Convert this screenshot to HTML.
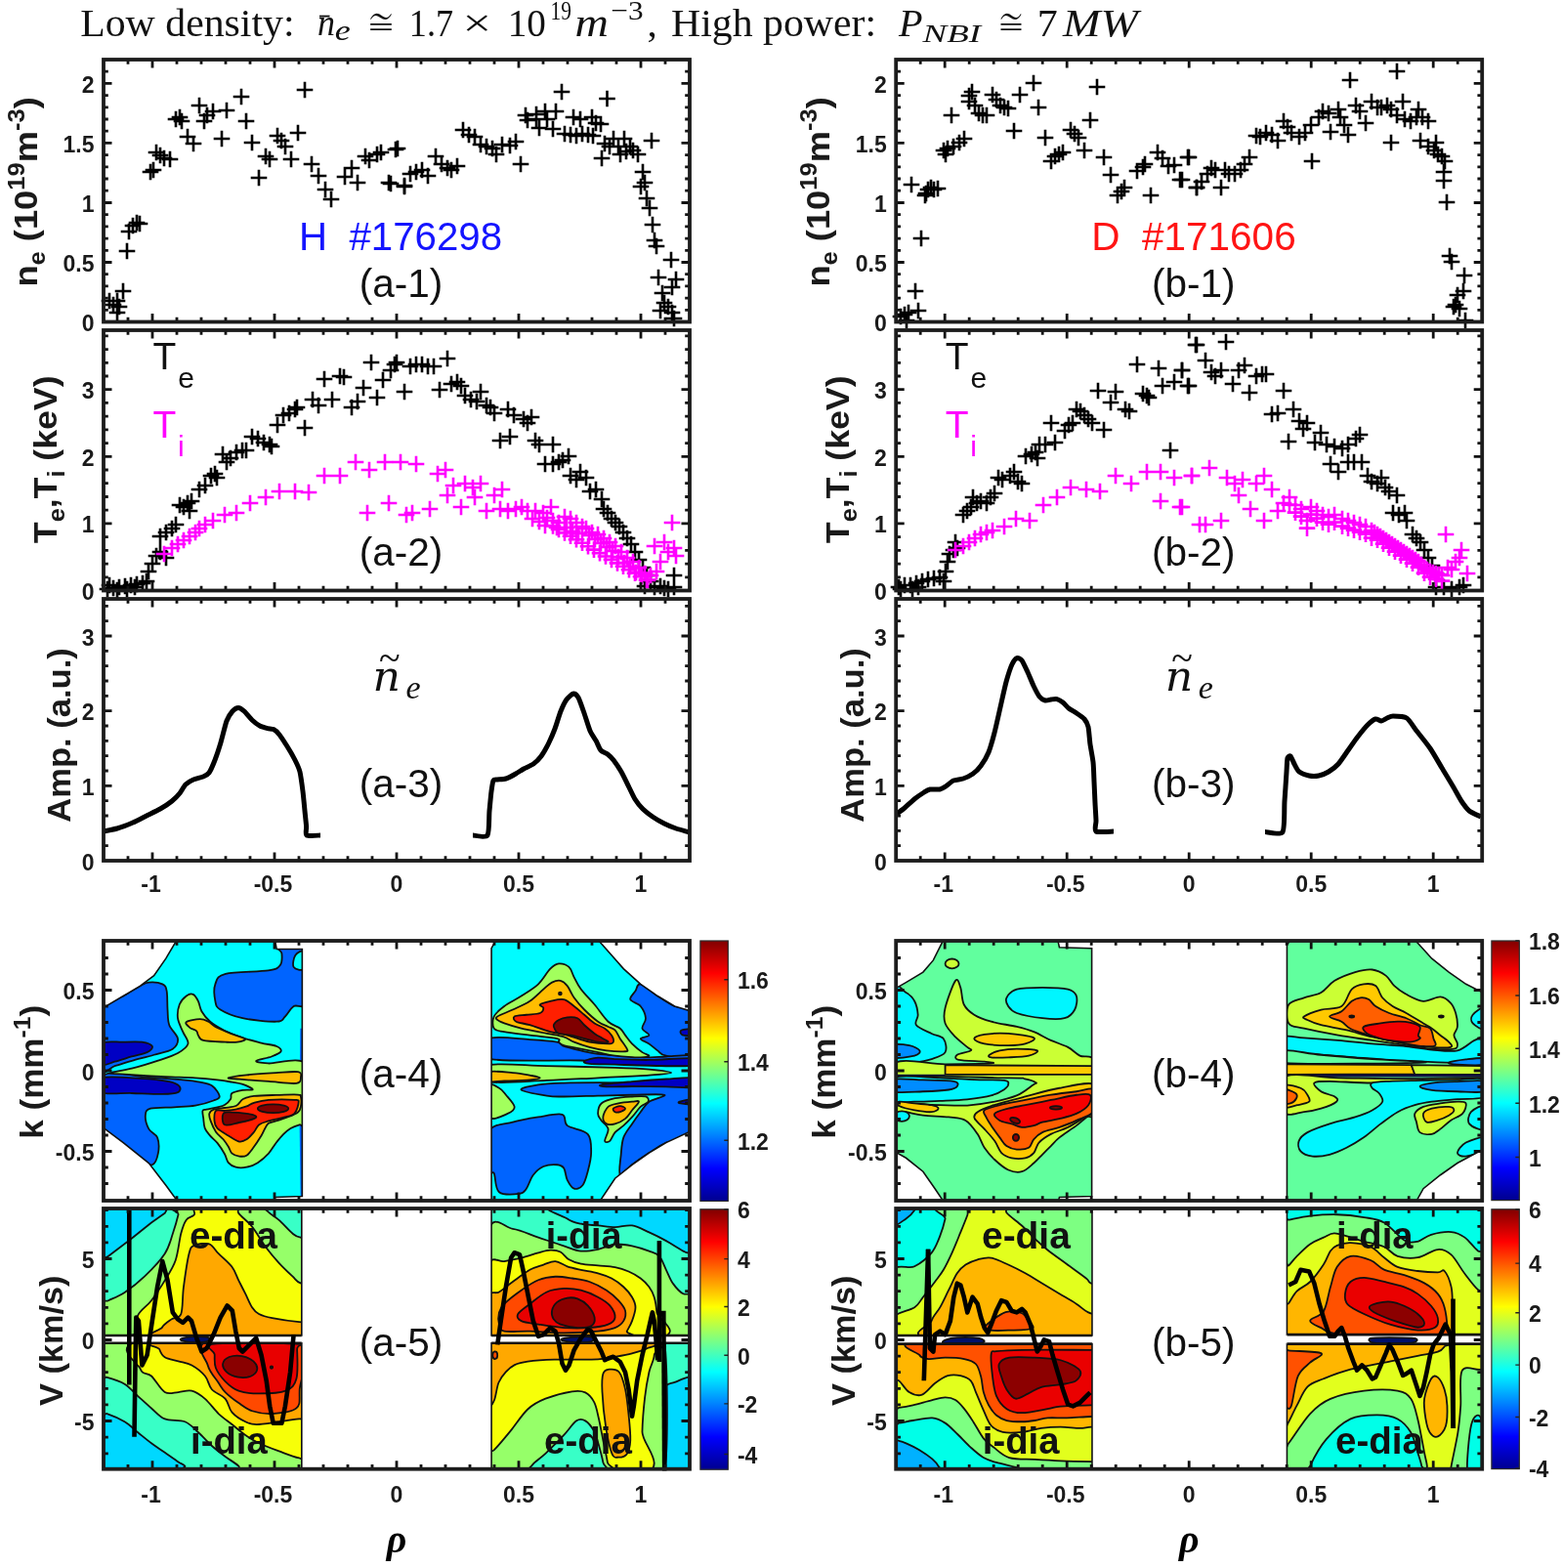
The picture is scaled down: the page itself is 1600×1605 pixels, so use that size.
<!DOCTYPE html>
<html><head><meta charset="utf-8"><title>Profiles and spectra</title>
<style>html,body{margin:0;padding:0;background:#fff;}svg{display:block;}</style></head><body>
<svg width="1600" height="1605" viewBox="0 0 1600 1605" font-family="'Liberation Sans', Arial, Helvetica, sans-serif">
<defs>
<linearGradient id="jet" x1="0" y1="1" x2="0" y2="0"><stop offset="0" stop-color="#00008f"/><stop offset="0.125" stop-color="#0000ff"/><stop offset="0.375" stop-color="#00ffff"/><stop offset="0.625" stop-color="#ffff00"/><stop offset="0.875" stop-color="#ff0000"/><stop offset="1" stop-color="#800000"/></linearGradient>
<clipPath id="clip03"><rect x="106" y="963" width="600" height="266"/></clipPath>
<clipPath id="clip04"><rect x="106" y="1237" width="600" height="266.7"/></clipPath>
<clipPath id="clip13"><rect x="917.2" y="963" width="600" height="266"/></clipPath>
<clipPath id="clip14"><rect x="917.2" y="1237" width="600" height="266.7"/></clipPath>
</defs>
<rect width="1600" height="1605" fill="#fff"/>
<g clip-path="url(#clip03)">
<g transform="translate(100 955) scale(0.17446)">
<clipPath id="cg1"><path d="M30 440 L150 370 L250 310 L330 250 L400 150 L465 40 L1040 40 L1050 95 L1200 95 L1200 1545 L1040 1550 L1040 1590 L480 1590 L400 1480 L300 1350 L150 1230 L30 1140Z"/></clipPath>
<g clip-path="url(#cg1)">
<path d="M-100 -100 L1400 -100 L1400 1700 L-100 1700Z" fill="#00fcff"/>
<path d="M20 440 C41.7 369.2 111.7 391.7 150 370 C188.3 348.3 225 323.3 250 310 C275 296.7 278.3 291.7 300 290 C321.7 288.3 362.5 291.7 380 300 C397.5 308.3 400 315 405 340 C410 365 407.5 416.7 410 450 C412.5 483.3 410 511.7 420 540 C430 568.3 466.7 596.7 470 620 C473.3 643.3 463.3 664.2 440 680 C416.7 695.8 370 703.3 330 715 C290 726.7 238.3 739.2 200 750 C161.7 760.8 130 772.5 100 780 C70 787.5 33.3 851.7 20 795 C6.7 738.3 -1.7 510.8 20 440 Z" fill="#0064ff" stroke="#111" stroke-width="1.8" vector-effect="non-scaling-stroke" stroke-linejoin="round"/>
<path d="M20 845 C66.7 793 220 845.2 300 848 C380 850.8 450 857.5 500 862 C550 866.5 571.3 869.2 600 875 C628.7 880.8 652.8 883.3 672 897 C691.2 910.7 713.7 942.7 715 957 C716.3 971.3 703.7 973.7 680 983 C656.3 992.3 611.3 1006.5 573 1013 C534.7 1019.5 493.8 1019.2 450 1022 C406.2 1024.8 338.3 1022 310 1030 C281.7 1038 281.7 1050 280 1070 C278.3 1090 288.3 1128.3 300 1150 C311.7 1171.7 340.8 1176.7 350 1200 C359.2 1223.3 360 1263.3 355 1290 C350 1316.7 337.5 1353.3 320 1360 C302.5 1366.7 278.3 1350 250 1330 C221.7 1310 188.3 1268.3 150 1240 C111.7 1211.7 41.7 1225.8 20 1160 C-1.7 1094.2 -26.7 897 20 845 Z" fill="#0064ff" stroke="#111" stroke-width="1.8" vector-effect="non-scaling-stroke" stroke-linejoin="round"/>
<path d="M1060 80 C1085 73.3 1201.7 26.7 1230 80 C1258.3 133.3 1243.3 341.7 1230 400 C1216.7 458.3 1171.7 415 1150 430 C1128.3 445 1116.7 475 1100 490 C1083.3 505 1091.7 518.3 1050 520 C1008.3 521.7 905 511.7 850 500 C795 488.3 746.7 466.7 720 450 C693.3 433.3 695 425 690 400 C685 375 680 326.7 690 300 C700 273.3 698.3 253.3 750 240 C801.7 226.7 946.7 228.3 1000 220 C1053.3 211.7 1056.7 206.7 1070 190 C1083.3 173.3 1081.7 138.3 1080 120 C1078.3 101.7 1035 86.7 1060 80 Z" fill="#0064ff" stroke="#111" stroke-width="1.8" vector-effect="non-scaling-stroke" stroke-linejoin="round"/>
<path d="M1150 200 C1141.7 186.7 1150 145 1160 130 C1170 115 1201.7 96.7 1210 110 C1218.3 123.3 1220 195 1210 210 C1200 225 1158.3 213.3 1150 200 Z" fill="#00fcff" stroke="#111" stroke-width="1.8" vector-effect="non-scaling-stroke" stroke-linejoin="round"/>
<path d="M1188 560 L1230 560 L1230 1560 L1190 1560 L1184 1100 L1186 800Z" fill="#0064ff"/>
<path d="M20 650 C41.7 628.3 110 641.7 150 640 C190 638.3 231.7 635.8 260 640 C288.3 644.2 315 655 320 665 C325 675 310 690 290 700 C270 710 231.7 715.8 200 725 C168.3 734.2 130 747.5 100 755 C70 762.5 33.3 787.5 20 770 C6.7 752.5 -1.7 671.7 20 650 Z" fill="#0000c4" stroke="#111" stroke-width="1.8" vector-effect="non-scaling-stroke" stroke-linejoin="round"/>
<path d="M20 850 C58.3 836.3 183.3 849.3 250 853 C316.7 856.7 381.7 864.2 420 872 C458.3 879.8 471.7 889.5 480 900 C488.3 910.5 486.7 927.5 470 935 C453.3 942.5 425 944.2 380 945 C335 945.8 260 941.7 200 940 C140 938.3 50 950 20 935 C-10 920 -18.3 863.7 20 850 Z" fill="#0000c4" stroke="#111" stroke-width="1.8" vector-effect="non-scaling-stroke" stroke-linejoin="round"/>
<path d="M85 818 C104.2 813 155.8 806.3 200 795 C244.2 783.7 305 765 350 750 C395 735 440 721.7 470 705 C500 688.3 525 670.8 530 650 C535 629.2 510 605 500 580 C490 555 473.3 526.7 470 500 C466.7 473.3 471.7 441.7 480 420 C488.3 398.3 506.7 380 520 370 C533.3 360 548.3 355 560 360 C571.7 365 581.7 383.3 590 400 C598.3 416.7 598.3 440 610 460 C621.7 480 638.3 501.7 660 520 C681.7 538.3 708.3 554.2 740 570 C771.7 585.8 813.3 602.5 850 615 C886.7 627.5 926.7 636.7 960 645 C993.3 653.3 1030.8 656.7 1050 665 C1069.2 673.3 1080 685 1075 695 C1070 705 1044.2 715.8 1020 725 C995.8 734.2 933.3 743.3 930 750 C926.7 756.7 950 760.8 1000 765 C1050 769.2 1191.7 716.2 1230 775 C1268.3 833.8 1237.7 1059.7 1230 1118 C1222.3 1176.3 1200.3 1120.3 1184 1125 C1167.7 1129.7 1147.8 1136.7 1132 1146 C1116.2 1155.3 1103.3 1166.7 1089 1181 C1074.7 1195.3 1060.3 1213.3 1046 1232 C1031.7 1250.7 1020.8 1273.7 1003 1293 C985.2 1312.3 960.5 1334.5 939 1348 C917.5 1361.5 895.5 1369.7 874 1374 C852.5 1378.3 827.8 1378.3 810 1374 C792.2 1369.7 777.8 1360.8 767 1348 C756.2 1335.2 755.8 1316.3 745 1297 C734.2 1277.7 716.3 1250 702 1232 C687.7 1214 671.2 1203.3 659 1189 C646.8 1174.7 635.5 1163.2 629 1146 C622.5 1128.8 622.2 1103.2 620 1086 C617.8 1068.8 613 1051.5 616 1043 C619 1034.5 623.7 1038.5 638 1035 C652.3 1031.5 684.2 1026.3 702 1022 C719.8 1017.7 732 1017 745 1009 C758 1001 772.8 985.5 780 974 C787.2 962.5 776 948.7 788 940 C800 931.3 831.7 925.7 852 922 C872.3 918.3 910 923.7 910 918 C910 912.3 872.3 895.2 852 888 C831.7 880.8 813 879.3 788 875 C763 870.7 737.8 866.2 702 862 C666.2 857.8 623.3 853.2 573 850 C522.7 846.8 462.2 846 400 843 C337.8 840 252.5 835 200 832 C147.5 829 104.2 827.3 85 825 C65.8 822.7 65.8 823 85 818 Z" fill="#a2ff5d" stroke="#111" stroke-width="1.8" vector-effect="non-scaling-stroke" stroke-linejoin="round"/>
<path d="M520 522 C530 513.7 578.3 505.3 600 505 C621.7 504.7 635 512.5 650 520 C665 527.5 668.3 538.3 690 550 C711.7 561.7 750.8 578 780 590 C809.2 602 858.3 613.7 865 622 C871.7 630.3 839.2 637 820 640 C800.8 643 783.3 641.7 750 640 C716.7 638.3 646.7 636.7 620 630 C593.3 623.3 596.7 609.2 590 600 C583.3 590.8 588.3 582.5 580 575 C571.7 567.5 550 563.8 540 555 C530 546.2 510 530.3 520 522 Z" fill="#ffbd00" stroke="#111" stroke-width="1.8" vector-effect="non-scaling-stroke" stroke-linejoin="round"/>
<path d="M767 850 C774.2 845.8 827.5 838 874 833 C920.5 828 995.8 823 1046 820 C1096.2 817 1150.7 810.8 1175 815 C1199.3 819.2 1193.5 833.8 1192 845 C1190.5 856.2 1197.5 877.7 1166 882 C1134.5 886.3 1058.8 875 1003 871 C947.2 867 870.3 861.5 831 858 C791.7 854.5 759.8 854.2 767 850 Z" fill="#ffbd00" stroke="#111" stroke-width="1.8" vector-effect="non-scaling-stroke" stroke-linejoin="round"/>
<path d="M655 1060 C652 1071.3 656.5 1085 663 1103 C669.5 1121 681.7 1150 694 1168 C706.3 1186 724.8 1196.7 737 1211 C749.2 1225.3 758.5 1240.3 767 1254 C775.5 1267.7 777.3 1283.7 788 1293 C798.7 1302.3 816.7 1308 831 1310 C845.3 1312 861.2 1312.2 874 1305 C886.8 1297.8 893.7 1286.3 908 1267 C922.3 1247.7 947.7 1209.2 960 1189 C972.3 1168.8 974.8 1158.2 982 1146 C989.2 1133.8 992.3 1123.2 1003 1116 C1013.7 1108.8 1028 1108.7 1046 1103 C1064 1097.3 1089.5 1090.5 1111 1082 C1132.5 1073.5 1161.5 1062.8 1175 1052 C1188.5 1041.2 1189.2 1032 1192 1017 C1194.8 1002 1194.8 973.3 1192 962 C1189.2 950.7 1199.3 950.8 1175 949 C1150.7 947.2 1089 949.7 1046 951 C1003 952.3 949.2 953.2 917 957 C884.8 960.8 870.2 964.7 853 974 C835.8 983.3 832 1004.3 814 1013 C796 1021.7 767.2 1022.3 745 1026 C722.8 1029.7 696 1029.3 681 1035 C666 1040.7 658 1048.7 655 1060 Z" fill="#ffbd00" stroke="#111" stroke-width="1.8" vector-effect="non-scaling-stroke" stroke-linejoin="round"/>
<path d="M694 1043 C684 1053 683.7 1085.8 685 1103 C686.3 1120.2 688.3 1131.7 702 1146 C715.7 1160.3 745.5 1176 767 1189 C788.5 1202 813.2 1220.3 831 1224 C848.8 1227.7 859.7 1220.3 874 1211 C888.3 1201.7 904.8 1182.3 917 1168 C929.2 1153.7 932.7 1135.8 947 1125 C961.3 1114.2 979.3 1110.2 1003 1103 C1026.7 1095.8 1063.8 1089.2 1089 1082 C1114.2 1074.8 1139 1075 1154 1060 C1169 1045 1179 1005.5 1179 992 C1179 978.5 1183.3 981.2 1154 979 C1124.7 976.8 1042.5 976.2 1003 979 C963.5 981.8 938.5 989.7 917 996 C895.5 1002.3 891.8 1010.5 874 1017 C856.2 1023.5 831.5 1030.7 810 1035 C788.5 1039.3 764.3 1041.7 745 1043 C725.7 1044.3 704 1033 694 1043 Z" fill="#ff1f00" stroke="#111" stroke-width="1.8" vector-effect="non-scaling-stroke" stroke-linejoin="round"/>
<path d="M737 1060 C729.8 1072.2 729.3 1116.3 745 1125 C760.7 1133.7 802.3 1117.8 831 1112 C859.7 1106.2 901.2 1096.5 917 1090 C932.8 1083.5 933.2 1078 926 1073 C918.8 1068 897 1063.5 874 1060 C851 1056.5 810.8 1052 788 1052 C765.2 1052 744.2 1047.8 737 1060 Z" fill="#800000" stroke="#111" stroke-width="1.8" vector-effect="non-scaling-stroke" stroke-linejoin="round"/>
<ellipse cx="1029" cy="1030" rx="90" ry="25" transform="rotate(0 1029 1030)" fill="#800000" stroke="#111" stroke-width="1.8" vector-effect="non-scaling-stroke"/>
</g>
<path d="M30 440 L150 370 L250 310 L330 250 L400 150 L465 40 L1040 40 L1050 95 L1200 95 L1200 1545 L1040 1550 L1040 1590 L480 1590 L400 1480 L300 1350 L150 1230 L30 1140Z" fill="none" stroke="#111" stroke-width="1.6" vector-effect="non-scaling-stroke"/>
</g>
<g transform="translate(490 955) scale(0.17446)">
<clipPath id="cg2"><path d="M75 90 L100 45 L700 40 L780 130 L850 210 L950 300 L1050 370 L1150 430 L1250 460 L1250 1160 L1100 1230 L1000 1290 L900 1360 L800 1440 L700 1590 L75 1590Z"/></clipPath>
<g clip-path="url(#cg2)">
<path d="M-100 -100 L1400 -100 L1400 1700 L-100 1700Z" fill="#00fcff"/>
<path d="M890 390 C885 375 910 355 920 340 C930 325 928.3 295 950 300 C971.7 305 1016.7 348.3 1050 370 C1083.3 391.7 1115 415 1150 430 C1185 445 1241.7 411.7 1260 460 C1278.3 508.3 1286.7 676.7 1260 720 C1233.3 763.3 1135 725 1100 720 C1065 715 1066.7 701.7 1050 690 C1033.3 678.3 1016.7 661.7 1000 650 C983.3 638.3 950 628.3 950 620 C950 611.7 998.3 610 1000 600 C1001.7 590 963.3 576.7 960 560 C956.7 543.3 981.7 521.7 980 500 C978.3 478.3 965 448.3 950 430 C935 411.7 895 405 890 390 Z" fill="#0064ff" stroke="#111" stroke-width="1.8" vector-effect="non-scaling-stroke" stroke-linejoin="round"/>
<path d="M60 620 C100 601.2 233.3 621.7 300 625 C366.7 628.3 426.7 633.3 460 640 C493.3 646.7 476.7 656.7 500 665 C523.3 673.3 566.7 682.5 600 690 C633.3 697.5 658.3 705 700 710 C741.7 715 800 716.7 850 720 C900 723.3 958.3 729.2 1000 730 C1041.7 730.8 1056.7 726.7 1100 725 C1143.3 723.3 1233.3 712.5 1260 720 C1286.7 727.5 1320 762.5 1260 770 C1200 777.5 1010 768.7 900 765 C790 761.3 740 752.5 600 748 C460 743.5 150 759.3 60 738 C-30 716.7 20 638.8 60 620 Z" fill="#0064ff" stroke="#111" stroke-width="1.8" vector-effect="non-scaling-stroke" stroke-linejoin="round"/>
<path d="M620 752 C628.3 746.2 670 734 700 732 C730 730 750 737.8 800 740 C850 742.2 923.3 745.8 1000 745 C1076.7 744.2 1216.7 729.5 1260 735 C1303.3 740.5 1303.3 770.8 1260 778 C1216.7 785.2 1076.7 779 1000 778 C923.3 777 858.3 773.8 800 772 C741.7 770.2 680 770.3 650 767 C620 763.7 611.7 757.8 620 752 Z" fill="#0000c4" stroke="#111" stroke-width="1.8" vector-effect="non-scaling-stroke" stroke-linejoin="round"/>
<path d="M60 775 C116.7 759.7 276.7 777.5 400 780 C523.3 782.5 700 786.7 800 790 C900 793.3 945 795 1000 800 C1055 805 1130 814.2 1130 820 C1130 825.8 1071.7 830 1000 835 C928.3 840 800 845 700 850 C600 855 506.7 861.3 400 865 C293.3 868.7 116.7 887 60 872 C3.3 857 3.3 790.3 60 775 Z" fill="#a2ff5d" stroke="#111" stroke-width="1.8" vector-effect="non-scaling-stroke" stroke-linejoin="round"/>
<path d="M60 815 C83.3 806.7 160 816.7 200 820 C240 823.3 273.3 830 300 835 C326.7 840 360 845.5 360 850 C360 854.5 335 859 300 862 C265 865 190 866.7 150 868 C110 869.3 75 878.8 60 870 C45 861.2 36.7 823.3 60 815 Z" fill="#ffbd00" stroke="#111" stroke-width="1.8" vector-effect="non-scaling-stroke" stroke-linejoin="round"/>
<path d="M250 920 C241.7 909.2 308.3 896.7 350 890 C391.7 883.3 441.7 882 500 880 C558.3 878 633.3 878 700 878 C766.7 878 835 878 900 880 C965 882 1030 890 1090 890 C1150 890 1231.7 833.3 1260 880 C1288.3 926.7 1286.7 1111.7 1260 1170 C1233.3 1228.3 1143.3 1210 1100 1230 C1056.7 1250 1033.3 1268.3 1000 1290 C966.7 1311.7 928.3 1338.3 900 1360 C871.7 1381.7 840.8 1430 830 1420 C819.2 1410 831.7 1336.7 835 1300 C838.3 1263.3 839.2 1230 850 1200 C860.8 1170 883.3 1145 900 1120 C916.7 1095 933.3 1071.7 950 1050 C966.7 1028.3 976.7 1006.7 1000 990 C1023.3 973.3 1106.7 956.7 1090 950 C1073.3 943.3 965 949.2 900 950 C835 950.8 766.7 953.3 700 955 C633.3 956.7 550 960 500 960 C450 960 441.7 961.7 400 955 C358.3 948.3 258.3 930.8 250 920 Z" fill="#0064ff" stroke="#111" stroke-width="1.8" vector-effect="non-scaling-stroke" stroke-linejoin="round"/>
<path d="M720 890 C745 885 836.7 877.5 900 872 C963.3 866.5 1040 860.3 1100 857 C1160 853.7 1233.3 844 1260 852 C1286.7 860 1286.7 896.7 1260 905 C1233.3 913.3 1160 902.8 1100 902 C1040 901.2 958.3 900 900 900 C841.7 900 780 903.7 750 902 C720 900.3 695 895 720 890 Z" fill="#0000c4" stroke="#111" stroke-width="1.8" vector-effect="non-scaling-stroke" stroke-linejoin="round"/>
<path d="M1190 570 C1200.8 564.5 1248.3 560 1260 565 C1271.7 570 1270.8 594.5 1260 600 C1249.2 605.5 1206.7 603 1195 598 C1183.3 593 1179.2 575.5 1190 570 Z" fill="#0000c4" stroke="#111" stroke-width="1.8" vector-effect="non-scaling-stroke" stroke-linejoin="round"/>
<path d="M1180 990 C1192.5 985.8 1246.7 972.5 1260 975 C1273.3 977.5 1272.5 1000.8 1260 1005 C1247.5 1009.2 1198.3 1002.5 1185 1000 C1171.7 997.5 1167.5 994.2 1180 990 Z" fill="#0000c4" stroke="#111" stroke-width="1.8" vector-effect="non-scaling-stroke" stroke-linejoin="round"/>
<path d="M60 900 C70 871.7 103.3 901.7 120 910 C136.7 918.3 145 931.7 160 950 C175 968.3 208.3 1001.7 210 1020 C211.7 1038.3 195 1050 170 1060 C145 1070 78.3 1106.7 60 1080 C41.7 1053.3 50 928.3 60 900 Z" fill="#a2ff5d" stroke="#111" stroke-width="1.8" vector-effect="non-scaling-stroke" stroke-linejoin="round"/>
<path d="M60 1165 C83.3 1116.7 151.7 1124.2 200 1110 C248.3 1095.8 301.7 1087.5 350 1080 C398.3 1072.5 461.7 1056.7 490 1065 C518.3 1073.3 495 1110.8 520 1130 C545 1149.2 616.7 1153.3 640 1180 C663.3 1206.7 660 1253.3 660 1290 C660 1326.7 648.3 1368.3 640 1400 C631.7 1431.7 623.3 1463.3 610 1480 C596.7 1496.7 575 1505 560 1500 C545 1495 530 1470 520 1450 C510 1430 510 1395 500 1380 C490 1365 480 1361.7 460 1360 C440 1358.3 403.3 1360 380 1370 C356.7 1380 336.7 1398.3 320 1420 C303.3 1441.7 293.3 1481.7 280 1500 C266.7 1518.3 266.7 1526.7 240 1530 C213.3 1533.3 145 1540 120 1520 C95 1500 100 1430 90 1410 C80 1390 65 1440.8 60 1400 C55 1359.2 36.7 1213.3 60 1165 Z" fill="#0064ff" stroke="#111" stroke-width="1.8" vector-effect="non-scaling-stroke" stroke-linejoin="round"/>
<path d="M90 490 C100 468.3 123.3 450 150 430 C176.7 410 216.7 391.7 250 370 C283.3 348.3 321.7 326.7 350 300 C378.3 273.3 400 230 420 210 C440 190 451.7 181.7 470 180 C488.3 178.3 515 186.7 530 200 C545 213.3 548.3 238.3 560 260 C571.7 281.7 580 303.3 600 330 C620 356.7 653.3 388.3 680 420 C706.7 451.7 735 496.7 760 520 C785 543.3 813.3 546.7 830 560 C846.7 573.3 848.3 585 860 600 C871.7 615 883.3 633.3 900 650 C916.7 666.7 943.3 688.3 960 700 C976.7 711.7 1001.7 715 1000 720 C998.3 725 983.3 730 950 730 C916.7 730 841.7 725 800 720 C758.3 715 733.3 706.7 700 700 C666.7 693.3 633.3 686.7 600 680 C566.7 673.3 521.7 666.7 500 660 C478.3 653.3 476.7 646.7 470 640 C463.3 633.3 488.3 626.7 460 620 C431.7 613.3 351.7 606.7 300 600 C248.3 593.3 185 586.7 150 580 C115 573.3 100 575 90 560 C80 545 80 511.7 90 490 Z" fill="#a2ff5d" stroke="#111" stroke-width="1.8" vector-effect="non-scaling-stroke" stroke-linejoin="round"/>
<path d="M110 490 C125 480 168.3 465 200 450 C231.7 435 270 420 300 400 C330 380 358.3 348.3 380 330 C401.7 311.7 413.3 298.3 430 290 C446.7 281.7 465 276.7 480 280 C495 283.3 506.7 293.3 520 310 C533.3 326.7 543.3 356.7 560 380 C576.7 403.3 596.7 426.7 620 450 C643.3 473.3 676.7 503.3 700 520 C723.3 536.7 743.3 541.7 760 550 C776.7 558.3 788.3 558.3 800 570 C811.7 581.7 818.3 601.7 830 620 C841.7 638.3 865 667.5 870 680 C875 692.5 880 693.3 860 695 C840 696.7 785 694.2 750 690 C715 685.8 681.7 678.3 650 670 C618.3 661.7 585 650 560 640 C535 630 526.7 618.3 500 610 C473.3 601.7 441.7 598.3 400 590 C358.3 581.7 291.7 570 250 560 C208.3 550 173.3 538.3 150 530 C126.7 521.7 116.7 516.7 110 510 C103.3 503.3 95 500 110 490 Z" fill="#ffbd00" stroke="#111" stroke-width="1.8" vector-effect="non-scaling-stroke" stroke-linejoin="round"/>
<path d="M210 490 C220 483.3 255 483.3 280 480 C305 476.7 343.3 476.7 360 470 C376.7 463.3 380 448.3 380 440 C380 431.7 353.3 426.7 360 420 C366.7 413.3 396.7 405 420 400 C443.3 395 476.7 385 500 390 C523.3 395 540 415 560 430 C580 445 600 463.3 620 480 C640 496.7 660 516.7 680 530 C700 543.3 723.3 548.3 740 560 C756.7 571.7 771.7 586.7 780 600 C788.3 613.3 793.3 631.7 790 640 C786.7 648.3 783.3 650 760 650 C736.7 650 690 648.3 650 640 C610 631.7 558.3 610 520 600 C481.7 590 456.7 590 420 580 C383.3 570 333.3 550 300 540 C266.7 530 235 528.3 220 520 C205 511.7 200 496.7 210 490 Z" fill="#ff1f00" stroke="#111" stroke-width="1.8" vector-effect="non-scaling-stroke" stroke-linejoin="round"/>
<path d="M440 540 C443.3 530 456.7 517.5 470 510 C483.3 502.5 501.7 496.7 520 495 C538.3 493.3 563.3 492.5 580 500 C596.7 507.5 603.3 525 620 540 C636.7 555 661.7 576.7 680 590 C698.3 603.3 716.7 611.7 730 620 C743.3 628.3 765 636.7 760 640 C755 643.3 723.3 643.3 700 640 C676.7 636.7 646.7 626.7 620 620 C593.3 613.3 565 605 540 600 C515 595 485 595 470 590 C455 585 455 578.3 450 570 C445 561.7 436.7 550 440 540 Z" fill="#800000" stroke="#111" stroke-width="1.8" vector-effect="non-scaling-stroke" stroke-linejoin="round"/>
<ellipse cx="478" cy="355" rx="8" ry="8" transform="rotate(0 478 355)" fill="#333" stroke="#111" stroke-width="1.8" vector-effect="non-scaling-stroke"/>
<path d="M700 1060 C700 1043.3 703.3 1015 720 1000 C736.7 985 770 976.7 800 970 C830 963.3 870 961.7 900 960 C930 958.3 964.2 955 980 960 C995.8 965 1000 980 995 990 C990 1000 965.8 1005 950 1020 C934.2 1035 916.7 1061.7 900 1080 C883.3 1098.3 866.7 1115 850 1130 C833.3 1145 813.3 1155 800 1170 C786.7 1185 780 1211.7 770 1220 C760 1228.3 741.7 1231.7 740 1220 C738.3 1208.3 763.3 1170 760 1150 C756.7 1130 730 1115 720 1100 C710 1085 700 1076.7 700 1060 Z" fill="#a2ff5d" stroke="#111" stroke-width="1.8" vector-effect="non-scaling-stroke" stroke-linejoin="round"/>
<path d="M730 1080 C731.7 1063.3 745 1033.3 760 1020 C775 1006.7 796.7 1005 820 1000 C843.3 995 880 991.7 900 990 C920 988.3 940 981.7 940 990 C940 998.3 913.3 1023.3 900 1040 C886.7 1056.7 876.7 1076.7 860 1090 C843.3 1103.3 818.3 1115 800 1120 C781.7 1125 761.7 1126.7 750 1120 C738.3 1113.3 728.3 1096.7 730 1080 Z" fill="#ffbd00" stroke="#111" stroke-width="1.8" vector-effect="non-scaling-stroke" stroke-linejoin="round"/>
<path d="M790 1030 C795 1024.2 818.3 1015 830 1015 C841.7 1015 860 1024.2 860 1030 C860 1035.8 840 1046.7 830 1050 C820 1053.3 806.7 1053.3 800 1050 C793.3 1046.7 785 1035.8 790 1030 Z" fill="#ff1f00" stroke="#111" stroke-width="1.8" vector-effect="non-scaling-stroke" stroke-linejoin="round"/>
</g>
<path d="M75 90 L100 45 L700 40 L780 130 L850 210 L950 300 L1050 370 L1150 430 L1250 460 L1250 1160 L1100 1230 L1000 1290 L900 1360 L800 1440 L700 1590 L75 1590Z" fill="none" stroke="#111" stroke-width="1.6" vector-effect="non-scaling-stroke"/>
</g>
</g>
<g clip-path="url(#clip13)">
<g transform="translate(910 955) scale(0.17446)">
<clipPath id="cg3"><path d="M30 330 L100 290 L200 230 L260 160 L320 40 L990 40 L1000 85 L1190 90 L1190 1545 L1000 1550 L990 1590 L330 1590 L270 1500 L200 1400 L100 1320 L30 1280Z"/></clipPath>
<g clip-path="url(#cg3)">
<path d="M-100 -100 L1400 -100 L1400 1700 L-100 1700Z" fill="#61ff9e"/>
<path d="M20 330 C33.3 260.8 78.3 338.3 100 350 C121.7 361.7 138.3 378.3 150 400 C161.7 421.7 168.3 456.7 170 480 C171.7 503.3 146.7 521.7 160 540 C173.3 558.3 223.3 576.7 250 590 C276.7 603.3 306.7 601.7 320 620 C333.3 638.3 341.7 680 330 700 C318.3 720 280 730 250 740 C220 750 188.3 755.8 150 760 C111.7 764.2 41.7 836.7 20 765 C-1.7 693.3 6.7 399.2 20 330 Z" fill="#00f6ff" stroke="#111" stroke-width="1.8" vector-effect="non-scaling-stroke" stroke-linejoin="round"/>
<path d="M20 660 C36.7 648.3 93.3 655 120 660 C146.7 665 175 680 180 690 C185 700 176.7 713.3 150 720 C123.3 726.7 41.7 740 20 730 C-1.7 720 3.3 671.7 20 660 Z" fill="#008cff" stroke="#111" stroke-width="1.8" vector-effect="non-scaling-stroke" stroke-linejoin="round"/>
<ellipse cx="370" cy="180" rx="40" ry="28" transform="rotate(0 370 180)" fill="#cbff34" stroke="#111" stroke-width="1.8" vector-effect="non-scaling-stroke"/>
<path d="M690 380 C698.3 363.3 715 340 750 330 C785 320 850 320 900 320 C950 320 1016.7 321.7 1050 330 C1083.3 338.3 1093.3 350 1100 370 C1106.7 390 1101.7 428.3 1090 450 C1078.3 471.7 1061.7 491.7 1030 500 C998.3 508.3 946.7 505 900 500 C853.3 495 783.3 481.7 750 470 C716.7 458.3 710 445 700 430 C690 415 681.7 396.7 690 380 Z" fill="#00f6ff" stroke="#111" stroke-width="1.8" vector-effect="non-scaling-stroke" stroke-linejoin="round"/>
<path d="M390 280 C405 260 411.7 296.7 420 320 C428.3 343.3 426.7 393.3 440 420 C453.3 446.7 473.3 463.3 500 480 C526.7 496.7 558.3 508.3 600 520 C641.7 531.7 708.3 540 750 550 C791.7 560 816.7 566.7 850 580 C883.3 593.3 916.7 615 950 630 C983.3 645 1021.7 655 1050 670 C1078.3 685 1093.3 705 1120 720 C1146.7 735 1195 705 1210 760 C1225 815 1218.3 996.7 1210 1050 C1201.7 1103.3 1178.3 1066.7 1160 1080 C1141.7 1093.3 1126.7 1110 1100 1130 C1073.3 1150 1025 1180 1000 1200 C975 1220 966.7 1233.3 950 1250 C933.3 1266.7 916.7 1283.3 900 1300 C883.3 1316.7 870 1333.3 850 1350 C830 1366.7 805 1393.3 780 1400 C755 1406.7 726.7 1401.7 700 1390 C673.3 1378.3 643.3 1351.7 620 1330 C596.7 1308.3 576.7 1285 560 1260 C543.3 1235 538.3 1206.7 520 1180 C501.7 1153.3 478.3 1116.7 450 1100 C421.7 1083.3 391.7 1085 350 1080 C308.3 1075 241.7 1075 200 1070 C158.3 1065 130 1055 100 1050 C70 1045 33.3 1086.7 20 1040 C6.7 993.3 -31.7 815 20 770 C71.7 725 233.3 770.8 330 770 C426.7 769.2 561.7 767.5 600 765 C638.3 762.5 591.7 758.3 560 755 C528.3 751.7 436.7 751.7 410 745 C383.3 738.3 388.3 724.2 400 715 C411.7 705.8 470 697.5 480 690 C490 682.5 475 683.3 460 670 C445 656.7 411.7 633.3 390 610 C368.3 586.7 340 558.3 330 530 C320 501.7 320 481.7 330 440 C340 398.3 375 300 390 280 Z" fill="#cbff34" stroke="#111" stroke-width="1.8" vector-effect="non-scaling-stroke" stroke-linejoin="round"/>
<path d="M500 620 C500 610.8 526.7 600 560 595 C593.3 590 651.7 586.7 700 590 C748.3 593.3 833.3 605 850 615 C866.7 625 825 642.5 800 650 C775 657.5 740 660 700 660 C660 660 593.3 656.7 560 650 C526.7 643.3 500 629.2 500 620 Z" fill="#ffc900" stroke="#111" stroke-width="1.8" vector-effect="non-scaling-stroke" stroke-linejoin="round"/>
<path d="M590 715 C598.3 708.3 623.3 695.8 650 690 C676.7 684.2 713.3 680 750 680 C786.7 680 858.3 683.3 870 690 C881.7 696.7 848.3 713.3 820 720 C791.7 726.7 736.7 728.3 700 730 C663.3 731.7 618.3 732.5 600 730 C581.7 727.5 581.7 721.7 590 715 Z" fill="#ffc900" stroke="#111" stroke-width="1.8" vector-effect="non-scaling-stroke" stroke-linejoin="round"/>
<path d="M330 775 L1210 780 L1210 830 L330 830Z" fill="#ffc900" stroke="#111" stroke-width="1.8" vector-effect="non-scaling-stroke" stroke-linejoin="round"/>
<path d="M20 830 L330 830 L330 846 L20 846Z" fill="#101040"/>
<path d="M20 850 C133.3 825.2 570.5 850 700 851 C829.5 852 770 851.5 797 856 C824 860.5 853.8 872.2 862 878 C870.2 883.8 864.8 878.3 846 891 C827.2 903.7 789.3 937 749 954 C708.7 971 652.3 983.3 604 993 C555.7 1002.7 509.7 1009.2 459 1012 C408.3 1014.8 351.5 1011.2 300 1010 C248.5 1008.8 196.7 1006.7 150 1005 C103.3 1003.3 41.7 1025.8 20 1000 C-1.7 974.2 -93.3 874.8 20 850 Z" fill="#61ff9e" stroke="#111" stroke-width="1.8" vector-effect="non-scaling-stroke" stroke-linejoin="round"/>
<path d="M20 850 C66.7 828 220 848.3 300 850 C380 851.7 437.3 857.5 500 860 C562.7 862.5 642.7 860.2 676 865 C709.3 869.8 700 880.2 700 889 C700 897.8 692 907.5 676 918 C660 928.5 640.2 942.3 604 952 C567.8 961.7 509.7 970.5 459 976 C408.3 981.5 351.5 982.7 300 985 C248.5 987.3 196.7 990.5 150 990 C103.3 989.5 41.7 1005.3 20 982 C-1.7 958.7 -26.7 872 20 850 Z" fill="#00f6ff" stroke="#111" stroke-width="1.8" vector-effect="non-scaling-stroke" stroke-linejoin="round"/>
<path d="M20 860 C50 848.7 140 860.3 200 862 C260 863.7 346.7 863.7 380 870 C413.3 876.3 405 891.7 400 900 C395 908.3 383.3 915 350 920 C316.7 925 255 928.3 200 930 C145 931.7 50 941.7 20 930 C-10 918.3 -10 871.3 20 860 Z" fill="#008cff" stroke="#111" stroke-width="1.8" vector-effect="non-scaling-stroke" stroke-linejoin="round"/>
<path d="M60 990 C75 987.5 118.3 996.7 150 1000 C181.7 1003.3 226.7 1005 250 1010 C273.3 1015 290 1023.3 290 1030 C290 1036.7 273.3 1048.3 250 1050 C226.7 1051.7 181.7 1045.8 150 1040 C118.3 1034.2 75 1023.3 60 1015 C45 1006.7 45 992.5 60 990 Z" fill="#ffc900" stroke="#111" stroke-width="1.8" vector-effect="non-scaling-stroke" stroke-linejoin="round"/>
<ellipse cx="75" cy="1075" rx="45" ry="30" transform="rotate(0 75 1075)" fill="#00f6ff" stroke="#111" stroke-width="1.8" vector-effect="non-scaling-stroke"/>
<path d="M500 1080 C500 1070 503.3 1060.8 520 1050 C536.7 1039.2 553.3 1030 600 1015 C646.7 1000 733.3 977.5 800 960 C866.7 942.5 931.7 921.7 1000 910 C1068.3 898.3 1175 868.3 1210 890 C1245 911.7 1220 1008.3 1210 1040 C1200 1071.7 1176.7 1063.3 1150 1080 C1123.3 1096.7 1083.3 1123.3 1050 1140 C1016.7 1156.7 978.3 1165 950 1180 C921.7 1195 896.7 1211.7 880 1230 C863.3 1248.3 863.3 1275 850 1290 C836.7 1305 821.7 1315 800 1320 C778.3 1325 743.3 1325 720 1320 C696.7 1315 676.7 1306.7 660 1290 C643.3 1273.3 636.7 1243.3 620 1220 C603.3 1196.7 576.7 1168.3 560 1150 C543.3 1131.7 530 1121.7 520 1110 C510 1098.3 500 1090 500 1080 Z" fill="#ffc900" stroke="#111" stroke-width="1.8" vector-effect="non-scaling-stroke" stroke-linejoin="round"/>
<path d="M560 1040 C573.3 1028.3 610 1020 650 1010 C690 1000 750 990 800 980 C850 970 900 958.3 950 950 C1000 941.7 1056.7 935 1100 930 C1143.3 925 1191.7 901.7 1210 920 C1228.3 938.3 1228.3 1010 1210 1040 C1191.7 1070 1135 1083.3 1100 1100 C1065 1116.7 1033.3 1128.3 1000 1140 C966.7 1151.7 925 1158.3 900 1170 C875 1181.7 863.3 1195 850 1210 C836.7 1225 836.7 1250 820 1260 C803.3 1270 771.7 1271.7 750 1270 C728.3 1268.3 706.7 1261.7 690 1250 C673.3 1238.3 665 1220 650 1200 C635 1180 613.3 1150 600 1130 C586.7 1110 576.7 1095 570 1080 C563.3 1065 546.7 1051.7 560 1040 Z" fill="#ff5f00" stroke="#111" stroke-width="1.8" vector-effect="non-scaling-stroke" stroke-linejoin="round"/>
<path d="M620 1060 C628.3 1048.3 670 1038.3 700 1030 C730 1021.7 758.3 1018.3 800 1010 C841.7 1001.7 900 990 950 980 C1000 970 1061.7 955 1100 950 C1138.3 945 1168.3 940 1180 950 C1191.7 960 1183.3 991.7 1170 1010 C1156.7 1028.3 1128.3 1046.7 1100 1060 C1071.7 1073.3 1033.3 1081.7 1000 1090 C966.7 1098.3 925 1103.3 900 1110 C875 1116.7 870 1125 850 1130 C830 1135 801.7 1141.7 780 1140 C758.3 1138.3 741.7 1126.7 720 1120 C698.3 1113.3 666.7 1110 650 1100 C633.3 1090 611.7 1071.7 620 1060 Z" fill="#f50000" stroke="#111" stroke-width="1.8" vector-effect="non-scaling-stroke" stroke-linejoin="round"/>
<ellipse cx="740" cy="1100" rx="30" ry="15" transform="rotate(20 740 1100)" fill="#8a0000" stroke="#111" stroke-width="1.8" vector-effect="non-scaling-stroke"/>
<ellipse cx="980" cy="1025" rx="35" ry="10" transform="rotate(0 980 1025)" fill="#8a0000" stroke="#111" stroke-width="1.8" vector-effect="non-scaling-stroke"/>
<ellipse cx="745" cy="1200" rx="18" ry="20" transform="rotate(0 745 1200)" fill="#8a0000" stroke="#111" stroke-width="1.8" vector-effect="non-scaling-stroke"/>
</g>
<path d="M30 330 L100 290 L200 230 L260 160 L320 40 L990 40 L1000 85 L1190 90 L1190 1545 L1000 1550 L990 1590 L330 1590 L270 1500 L200 1400 L100 1320 L30 1280Z" fill="none" stroke="#111" stroke-width="1.6" vector-effect="non-scaling-stroke"/>
</g>
<g transform="translate(1300 955) scale(0.17446)">
<clipPath id="cg4"><path d="M100 70 L120 40 L850 40 L950 150 L1050 230 L1150 300 L1250 350 L1250 1270 L1100 1350 L1000 1420 L900 1500 L850 1590 L120 1590 L100 1560Z"/></clipPath>
<g clip-path="url(#cg4)">
<path d="M-100 -100 L1400 -100 L1400 1700 L-100 1700Z" fill="#61ff9e"/>
<path d="M110 420 C125 395 168.3 391.7 200 380 C231.7 368.3 270 366.7 300 350 C330 333.3 346.7 300 380 280 C413.3 260 463.3 240.8 500 230 C536.7 219.2 570 211.7 600 215 C630 218.3 658.3 234.2 680 250 C701.7 265.8 710 291.7 730 310 C750 328.3 771.7 345 800 360 C828.3 375 866.7 397.5 900 400 C933.3 402.5 973.3 373.3 1000 375 C1026.7 376.7 1045 394.2 1060 410 C1075 425.8 1083.3 446.7 1090 470 C1096.7 493.3 1101.7 528.3 1100 550 C1098.3 571.7 1080 583.3 1080 600 C1080 616.7 1100 636.7 1100 650 C1100 663.3 1105 675 1080 680 C1055 685 996.7 683.3 950 680 C903.3 676.7 858.3 668.3 800 660 C741.7 651.7 666.7 640 600 630 C533.3 620 466.7 611.7 400 600 C333.3 588.3 248.3 571.7 200 560 C151.7 548.3 125 553.3 110 530 C95 506.7 95 445 110 420 Z" fill="#cbff34" stroke="#111" stroke-width="1.8" vector-effect="non-scaling-stroke" stroke-linejoin="round"/>
<path d="M200 490 C213.3 480 263.3 460 300 450 C336.7 440 390 450 420 430 C450 410 458.3 351.7 480 330 C501.7 308.3 526.7 303.3 550 300 C573.3 296.7 601.7 296.7 620 310 C638.3 323.3 643.3 360 660 380 C676.7 400 696.7 415 720 430 C743.3 445 770 453.3 800 470 C830 486.7 875 515 900 530 C925 545 933.3 548.3 950 560 C966.7 571.7 983.3 586.7 1000 600 C1016.7 613.3 1040 628.3 1050 640 C1060 651.7 1076.7 665 1060 670 C1043.3 675 993.3 673.3 950 670 C906.7 666.7 858.3 660 800 650 C741.7 640 658.3 623.3 600 610 C541.7 596.7 500 581.7 450 570 C400 558.3 338.3 550 300 540 C261.7 530 236.7 518.3 220 510 C203.3 501.7 186.7 500 200 490 Z" fill="#ffc900" stroke="#111" stroke-width="1.8" vector-effect="non-scaling-stroke" stroke-linejoin="round"/>
<path d="M350 490 C350 480 398.3 475 420 460 C441.7 445 461.7 413.3 480 400 C498.3 386.7 513.3 381.7 530 380 C546.7 378.3 565 381.7 580 390 C595 398.3 600 416.7 620 430 C640 443.3 670 458.3 700 470 C730 481.7 770 488.3 800 500 C830 511.7 856.7 530 880 540 C903.3 550 926.7 546.7 940 560 C953.3 573.3 955 603.3 960 620 C965 636.7 980 652.5 970 660 C960 667.5 928.3 666.7 900 665 C871.7 663.3 841.7 657.5 800 650 C758.3 642.5 691.7 630 650 620 C608.3 610 580 600 550 590 C520 580 491.7 571.7 470 560 C448.3 548.3 440 531.7 420 520 C400 508.3 350 500 350 490 Z" fill="#ff5f00" stroke="#111" stroke-width="1.8" vector-effect="non-scaling-stroke" stroke-linejoin="round"/>
<path d="M550 550 C563.3 540 616.7 535 650 530 C683.3 525 721.7 520.8 750 520 C778.3 519.2 798.3 520 820 525 C841.7 530 871.7 537.5 880 550 C888.3 562.5 870 588.3 870 600 C870 611.7 888.3 613.3 880 620 C871.7 626.7 850 638.3 820 640 C790 641.7 733.3 635 700 630 C666.7 625 641.7 616.7 620 610 C598.3 603.3 581.7 600 570 590 C558.3 580 536.7 560 550 550 Z" fill="#f50000" stroke="#111" stroke-width="1.8" vector-effect="non-scaling-stroke" stroke-linejoin="round"/>
<ellipse cx="480" cy="490" rx="14" ry="6" transform="rotate(0 480 490)" fill="#400000" stroke="#111" stroke-width="1.8" vector-effect="non-scaling-stroke"/>
<ellipse cx="1005" cy="490" rx="14" ry="6" transform="rotate(0 1005 490)" fill="#400000" stroke="#111" stroke-width="1.8" vector-effect="non-scaling-stroke"/>
<path d="M80 610 C100 597.5 146.7 611.7 200 615 C253.3 618.3 333.3 624.2 400 630 C466.7 635.8 533.3 644.2 600 650 C666.7 655.8 741.7 659.2 800 665 C858.3 670.8 900 680.8 950 685 C1000 689.2 1058.3 699.2 1100 690 C1141.7 680.8 1173.3 641.7 1200 630 C1226.7 618.3 1250 598.3 1260 620 C1270 641.7 1286.7 736.3 1260 760 C1233.3 783.7 1160 762.8 1100 762 C1040 761.2 966.7 757.8 900 755 C833.3 752.2 766.7 749.2 700 745 C633.3 740.8 566.7 735 500 730 C433.3 725 358.3 720 300 715 C241.7 710 186.7 704.2 150 700 C113.3 695.8 91.7 705 80 690 C68.3 675 60 622.5 80 610 Z" fill="#00f6ff" stroke="#111" stroke-width="1.8" vector-effect="non-scaling-stroke" stroke-linejoin="round"/>
<path d="M80 690 C116.7 682.2 213.3 706.7 300 715 C386.7 723.3 500 732.5 600 740 C700 747.5 986.7 756.3 900 760 C813.3 763.7 216.7 773.7 80 762 C-56.7 750.3 43.3 697.8 80 690 Z" fill="#61ff9e" stroke="#111" stroke-width="1.8" vector-effect="non-scaling-stroke" stroke-linejoin="round"/>
<path d="M1050 760 C1058.3 755 1115 746.2 1150 742 C1185 737.8 1241.7 730 1260 735 C1278.3 740 1286.7 765.8 1260 772 C1233.3 778.2 1135 774 1100 772 C1065 770 1041.7 765 1050 760 Z" fill="#008cff" stroke="#111" stroke-width="1.8" vector-effect="non-scaling-stroke" stroke-linejoin="round"/>
<path d="M80 770 L830 775 L850 828 L80 830Z" fill="#ffc900" stroke="#111" stroke-width="1.8" vector-effect="non-scaling-stroke" stroke-linejoin="round"/>
<path d="M830 775 L1260 780 L1260 830 L850 830Z" fill="#cbff34" stroke="#111" stroke-width="1.8" vector-effect="non-scaling-stroke" stroke-linejoin="round"/>
<path d="M80 830 L1260 830 L1260 846 L80 846Z" fill="#101040"/>
<path d="M80 846 C133.3 812.7 280 848.5 400 850 C520 851.5 656.7 855 800 855 C943.3 855 1183.3 847.5 1260 850 C1336.7 852.5 1320 866.7 1260 870 C1200 873.3 1010 868.3 900 870 C790 871.7 691.7 880 600 880 C508.3 880 406.7 870 350 870 C293.3 870 268.3 870 260 880 C251.7 890 280 916.7 300 930 C320 943.3 365 950 380 960 C395 970 403.3 978.3 390 990 C376.7 1001.7 331.7 1020 300 1030 C268.3 1040 236.7 1046.7 200 1050 C163.3 1053.3 100 1084 80 1050 C60 1016 26.7 879.3 80 846 Z" fill="#cbff34" stroke="#111" stroke-width="1.8" vector-effect="non-scaling-stroke" stroke-linejoin="round"/>
<path d="M80 900 C96.7 881.7 156.7 901.7 180 910 C203.3 918.3 211.7 936.7 220 950 C228.3 963.3 240 980 230 990 C220 1000 185 1005 160 1010 C135 1015 93.3 1038.3 80 1020 C66.7 1001.7 63.3 918.3 80 900 Z" fill="#ffc900" stroke="#111" stroke-width="1.8" vector-effect="non-scaling-stroke" stroke-linejoin="round"/>
<path d="M80 920 C91.7 910.8 137.5 931.7 150 940 C162.5 948.3 160 960 155 970 C150 980 132.5 995.8 120 1000 C107.5 1004.2 86.7 1008.3 80 995 C73.3 981.7 68.3 929.2 80 920 Z" fill="#ff5f00" stroke="#111" stroke-width="1.8" vector-effect="non-scaling-stroke" stroke-linejoin="round"/>
<path d="M600 880 C616.7 873.3 650 872.5 700 870 C750 867.5 833.3 866.7 900 865 C966.7 863.3 1040 860.8 1100 860 C1160 859.2 1233.3 843.3 1260 860 C1286.7 876.7 1286.7 940.8 1260 960 C1233.3 979.2 1151.7 970 1100 975 C1048.3 980 991.7 984.2 950 990 C908.3 995.8 883.3 1000 850 1010 C816.7 1020 783.3 1031.7 750 1050 C716.7 1068.3 683.3 1095 650 1120 C616.7 1145 583.3 1176.7 550 1200 C516.7 1223.3 483.3 1243.3 450 1260 C416.7 1276.7 383.3 1291.7 350 1300 C316.7 1308.3 278.3 1313.3 250 1310 C221.7 1306.7 193.3 1295 180 1280 C166.7 1265 163.3 1238.3 170 1220 C176.7 1201.7 190 1186.7 220 1170 C250 1153.3 303.3 1135 350 1120 C396.7 1105 458.3 1093.3 500 1080 C541.7 1066.7 573.3 1055 600 1040 C626.7 1025 653.3 1006.7 660 990 C666.7 973.3 650 953.3 640 940 C630 926.7 606.7 920 600 910 C593.3 900 583.3 886.7 600 880 Z" fill="#00f6ff" stroke="#111" stroke-width="1.8" vector-effect="non-scaling-stroke" stroke-linejoin="round"/>
<path d="M880 900 C880 893 913.3 884.7 950 880 C986.7 875.3 1048.3 873.7 1100 872 C1151.7 870.3 1233.3 860.3 1260 870 C1286.7 879.7 1286.7 920 1260 930 C1233.3 940 1151.7 931.3 1100 930 C1048.3 928.7 986.7 927 950 922 C913.3 917 880 907 880 900 Z" fill="#008cff" stroke="#111" stroke-width="1.8" vector-effect="non-scaling-stroke" stroke-linejoin="round"/>
<path d="M850 1060 C856.7 1045 875 1030 900 1020 C925 1010 966.7 1005 1000 1000 C1033.3 995 1075 990 1100 990 C1125 990 1145 988.3 1150 1000 C1155 1011.7 1145 1043.3 1130 1060 C1115 1076.7 1081.7 1085 1060 1100 C1038.3 1115 1018.3 1136.7 1000 1150 C981.7 1163.3 970 1176.7 950 1180 C930 1183.3 895 1181.7 880 1170 C865 1158.3 865 1128.3 860 1110 C855 1091.7 843.3 1075 850 1060 Z" fill="#cbff34" stroke="#111" stroke-width="1.8" vector-effect="non-scaling-stroke" stroke-linejoin="round"/>
<path d="M900 1060 C905 1046.7 925 1036.7 950 1030 C975 1023.3 1028.3 1018.3 1050 1020 C1071.7 1021.7 1080 1031.7 1080 1040 C1080 1048.3 1066.7 1060 1050 1070 C1033.3 1080 1001.7 1093.3 980 1100 C958.3 1106.7 933.3 1116.7 920 1110 C906.7 1103.3 895 1073.3 900 1060 Z" fill="#ffc900" stroke="#111" stroke-width="1.8" vector-effect="non-scaling-stroke" stroke-linejoin="round"/>
<path d="M1180 1050 C1195 1033.3 1246.7 1003.3 1260 1020 C1273.3 1036.7 1275 1133.3 1260 1150 C1245 1166.7 1183.3 1136.7 1170 1120 C1156.7 1103.3 1165 1066.7 1180 1050 Z" fill="#00f6ff" stroke="#111" stroke-width="1.8" vector-effect="non-scaling-stroke" stroke-linejoin="round"/>
<path d="M1100 1290 C1100 1276.7 1123.3 1245 1150 1230 C1176.7 1215 1241.7 1193.3 1260 1200 C1278.3 1206.7 1278.3 1251.7 1260 1270 C1241.7 1288.3 1176.7 1306.7 1150 1310 C1123.3 1313.3 1100 1303.3 1100 1290 Z" fill="#00f6ff" stroke="#111" stroke-width="1.8" vector-effect="non-scaling-stroke" stroke-linejoin="round"/>
<path d="M1190 480 C1201.7 465 1248.3 426.7 1260 440 C1271.7 453.3 1271.7 545 1260 560 C1248.3 575 1201.7 543.3 1190 530 C1178.3 516.7 1178.3 495 1190 480 Z" fill="#00f6ff" stroke="#111" stroke-width="1.8" vector-effect="non-scaling-stroke" stroke-linejoin="round"/>
</g>
<path d="M100 70 L120 40 L850 40 L950 150 L1050 230 L1150 300 L1250 350 L1250 1270 L1100 1350 L1000 1420 L900 1500 L850 1590 L120 1590 L100 1560Z" fill="none" stroke="#111" stroke-width="1.6" vector-effect="non-scaling-stroke"/>
</g>
</g>
<g clip-path="url(#clip04)">
<g transform="translate(100 1230) scale(0.17446)">
<clipPath id="cg5"><path d="M30 40 L1197 40 L1197 785 L30 785Z"/></clipPath>
<g clip-path="url(#cg5)">
<path d="M-100 -100 L1400 -100 L1400 1700 L-100 1700Z" fill="#00d8ff"/>
<path d="M20 340 L63 320 L197 218 L315 123 L394 68 L420 20 L1300 20 L1300 800 L20 800Z" fill="#38ffc7" stroke="#111" stroke-width="1.8" vector-effect="non-scaling-stroke" stroke-linejoin="round"/>
<path d="M20 600 C27.2 563.3 40 591.2 63 580 C86 568.8 122.5 556.7 158 533 C193.5 509.3 236.7 476 276 438 C315.3 400 366.5 347 394 305 C421.5 263 427.8 224.2 441 186 C454.2 147.8 466.5 103.7 473 76 C479.5 48.3 342.2 29.3 480 20 C617.8 10.7 1163.3 -110 1300 20 C1436.7 150 1513.3 670 1300 800 C1086.7 930 233.3 833.3 20 800 C-193.3 766.7 12.8 636.7 20 600 Z" fill="#96ff69" stroke="#111" stroke-width="1.8" vector-effect="non-scaling-stroke" stroke-linejoin="round"/>
<path d="M990 20 C940.2 26.7 988.7 45.3 1001 60 C1013.3 74.7 1040.3 87 1064 108 C1087.7 129 1122 169 1143 186 C1164 203 1163.8 205.2 1190 210 C1216.2 214.8 1281.7 246.7 1300 215 C1318.3 183.3 1351.7 52.5 1300 20 C1248.3 -12.5 1039.8 13.3 990 20 Z" fill="#38ffc7" stroke="#111" stroke-width="1.8" vector-effect="non-scaling-stroke" stroke-linejoin="round"/>
<path d="M226 800 C47.3 794.8 226.3 791.2 228 769 C229.7 746.8 221.5 698.5 236 667 C250.5 635.5 288.7 614.2 315 580 C341.3 545.8 370.3 501.3 394 462 C417.7 422.7 441.2 390 457 344 C472.8 298 478.5 225.5 489 186 C499.5 146.5 507 125.3 520 107 C533 88.7 557 90.5 567 76 C577 61.5 539.5 29.3 580 20 C620.5 10.7 768.8 12 810 20 C851.2 28 811 46.8 827 68 C843 89.2 879.7 114.2 906 147 C932.3 179.8 958.7 229.5 985 265 C1011.3 300.5 1037.7 331.2 1064 360 C1090.3 388.8 1122 418.3 1143 438 C1164 457.7 1163.8 467.7 1190 478 C1216.2 488.3 1281.7 446.3 1300 500 C1318.3 553.7 1479 750 1300 800 C1121 850 404.7 805.2 226 800 Z" fill="#f7ff08" stroke="#111" stroke-width="1.8" vector-effect="non-scaling-stroke" stroke-linejoin="round"/>
<path d="M378 800 C224.3 789.7 368.8 756.3 378 738 C387.2 719.7 414.5 703.2 433 690 C451.5 676.8 477.2 690.3 489 659 C500.8 627.7 496.2 561 504 502 C511.8 443 525.5 345.8 536 305 C546.5 264.2 547.3 266.3 567 257 C586.7 247.7 630.3 241 654 249 C677.7 257 686.7 282.7 709 305 C731.3 327.3 768.3 356.8 788 383 C807.7 409.2 813.8 435.7 827 462 C840.2 488.3 853.8 514.7 867 541 C880.2 567.3 892.8 600.3 906 620 C919.2 639.7 926.3 648.5 946 659 C965.7 669.5 984.7 675.2 1024 683 C1063.3 690.8 1136 701.5 1182 706 C1228 710.5 1280.3 694.3 1300 710 C1319.7 725.7 1453.7 785 1300 800 C1146.3 815 531.7 810.3 378 800 Z" fill="#ffa800" stroke="#111" stroke-width="1.8" vector-effect="non-scaling-stroke" stroke-linejoin="round"/>
</g>
<path d="M30 40 L1197 40 L1197 785 L30 785Z" fill="none" stroke="#111" stroke-width="1.6" vector-effect="non-scaling-stroke"/>
</g>
<g transform="translate(100 1230) scale(0.17446)">
<clipPath id="cg6"><path d="M30 830 L1197 830 L1197 1590 L30 1590Z"/></clipPath>
<g clip-path="url(#cg6)">
<path d="M-100 -100 L1400 -100 L1400 1700 L-100 1700Z" fill="#00d8ff"/>
<path d="M20 1244 C25.8 1314.7 32 1236.2 55 1244 C78 1251.8 127.8 1272.7 158 1291 C188.2 1309.3 209.8 1333 236 1354 C262.2 1375 288.7 1397.3 315 1417 C341.3 1436.7 367.7 1453.7 394 1472 C420.3 1490.3 453.3 1513.8 473 1527 C492.7 1540.2 500.8 1538.8 512 1551 C523.2 1563.2 408.7 1591.8 540 1600 C671.3 1608.2 1173.3 1730 1300 1600 C1426.7 1470 1513.3 950 1300 820 C1086.7 690 233.3 749.3 20 820 C-193.3 890.7 14.2 1173.3 20 1244 Z" fill="#38ffc7" stroke="#111" stroke-width="1.8" vector-effect="non-scaling-stroke" stroke-linejoin="round"/>
<path d="M20 1031 C25.8 1066.2 32 1024.5 55 1031 C78 1037.5 127.8 1051.7 158 1070 C188.2 1088.3 209.8 1117.3 236 1141 C262.2 1164.7 288.7 1189.7 315 1212 C341.3 1234.3 361.2 1261.8 394 1275 C426.8 1288.2 479.2 1277.8 512 1291 C544.8 1304.2 564.7 1330.3 591 1354 C617.3 1377.7 643.7 1409.3 670 1433 C696.3 1456.7 722.8 1476.3 749 1496 C775.2 1515.7 808.5 1533.7 827 1551 C845.5 1568.3 781.2 1591.8 860 1600 C938.8 1608.2 1226.7 1730 1300 1600 C1373.3 1470 1513.3 950 1300 820 C1086.7 690 233.3 784.8 20 820 C-193.3 855.2 14.2 995.8 20 1031 Z" fill="#96ff69" stroke="#111" stroke-width="1.8" vector-effect="non-scaling-stroke" stroke-linejoin="round"/>
<path d="M250 820 C75.3 847.3 241.2 950.2 252 984 C262.8 1017.8 291.3 1000.7 315 1023 C338.7 1045.3 367.7 1102.2 394 1118 C420.3 1133.8 446.7 1119.3 473 1118 C499.3 1116.7 525.8 1103.5 552 1110 C578.2 1116.5 603.8 1134.7 630 1157 C656.2 1179.3 682.7 1219 709 1244 C735.3 1269 761.7 1286 788 1307 C814.3 1328 840.7 1351.7 867 1370 C893.3 1388.3 913.2 1401.3 946 1417 C978.8 1432.7 1024.7 1449.5 1064 1464 C1103.3 1478.5 1142.7 1496.3 1182 1504 C1221.3 1511.7 1280.3 1624 1300 1510 C1319.7 1396 1475 935 1300 820 C1125 705 424.7 792.7 250 820 Z" fill="#f7ff08" stroke="#111" stroke-width="1.8" vector-effect="non-scaling-stroke" stroke-linejoin="round"/>
<path d="M362 820 C205.7 827.7 356.7 850.5 362 866 C367.3 881.5 375.5 901.3 394 913 C412.5 924.7 446.7 928.2 473 936 C499.3 943.8 525.8 945.5 552 960 C578.2 974.5 610.3 999.3 630 1023 C649.7 1046.7 650.2 1079.7 670 1102 C689.8 1124.3 729.3 1134.7 749 1157 C768.7 1179.3 768.3 1213.7 788 1236 C807.7 1258.3 840.7 1279.2 867 1291 C893.3 1302.8 893.5 1309.7 946 1307 C998.5 1304.3 1123 1281.2 1182 1275 C1241 1268.8 1280.3 1345.8 1300 1270 C1319.7 1194.2 1456.3 895 1300 820 C1143.7 745 518.3 812.3 362 820 Z" fill="#ffa800" stroke="#111" stroke-width="1.8" vector-effect="non-scaling-stroke" stroke-linejoin="round"/>
<path d="M646 820 C556.2 843.3 635.5 919.5 646 960 C656.5 1000.5 691.8 1036.7 709 1063 C726.2 1089.3 729.3 1098.3 749 1118 C768.7 1137.7 800.8 1162.7 827 1181 C853.2 1199.3 873.2 1217.5 906 1228 C938.8 1238.5 980.7 1246.7 1024 1244 C1067.3 1241.3 1139.2 1236 1166 1212 C1192.8 1188 1181.8 1165.3 1185 1100 C1188.2 1034.7 1274.8 866.7 1185 820 C1095.2 773.3 735.8 796.7 646 820 Z" fill="#ff4900" stroke="#111" stroke-width="1.8" vector-effect="non-scaling-stroke" stroke-linejoin="round"/>
<path d="M686 835 C607 845.3 684.8 873.5 686 897 C687.2 920.5 682.5 949.7 693 976 C703.5 1002.3 726.7 1032.7 749 1055 C771.3 1077.3 794.2 1098.2 827 1110 C859.8 1121.8 900 1126 946 1126 C992 1126 1066.3 1124.5 1103 1110 C1139.7 1095.5 1154.8 1079.7 1166 1039 C1177.2 998.3 1171 900 1170 866 C1169 832 1240.7 840.2 1160 835 C1079.3 829.8 765 824.7 686 835 Z" fill="#e80000" stroke="#111" stroke-width="1.8" vector-effect="non-scaling-stroke" stroke-linejoin="round"/>
<ellipse cx="835" cy="968" rx="102" ry="63" transform="rotate(10 835 968)" fill="#8a0000" stroke="#111" stroke-width="1.8" vector-effect="non-scaling-stroke"/>
<ellipse cx="1020" cy="972" rx="7" ry="7" transform="rotate(0 1020 972)" fill="#8a0000" stroke="#111" stroke-width="1.8" vector-effect="non-scaling-stroke"/>
</g>
<path d="M30 830 L1197 830 L1197 1590 L30 1590Z" fill="none" stroke="#111" stroke-width="1.6" vector-effect="non-scaling-stroke"/>
</g>
<g transform="translate(100 1230) scale(0.17446)">
<clipPath id="cg7"><path d="M30 785 L1197 785 L1197 830 L30 830Z"/></clipPath>
<g clip-path="url(#cg7)">
<path d="M-100 -100 L1400 -100 L1400 1700 L-100 1700Z" fill="#ffffff"/>
<path d="M490 805 C500 800.7 533.3 793.3 560 792 C586.7 790.7 636.7 792.3 650 797 C663.3 801.7 655 815.2 640 820 C625 824.8 583.3 826.3 560 826 C536.7 825.7 511.7 821.5 500 818 C488.3 814.5 480 809.3 490 805 Z" fill="#00106a" stroke="#111" stroke-width="1.8" vector-effect="non-scaling-stroke" stroke-linejoin="round"/>
</g>
<path d="M30 785H1197M30 830H1197" stroke="#111" stroke-width="2.6" vector-effect="non-scaling-stroke"/>
</g>
<g transform="translate(490 1230) scale(0.17446)">
<clipPath id="cg8"><path d="M75 40 L1250 40 L1250 785 L75 785Z"/></clipPath>
<g clip-path="url(#cg8)">
<path d="M-100 -100 L1400 -100 L1400 1700 L-100 1700Z" fill="#38ffc7"/>
<path d="M450 20 C580 6.7 1158.3 -26.7 1300 20 C1441.7 66.7 1311.7 253.3 1300 300 C1288.3 346.7 1246.7 301.7 1230 300 C1213.3 298.3 1221.7 301.7 1200 290 C1178.3 278.3 1133.3 248.3 1100 230 C1066.7 211.7 1033.3 195 1000 180 C966.7 165 933.3 145 900 140 C866.7 135 833.3 150 800 150 C766.7 150 733.3 143.3 700 140 C666.7 136.7 630 136.7 600 130 C570 123.3 545 118.3 520 100 C495 81.7 320 33.3 450 20 Z" fill="#00d8ff" stroke="#111" stroke-width="1.8" vector-effect="non-scaling-stroke" stroke-linejoin="round"/>
<path d="M60 170 C83.3 63.3 151.7 153.3 200 160 C248.3 166.7 300 193.3 350 210 C400 226.7 458.3 246.7 500 260 C541.7 273.3 566.7 286.7 600 290 C633.3 293.3 666.7 286.7 700 280 C733.3 273.3 766.7 253.3 800 250 C833.3 246.7 866.7 253.3 900 260 C933.3 266.7 973.3 280 1000 290 C1026.7 300 1043.3 301.7 1060 320 C1076.7 338.3 1086.7 373.3 1100 400 C1113.3 426.7 1123.3 456.7 1140 480 C1156.7 503.3 1173.3 526.7 1200 540 C1226.7 553.3 1283.3 516.7 1300 560 C1316.7 603.3 1506.7 760 1300 800 C1093.3 840 266.7 905 60 800 C-146.7 695 36.7 276.7 60 170 Z" fill="#96ff69" stroke="#111" stroke-width="1.8" vector-effect="non-scaling-stroke" stroke-linejoin="round"/>
<path d="M60 380 C75 305 118.3 358.3 150 350 C181.7 341.7 216.7 338.3 250 330 C283.3 321.7 321.7 307.5 350 300 C378.3 292.5 398.3 285.8 420 285 C441.7 284.2 461.7 285.8 480 295 C498.3 304.2 510 328.3 530 340 C550 351.7 571.7 359.2 600 365 C628.3 370.8 666.7 371.7 700 375 C733.3 378.3 770 379.2 800 385 C830 390.8 855 399.2 880 410 C905 420.8 930 435 950 450 C970 465 986.7 481.7 1000 500 C1013.3 518.3 1022.5 535 1030 560 C1037.5 585 1041.7 610 1045 650 C1048.3 690 1214.2 775 1050 800 C885.8 825 225 870 60 800 C-105 730 45 455 60 380 Z" fill="#f7ff08" stroke="#111" stroke-width="1.8" vector-effect="non-scaling-stroke" stroke-linejoin="round"/>
<path d="M60 560 C70 515 96.7 545 120 530 C143.3 515 170 491.7 200 470 C230 448.3 270 416.7 300 400 C330 383.3 355 378.3 380 370 C405 361.7 426.7 348.3 450 350 C473.3 351.7 495 371.7 520 380 C545 388.3 570 393.3 600 400 C630 406.7 670 411.7 700 420 C730 428.3 755 436.7 780 450 C805 463.3 830 481.7 850 500 C870 518.3 888.3 540 900 560 C911.7 580 920 596.7 920 620 C920 643.3 908.3 676.7 900 700 C891.7 723.3 878.3 743.3 870 760 C861.7 776.7 985 793.3 850 800 C715 806.7 191.7 840 60 800 C-71.7 760 50 605 60 560 Z" fill="#ffa800" stroke="#111" stroke-width="1.8" vector-effect="non-scaling-stroke" stroke-linejoin="round"/>
<path d="M120 650 C125 630 128.3 621.7 150 600 C171.7 578.3 216.7 543.3 250 520 C283.3 496.7 316.7 473.3 350 460 C383.3 446.7 416.7 441.7 450 440 C483.3 438.3 516.7 445 550 450 C583.3 455 616.7 458.3 650 470 C683.3 481.7 721.7 501.7 750 520 C778.3 538.3 801.7 560 820 580 C838.3 600 855 620 860 640 C865 660 860 683.3 850 700 C840 716.7 825 730 800 740 C775 750 750 755 700 760 C650 765 566.7 770 500 770 C433.3 770 358.3 761.7 300 760 C241.7 758.3 180 766.7 150 760 C120 753.3 125 738.3 120 720 C115 701.7 115 670 120 650 Z" fill="#ff4900" stroke="#111" stroke-width="1.8" vector-effect="non-scaling-stroke" stroke-linejoin="round"/>
<path d="M230 660 C238.3 643.3 271.7 621.7 300 600 C328.3 578.3 366.7 545 400 530 C433.3 515 466.7 511.7 500 510 C533.3 508.3 566.7 511.7 600 520 C633.3 528.3 671.7 545 700 560 C728.3 575 753.3 590 770 610 C786.7 630 801.7 661.7 800 680 C798.3 698.3 785 710 760 720 C735 730 693.3 736.7 650 740 C606.7 743.3 550 743.3 500 740 C450 736.7 391.7 726.7 350 720 C308.3 713.3 270 710 250 700 C230 690 221.7 676.7 230 660 Z" fill="#e80000" stroke="#111" stroke-width="1.8" vector-effect="non-scaling-stroke" stroke-linejoin="round"/>
<path d="M430 640 C433.3 623.3 445 602.5 460 590 C475 577.5 500 568.3 520 565 C540 561.7 560 562.5 580 570 C600 577.5 623.3 591.7 640 610 C656.7 628.3 676.7 660 680 680 C683.3 700 676.7 720 660 730 C643.3 740 610 741.7 580 740 C550 738.3 503.3 728.3 480 720 C456.7 711.7 448.3 703.3 440 690 C431.7 676.7 426.7 656.7 430 640 Z" fill="#8a0000" stroke="#111" stroke-width="1.8" vector-effect="non-scaling-stroke" stroke-linejoin="round"/>
</g>
<path d="M75 40 L1250 40 L1250 785 L75 785Z" fill="none" stroke="#111" stroke-width="1.6" vector-effect="non-scaling-stroke"/>
</g>
<g transform="translate(490 1230) scale(0.17446)">
<clipPath id="cg9"><path d="M75 830 L1250 830 L1250 1590 L75 1590Z"/></clipPath>
<g clip-path="url(#cg9)">
<path d="M-100 -100 L1400 -100 L1400 1700 L-100 1700Z" fill="#38ffc7"/>
<path d="M1100 1080 C1109.2 1065 1128.3 1068.3 1150 1060 C1171.7 1051.7 1205 1035 1230 1030 C1255 1025 1288.3 935 1300 1030 C1311.7 1125 1333.3 1505 1300 1600 C1266.7 1695 1134.2 1650 1100 1600 C1065.8 1550 1095.8 1375 1095 1300 C1094.2 1225 1094.2 1186.7 1095 1150 C1095.8 1113.3 1090.8 1095 1100 1080 Z" fill="#00d8ff" stroke="#111" stroke-width="1.8" vector-effect="non-scaling-stroke" stroke-linejoin="round"/>
<path d="M980 820 C995 806.7 1071.7 690 1090 820 C1108.3 950 1113.3 1470 1090 1600 C1066.7 1730 974.2 1633.3 950 1600 C925.8 1566.7 944.2 1466.7 945 1400 C945.8 1333.3 950 1266.7 955 1200 C960 1133.3 967.5 1050 975 1000 C982.5 950 999.2 930 1000 900 C1000.8 870 965 833.3 980 820 Z" fill="#96ff69" stroke="#111" stroke-width="1.8" vector-effect="non-scaling-stroke" stroke-linejoin="round"/>
<path d="M60 820 C216.7 690 838.3 806.7 1000 820 C1161.7 833.3 1030 870 1030 900 C1030 930 1009.2 958.3 1000 1000 C990.8 1041.7 981.7 1091.7 975 1150 C968.3 1208.3 961.7 1275 960 1350 C958.3 1425 1115 1558.3 965 1600 C815 1641.7 210.8 1730 60 1600 C-90.8 1470 -96.7 950 60 820 Z" fill="#f7ff08" stroke="#111" stroke-width="1.8" vector-effect="non-scaling-stroke" stroke-linejoin="round"/>
<path d="M60 1470 C65.2 1446.2 70.2 1477.3 91 1457 C111.8 1436.7 152.2 1387.8 185 1348 C217.8 1308.2 253.5 1250 288 1218 C322.5 1186 348.7 1173.3 392 1156 C435.3 1138.7 509 1120 548 1114 C587 1108 604.3 1109.5 626 1120 C647.7 1130.5 665 1152 678 1177 C691 1202 695.3 1232.8 704 1270 C712.7 1307.2 721.3 1356.7 730 1400 C738.7 1443.3 751 1496.7 756 1530 C761 1563.3 876 1588.3 760 1600 C644 1611.7 176.7 1621.7 60 1600 C-56.7 1578.3 54.8 1493.8 60 1470 Z" fill="#96ff69" stroke="#111" stroke-width="1.8" vector-effect="non-scaling-stroke" stroke-linejoin="round"/>
<path d="M314 1600 C243.8 1591 301 1566.3 314 1546 C327 1525.7 361.7 1506.7 392 1478 C422.3 1449.3 465.7 1406 496 1374 C526.3 1342 552.3 1300.7 574 1286 C595.7 1271.3 608.7 1275.7 626 1286 C643.3 1296.3 665 1324.7 678 1348 C691 1371.3 695.3 1395.7 704 1426 C712.7 1456.3 724.8 1501 730 1530 C735.2 1559 804.3 1588.3 735 1600 C665.7 1611.7 384.2 1609 314 1600 Z" fill="#38ffc7" stroke="#111" stroke-width="1.8" vector-effect="non-scaling-stroke" stroke-linejoin="round"/>
<path d="M60 820 C216.7 761.7 845 813.3 1000 820 C1155 826.7 1006.7 848.3 990 860 C973.3 871.7 931.7 881.7 900 890 C868.3 898.3 833.3 904.2 800 910 C766.7 915.8 759.3 922.2 700 925 C640.7 927.8 512.7 924.8 444 927 C375.3 929.2 326.8 932.8 288 938 C249.2 943.2 232.5 947.7 211 958 C189.5 968.3 174.7 982.7 159 1000 C143.3 1017.3 128.3 1034.3 117 1062 C105.7 1089.7 100.5 1148 91 1166 C81.5 1184 65.2 1227.7 60 1170 C54.8 1112.3 -96.7 878.3 60 820 Z" fill="#ffa800" stroke="#111" stroke-width="1.8" vector-effect="non-scaling-stroke" stroke-linejoin="round"/>
<path d="M730 1010 C736.8 988.3 750.3 985.7 766 984 C781.7 982.3 808.3 980.7 824 1000 C839.7 1019.3 850.7 1058.3 860 1100 C869.3 1141.7 875 1200 880 1250 C885 1300 891.7 1361.7 890 1400 C888.3 1438.3 881.7 1463.3 870 1480 C858.3 1496.7 834.7 1500.3 820 1500 C805.3 1499.7 794.3 1507.7 782 1478 C769.7 1448.3 755.5 1382.7 746 1322 C736.5 1261.3 727.7 1166 725 1114 C722.3 1062 723.2 1031.7 730 1010 Z" fill="#ffa800" stroke="#111" stroke-width="1.8" vector-effect="non-scaling-stroke" stroke-linejoin="round"/>
<ellipse cx="96" cy="901" rx="14" ry="22" transform="rotate(0 96 901)" fill="#ff4900" stroke="#111" stroke-width="1.8" vector-effect="non-scaling-stroke"/>
</g>
<path d="M75 830 L1250 830 L1250 1590 L75 1590Z" fill="none" stroke="#111" stroke-width="1.6" vector-effect="non-scaling-stroke"/>
</g>
<g transform="translate(490 1230) scale(0.17446)">
<clipPath id="cg10"><path d="M75 785 L1250 785 L1250 830 L75 830Z"/></clipPath>
<g clip-path="url(#cg10)">
<path d="M-100 -100 L1400 -100 L1400 1700 L-100 1700Z" fill="#ffffff"/>
<path d="M490 805 C503.3 800.8 550 794.3 580 793 C610 791.7 656.7 792.2 670 797 C683.3 801.8 675 817.2 660 822 C645 826.8 606.7 826.7 580 826 C553.3 825.3 515 821.5 500 818 C485 814.5 476.7 809.2 490 805 Z" fill="#00106a" stroke="#111" stroke-width="1.8" vector-effect="non-scaling-stroke" stroke-linejoin="round"/>
</g>
<path d="M75 785H1250M75 830H1250" stroke="#111" stroke-width="2.6" vector-effect="non-scaling-stroke"/>
</g>
</g>
<g clip-path="url(#clip14)">
<g transform="translate(910 1230) scale(0.17446)">
<clipPath id="cg11"><path d="M30 40 L1192 40 L1192 785 L30 785Z"/></clipPath>
<g clip-path="url(#cg11)">
<path d="M-100 -100 L1400 -100 L1400 1700 L-100 1700Z" fill="#00ffe8"/>
<path d="M20 20 C41.7 0 128.3 15 150 20 C171.7 25 158.3 36.7 150 50 C141.7 63.3 121.7 85 100 100 C78.3 115 33.3 153.3 20 140 C6.7 126.7 -1.7 40 20 20 Z" fill="#00b1ff" stroke="#111" stroke-width="1.8" vector-effect="non-scaling-stroke" stroke-linejoin="round"/>
<path d="M340 20 C501.7 6.7 1140 -110 1300 20 C1460 150 1513.3 670 1300 800 C1086.7 930 233.3 863.3 20 800 C-193.3 736.7 -1.7 490 20 420 C41.7 350 111.7 400 150 380 C188.3 360 225 330 250 300 C275 270 286.7 233.3 300 200 C313.3 166.7 323.3 130 330 100 C336.7 70 178.3 33.3 340 20 Z" fill="#7dff82" stroke="#111" stroke-width="1.8" vector-effect="non-scaling-stroke" stroke-linejoin="round"/>
<path d="M480 20 C516.7 10 644.8 12.3 680 20 C715.2 27.7 674.2 45.7 691 66 C707.8 86.3 753.5 116.8 781 142 C808.5 167.2 831 193.3 856 217 C881 240.7 899.7 259 931 284 C962.3 309 1006.3 339.3 1044 367 C1081.7 394.7 1133.2 431.2 1157 450 C1180.8 468.8 1163.2 468.3 1187 480 C1210.8 491.7 1281.2 466.7 1300 520 C1318.8 573.3 1513.3 753.3 1300 800 C1086.7 846.7 233.3 820 20 800 C-193.3 780 -1.7 710 20 680 C41.7 650 120 640 150 620 C180 600 180 585 200 560 C220 535 250 496.7 270 470 C290 443.3 303.3 428.3 320 400 C336.7 371.7 353.3 336.7 370 300 C386.7 263.3 405 216.7 420 180 C435 143.3 450 106.7 460 80 C470 53.3 443.3 30 480 20 Z" fill="#e2ff1d" stroke="#111" stroke-width="1.8" vector-effect="non-scaling-stroke" stroke-linejoin="round"/>
<path d="M250 800 C75 783.3 241.7 730 250 700 C258.3 670 283.3 650 300 620 C316.7 590 333.3 553.3 350 520 C366.7 486.7 383.3 445 400 420 C416.7 395 430 383.3 450 370 C470 356.7 495 346.7 520 340 C545 333.3 570 325 600 330 C630 335 666.7 355 700 370 C733.3 385 766.7 401.7 800 420 C833.3 438.3 866.7 460 900 480 C933.3 500 966.7 520 1000 540 C1033.3 560 1071.7 581.7 1100 600 C1128.3 618.3 1136.7 633.3 1170 650 C1203.3 666.7 1278.3 675 1300 700 C1321.7 725 1475 783.3 1300 800 C1125 816.7 425 816.7 250 800 Z" fill="#ffb600" stroke="#111" stroke-width="1.8" vector-effect="non-scaling-stroke" stroke-linejoin="round"/>
<path d="M560 740 C560 730.8 583.3 713.3 600 700 C616.7 686.7 643.3 669.2 660 660 C676.7 650.8 680 645.8 700 645 C720 644.2 760 645.8 780 655 C800 664.2 810 685 820 700 C830 715 860 735.8 840 745 C820 754.2 740 753.3 700 755 C660 756.7 623.3 757.5 600 755 C576.7 752.5 560 749.2 560 740 Z" fill="#ff5100" stroke="#111" stroke-width="1.8" vector-effect="non-scaling-stroke" stroke-linejoin="round"/>
</g>
<path d="M30 40 L1192 40 L1192 785 L30 785Z" fill="none" stroke="#111" stroke-width="1.6" vector-effect="non-scaling-stroke"/>
</g>
<g transform="translate(910 1230) scale(0.17446)">
<clipPath id="cg12"><path d="M30 835 L1192 835 L1192 1590 L30 1590Z"/></clipPath>
<g clip-path="url(#cg12)">
<path d="M-100 -100 L1400 -100 L1400 1700 L-100 1700Z" fill="#00ffe8"/>
<path d="M20 1404 C26.5 1371.3 45 1401.5 59 1404 C73 1406.5 84 1410.2 104 1419 C124 1427.8 154 1441.8 179 1457 C204 1472.2 235.2 1493.7 254 1510 C272.8 1526.3 284.3 1540 292 1555 C299.7 1570 345.3 1592.5 300 1600 C254.7 1607.5 66.7 1632.7 20 1600 C-26.7 1567.3 13.5 1436.7 20 1404 Z" fill="#00b1ff" stroke="#111" stroke-width="1.8" vector-effect="non-scaling-stroke" stroke-linejoin="round"/>
<path d="M20 820 C233.3 740 1086.7 690 1300 820 C1513.3 950 1383.3 1470 1300 1600 C1216.7 1730 886.5 1605 800 1600 C713.5 1595 809.3 1581.7 781 1570 C752.7 1558.3 667.7 1541.3 630 1530 C592.3 1518.7 580 1516.7 555 1502 C530 1487.3 505 1464.5 480 1442 C455 1419.5 430 1390.8 405 1367 C380 1343.2 355.2 1315.3 330 1299 C304.8 1282.7 285.5 1271.5 254 1269 C222.5 1266.5 173.5 1279 141 1284 C108.5 1289 79.2 1296.3 59 1299 C38.8 1301.7 26.5 1379.8 20 1300 C13.5 1220.2 -193.3 900 20 820 Z" fill="#7dff82" stroke="#111" stroke-width="1.8" vector-effect="non-scaling-stroke" stroke-linejoin="round"/>
<path d="M20 820 C233.3 755 1086.7 702.5 1300 820 C1513.3 937.5 1318.8 1407.5 1300 1525 C1281.2 1642.5 1235.8 1525.7 1187 1525 C1138.2 1524.3 1062.2 1523 1007 1521 C951.8 1519 906.2 1516.2 856 1513 C805.8 1509.8 746.2 1513.8 706 1502 C665.8 1490.2 640.2 1460.8 615 1442 C589.8 1423.2 575 1414 555 1389 C535 1364 513.8 1320.8 495 1292 C476.2 1263.2 459.5 1237.3 442 1216 C424.5 1194.7 408.7 1175.2 390 1164 C371.3 1152.8 352.7 1149 330 1149 C307.3 1149 285.5 1156.5 254 1164 C222.5 1171.5 173.5 1186.5 141 1194 C108.5 1201.5 79.2 1206.3 59 1209 C38.8 1211.7 26.5 1274.8 20 1210 C13.5 1145.2 -193.3 885 20 820 Z" fill="#e2ff1d" stroke="#111" stroke-width="1.8" vector-effect="non-scaling-stroke" stroke-linejoin="round"/>
<path d="M20 820 C233.3 783.3 1086.7 736.3 1300 820 C1513.3 903.7 1318.8 1238.3 1300 1322 C1281.2 1405.7 1217 1320.8 1187 1322 C1157 1323.2 1150 1329 1120 1329 C1090 1329 1044.7 1322 1007 1322 C969.3 1322 931.7 1324 894 1329 C856.3 1334 818.7 1348.2 781 1352 C743.3 1355.8 698.2 1358.3 668 1352 C637.8 1345.7 618.8 1335.3 600 1314 C581.2 1292.7 570 1256.7 555 1224 C540 1191.3 522.5 1146.8 510 1118 C497.5 1089.2 495 1067.2 480 1051 C465 1034.8 442.5 1026 420 1021 C397.5 1016 370.2 1013.5 345 1021 C319.8 1028.5 294.2 1047.3 269 1066 C243.8 1084.7 219 1124.3 194 1133 C169 1141.7 141.5 1131.7 119 1118 C96.5 1104.3 75.5 1064 59 1051 C42.5 1038 26.5 1078.5 20 1040 C13.5 1001.5 -193.3 856.7 20 820 Z" fill="#ffb600" stroke="#111" stroke-width="1.8" vector-effect="non-scaling-stroke" stroke-linejoin="round"/>
<path d="M179 820 C365.8 806.7 1113.2 746.5 1300 820 C1486.8 893.5 1318.8 1187.5 1300 1261 C1281.2 1334.5 1229.7 1259.7 1187 1261 C1144.3 1262.3 1086.7 1267.7 1044 1269 C1001.3 1270.3 962.3 1266.5 931 1269 C899.7 1271.5 881 1280.3 856 1284 C831 1287.7 808.5 1291 781 1291 C753.5 1291 716 1290.2 691 1284 C666 1277.8 648.7 1269 631 1254 C613.3 1239 597.7 1216.7 585 1194 C572.3 1171.3 562.5 1145.7 555 1118 C547.5 1090.3 547.5 1055.5 540 1028 C532.5 1000.5 526.3 970.5 510 953 C493.7 935.5 472 929.3 442 923 C412 916.7 365 915 330 915 C295 915 257.2 925.5 232 923 C206.8 920.5 187.8 917.2 179 900 C170.2 882.8 -7.8 833.3 179 820 Z" fill="#ff5100" stroke="#111" stroke-width="1.8" vector-effect="non-scaling-stroke" stroke-linejoin="round"/>
<path d="M600 893 C603.7 868 599.8 881.8 630 878 C660.2 874.2 688.2 871.3 781 870 C873.8 868.7 1100.5 870 1187 870 C1273.5 870 1281.2 816 1300 870 C1318.8 924 1318.8 1140 1300 1194 C1281.2 1248 1235.8 1192.8 1187 1194 C1138.2 1195.2 1049.7 1197.3 1007 1201 C964.3 1204.7 968.7 1209.7 931 1216 C893.3 1222.3 821 1239 781 1239 C741 1239 716 1232.3 691 1216 C666 1199.7 644.8 1172.3 631 1141 C617.2 1109.7 613.2 1069.3 608 1028 C602.8 986.7 596.3 918 600 893 Z" fill="#ea0000" stroke="#111" stroke-width="1.8" vector-effect="non-scaling-stroke" stroke-linejoin="round"/>
<path d="M646 953 C653.7 934.2 671 921.3 706 915 C741 908.7 805.8 912.5 856 915 C906.2 917.5 963 917.5 1007 930 C1051 942.5 1105 969.8 1120 990 C1135 1010.2 1115.8 1037.2 1097 1051 C1078.2 1064.8 1040.8 1066.8 1007 1073 C973.2 1079.2 925.5 1079.2 894 1088 C862.5 1096.8 843.2 1114.7 818 1126 C792.8 1137.3 764.2 1159.8 743 1156 C721.8 1152.2 704.8 1124.3 691 1103 C677.2 1081.7 667.5 1053 660 1028 C652.5 1003 638.3 971.8 646 953 Z" fill="#8c0000" stroke="#111" stroke-width="1.8" vector-effect="non-scaling-stroke" stroke-linejoin="round"/>
</g>
<path d="M30 835 L1192 835 L1192 1590 L30 1590Z" fill="none" stroke="#111" stroke-width="1.6" vector-effect="non-scaling-stroke"/>
</g>
<g transform="translate(910 1230) scale(0.17446)">
<clipPath id="cg13"><path d="M30 785 L1192 785 L1192 835 L30 835Z"/></clipPath>
<g clip-path="url(#cg13)">
<path d="M-100 -100 L1400 -100 L1400 1700 L-100 1700Z" fill="#ffffff"/>
<path d="M330 812 C343.3 806.5 366.7 798.7 400 797 C433.3 795.3 505 797 530 802 C555 807 571.7 822 550 827 C528.3 832 438.3 831.5 400 832 C361.7 832.5 331.7 833.3 320 830 C308.3 826.7 316.7 817.5 330 812 Z" fill="#00106a" stroke="#111" stroke-width="1.8" vector-effect="non-scaling-stroke" stroke-linejoin="round"/>
</g>
<path d="M30 785H1192M30 835H1192" stroke="#111" stroke-width="2.6" vector-effect="non-scaling-stroke"/>
</g>
<g transform="translate(1300 1230) scale(0.17446)">
<clipPath id="cg14"><path d="M100 40 L1250 40 L1250 780 L100 780Z"/></clipPath>
<g clip-path="url(#cg14)">
<path d="M-100 -100 L1400 -100 L1400 1700 L-100 1700Z" fill="#00ffe8"/>
<path d="M90 110 C93.3 -5.5 85.7 111.3 110 107 C134.3 102.7 188.7 89.2 236 84 C283.3 78.8 341.3 74.7 394 76 C446.7 77.3 506 84.2 552 92 C598 99.8 630.7 100.7 670 123 C709.3 145.3 755.2 207.5 788 226 C820.8 244.5 840.7 239.3 867 234 C893.3 228.7 913.2 203.3 946 194 C978.8 184.7 1031.2 175.3 1064 178 C1096.8 180.7 1116.8 191.5 1143 210 C1169.2 228.5 1194.8 269 1221 289 C1247.2 309 1286.8 244.8 1300 330 C1313.2 415.2 1501.7 721.7 1300 800 C1098.3 878.3 291.7 915 90 800 C-111.7 685 86.7 225.5 90 110 Z" fill="#7dff82" stroke="#111" stroke-width="1.8" vector-effect="non-scaling-stroke" stroke-linejoin="round"/>
<path d="M90 385 C93.3 314.2 98.7 385.8 110 375 C121.3 364.2 137 341 158 320 C179 299 209.8 267.3 236 249 C262.2 230.7 291.3 220.5 315 210 C338.7 199.5 351.7 186 378 186 C404.3 186 444 202 473 210 C502 218 519.2 224.8 552 234 C584.8 243.2 637.2 250.7 670 265 C702.8 279.3 716.2 309.5 749 320 C781.8 330.5 827.7 334.5 867 328 C906.3 321.5 952.2 283.7 985 281 C1017.8 278.3 1037.7 288.3 1064 312 C1090.3 335.7 1116.8 388.8 1143 423 C1169.2 457.2 1194.8 494.2 1221 517 C1247.2 539.8 1286.8 512.8 1300 560 C1313.2 607.2 1501.7 760 1300 800 C1098.3 840 291.7 869.2 90 800 C-111.7 730.8 86.7 455.8 90 385 Z" fill="#e2ff1d" stroke="#111" stroke-width="1.8" vector-effect="non-scaling-stroke" stroke-linejoin="round"/>
<path d="M90 610 C93.3 576 98.7 610.2 110 596 C121.3 581.8 137 546 158 525 C179 504 209.8 496.2 236 470 C262.2 443.8 295.2 398.2 315 368 C334.8 337.8 341.8 307.5 355 289 C368.2 270.5 374.3 265 394 257 C413.7 249 440.2 239.7 473 241 C505.8 242.3 558.2 250.5 591 265 C623.8 279.5 643.7 308.3 670 328 C696.3 347.7 716.2 369.8 749 383 C781.8 396.2 827.7 401.7 867 407 C906.3 412.3 958.8 415 985 415 C1011.2 415 1010.8 392.7 1024 407 C1037.2 421.3 1056 465.5 1064 501 C1072 536.5 1069.3 575.3 1072 620 C1074.7 664.7 1077.8 739 1080 769 C1082.2 799 1250 794.8 1085 800 C920 805.2 255.8 831.7 90 800 C-75.8 768.3 86.7 644 90 610 Z" fill="#ffb600" stroke="#111" stroke-width="1.8" vector-effect="non-scaling-stroke" stroke-linejoin="round"/>
<path d="M236 698 C238.5 681.8 295.2 675.8 315 643 C334.8 610.2 341.8 544.3 355 501 C368.2 457.7 374.3 413.2 394 383 C413.7 352.8 440.2 326.5 473 320 C505.8 313.5 558.2 330.8 591 344 C623.8 357.2 637.2 384.5 670 399 C702.8 413.5 748.7 417.8 788 431 C827.3 444.2 873.2 459.7 906 478 C938.8 496.3 965.3 517.3 985 541 C1004.7 564.7 1014.8 587.2 1024 620 C1033.2 652.8 1039 709.7 1040 738 C1041 766.3 1070 781.3 1030 790 C990 798.7 905 792.5 800 790 C695 787.5 483.3 783.3 400 775 C316.7 766.7 327.3 752.8 300 740 C272.7 727.2 233.5 714.2 236 698 Z" fill="#ff5100" stroke="#111" stroke-width="1.8" vector-effect="non-scaling-stroke" stroke-linejoin="round"/>
<path d="M441 541 C443.7 518.7 454.5 485.8 473 470 C491.5 454.2 519.2 446 552 446 C584.8 446 630.7 460.8 670 470 C709.3 479.2 755.2 489.2 788 501 C820.8 512.8 840.7 522.5 867 541 C893.3 559.5 926.3 588.3 946 612 C965.7 635.7 981.2 662 985 683 C988.8 704 988.7 726.2 969 738 C949.3 749.8 910.3 756.7 867 754 C823.7 751.3 761.5 737.8 709 722 C656.5 706.2 594 678.7 552 659 C510 639.3 475.5 623.7 457 604 C438.5 584.3 438.3 563.3 441 541 Z" fill="#ea0000" stroke="#111" stroke-width="1.8" vector-effect="non-scaling-stroke" stroke-linejoin="round"/>
<path d="M583 620 C583 609.5 609 601.3 630 596 C651 590.7 682.7 585.3 709 588 C735.3 590.7 761.7 600.2 788 612 C814.3 623.8 847.3 642 867 659 C886.7 676 906 700.8 906 714 C906 727.2 893.2 739.3 867 738 C840.8 736.7 788.5 719.2 749 706 C709.5 692.8 657.7 673.3 630 659 C602.3 644.7 583 630.5 583 620 Z" fill="#8c0000" stroke="#111" stroke-width="1.8" vector-effect="non-scaling-stroke" stroke-linejoin="round"/>
</g>
<path d="M100 40 L1250 40 L1250 780 L100 780Z" fill="none" stroke="#111" stroke-width="1.6" vector-effect="non-scaling-stroke"/>
</g>
<g transform="translate(1300 1230) scale(0.17446)">
<clipPath id="cg15"><path d="M100 835 L1250 835 L1250 1590 L100 1590Z"/></clipPath>
<g clip-path="url(#cg15)">
<path d="M-100 -100 L1400 -100 L1400 1700 L-100 1700Z" fill="#00ffe8"/>
<path d="M90 820 L1300 820 L1300 1600 L90 1600Z" fill="#7dff82" stroke="#111" stroke-width="1.8" vector-effect="non-scaling-stroke" stroke-linejoin="round"/>
<path d="M1182 1307 C1195.3 1253.7 1230.3 1231.2 1240 1280 C1249.7 1328.8 1253.3 1546.7 1240 1600 C1226.7 1653.3 1169.7 1648.8 1160 1600 C1150.3 1551.2 1168.7 1360.3 1182 1307 Z" fill="#00ffe8" stroke="#111" stroke-width="1.8" vector-effect="non-scaling-stroke" stroke-linejoin="round"/>
<path d="M90 820 C291.7 718.3 1098.3 793.3 1300 820 C1501.7 846.7 1311.8 952.5 1300 980 C1288.2 1007.5 1257.8 983 1229 985 C1200.2 987 1145.3 956.7 1127 992 C1108.7 1027.3 1123 1136.7 1119 1197 C1115 1257.3 1112.2 1295 1103 1354 C1093.8 1413 1071.2 1510 1064 1551 C1056.8 1592 1083.7 1591.8 1060 1600 C1036.3 1608.2 945 1608.2 922 1600 C899 1591.8 924.7 1572.3 922 1551 C919.3 1529.7 915.2 1518 906 1472 C896.8 1426 880.2 1327.5 867 1275 C853.8 1222.5 846.7 1184.5 827 1157 C807.3 1129.5 794.8 1117.8 749 1110 C703.2 1102.2 617.7 1102.2 552 1110 C486.3 1117.8 407.7 1134.7 355 1157 C302.3 1179.3 276.8 1200.7 236 1244 C195.2 1287.3 134.3 1386 110 1417 C85.7 1448 93.3 1529.5 90 1430 C86.7 1330.5 -111.7 921.7 90 820 Z" fill="#e2ff1d" stroke="#111" stroke-width="1.8" vector-effect="non-scaling-stroke" stroke-linejoin="round"/>
<path d="M236 1600 C127 1591.8 220.2 1585.3 236 1551 C251.8 1516.7 291.5 1440 331 1394 C370.5 1348 423.2 1298.7 473 1275 C522.8 1251.3 584 1252 630 1252 C676 1252 716.2 1258 749 1275 C781.8 1292 807.3 1321.2 827 1354 C846.7 1386.8 856.5 1439.2 867 1472 C877.5 1504.8 886.2 1529.7 890 1551 C893.8 1572.3 999 1591.8 890 1600 C781 1608.2 345 1608.2 236 1600 Z" fill="#00ffe8" stroke="#111" stroke-width="1.8" vector-effect="non-scaling-stroke" stroke-linejoin="round"/>
<path d="M90 820 C246.7 738.3 874.3 815 1030 820 C1185.7 825 1031.5 839.8 1024 850 C1016.5 860.2 1011.2 871.8 985 881 C958.8 890.2 913 895.8 867 905 C821 914.2 774.7 922.8 709 936 C643.3 949.2 538.7 966.8 473 984 C407.3 1001.2 357 1022 315 1039 C273 1056 247.2 1059.8 221 1086 C194.8 1112.2 177.8 1159.2 158 1196 C138.2 1232.8 113.3 1288 102 1307 C90.7 1326 92 1391.2 90 1310 C88 1228.8 -66.7 901.7 90 820 Z" fill="#ffb600" stroke="#111" stroke-width="1.8" vector-effect="non-scaling-stroke" stroke-linejoin="round"/>
<path d="M906 1157 C911.3 1117.7 932.8 1060 946 1039 C959.2 1018 972 1020.5 985 1031 C998 1041.5 1014.8 1074.3 1024 1102 C1033.2 1129.7 1038.7 1161.5 1040 1197 C1041.3 1232.5 1041.2 1284.8 1032 1315 C1022.8 1345.2 1000.7 1371.5 985 1378 C969.3 1384.5 949.8 1371.2 938 1354 C926.2 1336.8 919.3 1307.8 914 1275 C908.7 1242.2 900.7 1196.3 906 1157 Z" fill="#ffb600" stroke="#111" stroke-width="1.8" vector-effect="non-scaling-stroke" stroke-linejoin="round"/>
<path d="M90 860 C93.3 803 75 868.2 110 873 C145 877.8 279 877.2 300 889 C321 900.8 258.5 921.7 236 944 C213.5 966.3 183.3 981 165 1023 C146.7 1065 136.5 1164.5 126 1196 C115.5 1227.5 108 1208.8 102 1212 C96 1215.2 92 1273.7 90 1215 C88 1156.3 86.7 917 90 860 Z" fill="#ff5100" stroke="#111" stroke-width="1.8" vector-effect="non-scaling-stroke" stroke-linejoin="round"/>
</g>
<path d="M100 835 L1250 835 L1250 1590 L100 1590Z" fill="none" stroke="#111" stroke-width="1.6" vector-effect="non-scaling-stroke"/>
</g>
<g transform="translate(1300 1230) scale(0.17446)">
<clipPath id="cg16"><path d="M100 780 L1250 780 L1250 835 L100 835Z"/></clipPath>
<g clip-path="url(#cg16)">
<path d="M-100 -100 L1400 -100 L1400 1700 L-100 1700Z" fill="#ffffff"/>
<path d="M590 802 C606.7 797 656.7 797 700 797 C743.3 797 826.7 797 850 802 C873.3 807 865 822 840 827 C815 832 740 832 700 832 C660 832 618.3 832 600 827 C581.7 822 573.3 807 590 802 Z" fill="#00106a" stroke="#111" stroke-width="1.8" vector-effect="non-scaling-stroke" stroke-linejoin="round"/>
</g>
<path d="M100 780H1250M100 835H1250" stroke="#111" stroke-width="2.6" vector-effect="non-scaling-stroke"/>
</g>
</g>
<path d="M303.7 92h16.6M312 83.7v16.6M238.7 99h16.6M247 90.7v16.6M195.7 108h16.6M204 99.7v16.6M203.7 118h16.6M212 109.7v16.6M209.7 114h16.6M218 105.7v16.6M200.7 124h16.6M209 115.7v16.6M223.7 113h16.6M232 104.7v16.6M243.7 124h16.6M252 115.7v16.6M171.7 122h16.6M180 113.7v16.6M175.7 120h16.6M184 111.7v16.6M177.7 124h16.6M186 115.7v16.6M183.7 140h16.6M192 131.7v16.6M189.7 147h16.6M198 138.7v16.6M218.7 142h16.6M227 133.7v16.6M249.7 146h16.6M258 137.7v16.6M275.7 139h16.6M284 130.7v16.6M279.7 144h16.6M288 135.7v16.6M283.7 150h16.6M292 141.7v16.6M296.7 136h16.6M305 127.7v16.6M289.7 163h16.6M298 154.7v16.6M263.7 160h16.6M272 151.7v16.6M267.7 163h16.6M276 154.7v16.6M256.7 182h16.6M265 173.7v16.6M310.7 168h16.6M319 159.7v16.6M317.7 180h16.6M326 171.7v16.6M324.7 194h16.6M333 185.7v16.6M330.7 204h16.6M339 195.7v16.6M344.7 181h16.6M353 172.7v16.6M351.7 172h16.6M360 163.7v16.6M357.7 187h16.6M366 178.7v16.6M365.7 160h16.6M374 151.7v16.6M369.7 164h16.6M378 155.7v16.6M377.7 158h16.6M386 149.7v16.6M381.7 156h16.6M390 147.7v16.6M396.7 153h16.6M405 144.7v16.6M389.7 187h16.6M398 178.7v16.6M405.7 190h16.6M414 181.7v16.6M151.7 156h16.6M160 147.7v16.6M155.7 159h16.6M164 150.7v16.6M159.7 162h16.6M168 153.7v16.6M165.7 163h16.6M174 154.7v16.6M145.7 176h16.6M154 167.7v16.6M148.7 174h16.6M157 165.7v16.6M131.7 228h16.6M140 219.7v16.6M127.7 231h16.6M136 222.7v16.6M123.7 237h16.6M132 228.7v16.6M134.7 229h16.6M143 220.7v16.6M121.7 257h16.6M130 248.7v16.6M117.7 298h16.6M126 289.7v16.6M111.7 308h16.6M120 299.7v16.6M103.7 308h16.6M112 299.7v16.6M111.7 320h16.6M120 311.7v16.6M113.7 314h16.6M122 305.7v16.6M107.7 312h16.6M116 303.7v16.6" stroke="#000" stroke-width="2.6" fill="none"/>
<path d="M398.7 152h16.6M407 143.7v16.6M391.7 188h16.6M400 179.7v16.6M405.7 191h16.6M414 182.7v16.6M411.7 178h16.6M420 169.7v16.6M417.7 176h16.6M426 167.7v16.6M423.7 174h16.6M432 165.7v16.6M429.7 180h16.6M438 171.7v16.6M437.7 160h16.6M446 151.7v16.6M443.7 168h16.6M452 159.7v16.6M449.7 172h16.6M458 163.7v16.6M453.7 174h16.6M462 165.7v16.6M459.7 170h16.6M468 161.7v16.6M465.7 133h16.6M474 124.7v16.6M471.7 138h16.6M480 129.7v16.6M477.7 140h16.6M486 131.7v16.6M483.7 148h16.6M492 139.7v16.6M489.7 150h16.6M498 141.7v16.6M495.7 152h16.6M504 143.7v16.6M499.7 158h16.6M508 149.7v16.6M505.7 148h16.6M514 139.7v16.6M659.7 230h16.6M668 221.7v16.6M661.7 246h16.6M670 237.7v16.6M663.7 252h16.6M672 243.7v16.6M678.7 266h16.6M687 257.7v16.6M665.7 284h16.6M674 275.7v16.6M683.7 286h16.6M692 277.7v16.6M679.7 294h16.6M688 285.7v16.6M669.7 300h16.6M678 291.7v16.6M671.7 310h16.6M680 301.7v16.6M675.7 314h16.6M684 305.7v16.6M679.7 320h16.6M688 311.7v16.6M681.7 326h16.6M690 317.7v16.6M667.7 318h16.6M676 309.7v16.6M566.7 94h16.6M575 85.7v16.6M613.2 101h16.6M621.5 92.7v16.6M529.7 118h16.6M538 109.7v16.6M540.7 117h16.6M549 108.7v16.6M549.7 114h16.6M558 105.7v16.6M560.7 114h16.6M569 105.7v16.6M531.7 123h16.6M540 114.7v16.6M540.7 122h16.6M549 113.7v16.6M551.7 122h16.6M560 113.7v16.6M543.7 131h16.6M552 122.7v16.6M557.7 132h16.6M566 123.7v16.6M578.7 120h16.6M587 111.7v16.6M585.7 122h16.6M594 113.7v16.6M597.7 120h16.6M606 111.7v16.6M601.7 126h16.6M610 117.7v16.6M606.7 127h16.6M615 118.7v16.6M569.7 137h16.6M578 128.7v16.6M575.7 138h16.6M584 129.7v16.6M581.7 139h16.6M590 130.7v16.6M587.7 137h16.6M596 128.7v16.6M593.7 138h16.6M602 129.7v16.6M598.7 139h16.6M607 130.7v16.6M519.7 145h16.6M528 136.7v16.6M513.7 149h16.6M522 140.7v16.6M524.7 168h16.6M533 159.7v16.6M610.7 147h16.6M619 138.7v16.6M619.7 142h16.6M628 133.7v16.6M630.7 142h16.6M639 133.7v16.6M624.7 150h16.6M633 141.7v16.6M636.7 150h16.6M645 141.7v16.6M644.7 158h16.6M653 149.7v16.6M626.7 158h16.6M635 149.7v16.6M607.7 162h16.6M616 153.7v16.6M615.7 150h16.6M624 141.7v16.6M632.7 155h16.6M641 146.7v16.6M639.7 154h16.6M648 145.7v16.6M658.7 144h16.6M667 135.7v16.6M649.7 176h16.6M658 167.7v16.6M651.7 187h16.6M660 178.7v16.6M647.7 191h16.6M656 182.7v16.6M653.7 203h16.6M662 194.7v16.6M656.7 213h16.6M665 204.7v16.6" stroke="#000" stroke-width="2.6" fill="none"/>
<path d="M101.7 603h16.6M110 594.7v16.6M107.7 602h16.6M116 593.7v16.6M113.7 601h16.6M122 592.7v16.6M119.7 600h16.6M128 591.7v16.6M125.7 599h16.6M134 590.7v16.6M131.7 598h16.6M140 589.7v16.6M137.7 597h16.6M146 588.7v16.6M141.7 595h16.6M150 586.7v16.6M103.7 599h16.6M112 590.7v16.6M111.7 604h16.6M120 595.7v16.6M121.7 603h16.6M130 594.7v16.6M129.7 601h16.6M138 592.7v16.6M143.7 585h16.6M152 576.7v16.6M147.7 577h16.6M156 568.7v16.6M151.7 569h16.6M160 560.7v16.6M155.7 565h16.6M164 556.7v16.6M161.7 571h16.6M170 562.7v16.6M155.7 549h16.6M164 540.7v16.6M161.7 545h16.6M170 536.7v16.6M167.7 541h16.6M176 532.7v16.6M171.7 537h16.6M180 528.7v16.6M175.7 517h16.6M184 508.7v16.6M179.7 519h16.6M188 510.7v16.6M183.7 515h16.6M192 506.7v16.6M187.7 513h16.6M196 504.7v16.6M185.7 523h16.6M194 514.7v16.6M195.7 501h16.6M204 492.7v16.6M201.7 497h16.6M210 488.7v16.6M207.7 487h16.6M216 478.7v16.6M211.7 485h16.6M220 476.7v16.6M213.7 489h16.6M222 480.7v16.6M219.7 465h16.6M228 456.7v16.6M223.7 473h16.6M232 464.7v16.6M227.7 469h16.6M236 460.7v16.6M233.7 463h16.6M242 454.7v16.6M239.7 461h16.6M248 452.7v16.6M243.7 461h16.6M252 452.7v16.6M249.7 447h16.6M258 438.7v16.6M255.7 449h16.6M264 440.7v16.6M261.7 453h16.6M270 444.7v16.6M267.7 455h16.6M276 446.7v16.6M269.7 457h16.6M278 448.7v16.6M275.7 435h16.6M284 426.7v16.6M281.7 425h16.6M290 416.7v16.6M287.7 423h16.6M296 414.7v16.6M293.7 419h16.6M302 410.7v16.6M295.7 417h16.6M304 408.7v16.6M303.7 438h16.6M312 429.7v16.6M311.7 409h16.6M320 400.7v16.6M317.7 415h16.6M326 406.7v16.6M331.7 409h16.6M340 400.7v16.6M323.7 388h16.6M332 379.7v16.6M339.7 385h16.6M348 376.7v16.6M343.7 386h16.6M352 377.7v16.6M351.7 417h16.6M360 408.7v16.6M357.7 411h16.6M366 402.7v16.6M363.7 397h16.6M372 388.7v16.6M371.7 371h16.6M380 362.7v16.6M377.7 407h16.6M386 398.7v16.6M383.7 389h16.6M392 380.7v16.6M391.7 379h16.6M400 370.7v16.6M397.7 371h16.6M406 362.7v16.6M405.7 401h16.6M414 392.7v16.6" stroke="#000" stroke-width="2.6" fill="none"/>
<path d="M395.7 373h16.6M404 364.7v16.6M411.7 375h16.6M420 366.7v16.6M417.7 373h16.6M426 364.7v16.6M423.7 373h16.6M432 364.7v16.6M429.7 375h16.6M438 366.7v16.6M435.7 375h16.6M444 366.7v16.6M449.7 367h16.6M458 358.7v16.6M441.7 399h16.6M450 390.7v16.6M453.7 393h16.6M462 384.7v16.6M459.7 391h16.6M468 382.7v16.6M463.7 395h16.6M472 386.7v16.6M467.7 405h16.6M476 396.7v16.6M473.7 409h16.6M482 400.7v16.6M479.7 411h16.6M488 402.7v16.6M483.7 401h16.6M492 392.7v16.6M489.7 415h16.6M498 406.7v16.6M493.7 417h16.6M502 408.7v16.6M497.7 423h16.6M506 414.7v16.6M503.7 451h16.6M512 442.7v16.6M513.7 447h16.6M522 438.7v16.6M511.7 419h16.6M520 410.7v16.6M517.7 425h16.6M526 416.7v16.6M527.7 429h16.6M536 420.7v16.6M531.7 433h16.6M540 424.7v16.6M535.7 427h16.6M544 418.7v16.6M539.7 451h16.6M548 442.7v16.6M543.7 455h16.6M552 446.7v16.6M557.7 455h16.6M566 446.7v16.6M549.7 475h16.6M558 466.7v16.6M557.7 475h16.6M566 466.7v16.6M563.7 473h16.6M572 464.7v16.6M567.7 471h16.6M576 462.7v16.6M573.7 467h16.6M582 458.7v16.6M575.7 487h16.6M584 478.7v16.6M581.7 491h16.6M590 482.7v16.6M585.7 483h16.6M594 474.7v16.6M591.7 489h16.6M600 480.7v16.6M595.7 503h16.6M604 494.7v16.6M601.7 501h16.6M610 492.7v16.6M607.7 511h16.6M616 502.7v16.6M609.7 521h16.6M618 512.7v16.6M613.7 525h16.6M622 516.7v16.6M617.7 531h16.6M626 522.7v16.6M621.7 535h16.6M630 526.7v16.6M625.7 539h16.6M634 530.7v16.6M629.7 545h16.6M638 536.7v16.6M633.7 551h16.6M642 542.7v16.6M637.7 557h16.6M646 548.7v16.6M641.7 565h16.6M650 556.7v16.6M645.7 573h16.6M654 564.7v16.6M649.7 581h16.6M658 572.7v16.6M653.7 589h16.6M662 580.7v16.6M657.7 595h16.6M666 586.7v16.6M651.7 600h16.6M660 591.7v16.6M661.7 601h16.6M670 592.7v16.6M671.7 602h16.6M680 593.7v16.6M681.7 601h16.6M690 592.7v16.6M681.7 589h16.6M690 580.7v16.6M667.7 600h16.6M676 591.7v16.6M675.7 603h16.6M684 594.7v16.6" stroke="#000" stroke-width="2.6" fill="none"/>
<path d="M159.7 567h16.6M168 558.7v16.6M167.7 561h16.6M176 552.7v16.6M173.7 557h16.6M182 548.7v16.6M179.7 553h16.6M188 544.7v16.6M185.7 549h16.6M194 540.7v16.6M191.7 545h16.6M200 536.7v16.6M195.7 541h16.6M204 532.7v16.6M201.7 537h16.6M210 528.7v16.6M209.7 533h16.6M218 524.7v16.6M221.7 527h16.6M230 518.7v16.6M233.7 525h16.6M242 516.7v16.6M247.7 515h16.6M256 506.7v16.6M263.7 509h16.6M272 500.7v16.6M277.7 503h16.6M286 494.7v16.6M293.7 503h16.6M302 494.7v16.6M307.7 504h16.6M316 495.7v16.6M323.7 487h16.6M332 478.7v16.6M339.7 487h16.6M348 478.7v16.6M355.7 473h16.6M364 464.7v16.6M369.7 481h16.6M378 472.7v16.6M385.7 473h16.6M394 464.7v16.6M367.7 525h16.6M376 516.7v16.6M389.7 515h16.6M398 506.7v16.6" stroke="#ff00ff" stroke-width="2.6" fill="none"/>
<path d="M557.7 538.5h16.6M566 530.2v16.6M563.7 541.9h16.6M572 533.6v16.6M569.7 545.4h16.6M578 537.1v16.6M575.7 548.8h16.6M584 540.5v16.6M581.7 552.3h16.6M590 544v16.6M587.7 555.7h16.6M596 547.4v16.6M593.7 559.2h16.6M602 550.9v16.6M599.7 562.6h16.6M608 554.3v16.6M605.7 566.1h16.6M614 557.8v16.6M611.7 569.5h16.6M620 561.2v16.6M617.7 572.9h16.6M626 564.6v16.6M623.7 576.4h16.6M632 568.1v16.6M629.7 579.8h16.6M638 571.5v16.6M635.7 583.3h16.6M644 575v16.6M641.7 586.7h16.6M650 578.4v16.6M647.7 590.2h16.6M656 581.9v16.6M653.7 593.6h16.6M662 585.3v16.6M536.7 531h16.6M545 522.7v16.6M543.7 534h16.6M552 525.7v16.6M549.7 538h16.6M558 529.7v16.6M401.7 473h16.6M410 464.7v16.6M417.7 475h16.6M426 466.7v16.6M407.7 527h16.6M416 518.7v16.6M413.7 525h16.6M422 516.7v16.6M431.7 521h16.6M440 512.7v16.6M439.7 485h16.6M448 476.7v16.6M447.7 481h16.6M456 472.7v16.6M449.7 507h16.6M458 498.7v16.6M455.7 497h16.6M464 488.7v16.6M467.7 495h16.6M476 486.7v16.6M475.7 499h16.6M484 490.7v16.6M483.7 495h16.6M492 486.7v16.6M463.7 519h16.6M472 510.7v16.6M477.7 509h16.6M486 500.7v16.6M489.7 523h16.6M498 514.7v16.6M497.7 507h16.6M506 498.7v16.6M505.7 501h16.6M514 492.7v16.6M503.7 521h16.6M512 512.7v16.6M511.7 523h16.6M520 514.7v16.6M519.7 521h16.6M528 512.7v16.6M525.7 519h16.6M534 510.7v16.6M531.7 523h16.6M540 514.7v16.6M539.7 523h16.6M548 514.7v16.6M547.7 525h16.6M556 516.7v16.6M555.7 519h16.6M564 510.7v16.6M557.7 533h16.6M566 524.7v16.6M563.7 535h16.6M572 526.7v16.6M569.7 529h16.6M578 520.7v16.6M575.7 531h16.6M584 522.7v16.6M581.7 535h16.6M590 526.7v16.6M587.7 539h16.6M596 530.7v16.6M591.7 541h16.6M600 532.7v16.6M597.7 545h16.6M606 536.7v16.6M603.7 547h16.6M612 538.7v16.6M609.7 551h16.6M618 542.7v16.6M615.7 555h16.6M624 546.7v16.6M621.7 559h16.6M630 550.7v16.6M627.7 565h16.6M636 556.7v16.6M633.7 571h16.6M642 562.7v16.6M639.7 575h16.6M648 566.7v16.6M645.7 581h16.6M654 572.7v16.6M651.7 587h16.6M660 578.7v16.6M657.7 589h16.6M666 580.7v16.6M663.7 585h16.6M672 576.7v16.6M667.7 575h16.6M676 566.7v16.6M661.7 559h16.6M670 550.7v16.6M671.7 555h16.6M680 546.7v16.6M675.7 565h16.6M684 556.7v16.6M681.7 561h16.6M690 552.7v16.6M683.7 569h16.6M692 560.7v16.6M679.7 535h16.6M688 526.7v16.6M594.7 548h16.6M603 539.7v16.6M600.7 552h16.6M609 543.7v16.6M606.7 556h16.6M615 547.7v16.6M612.7 560h16.6M621 551.7v16.6M618.7 564h16.6M627 555.7v16.6M624.7 570h16.6M633 561.7v16.6M630.7 576h16.6M639 567.7v16.6M636.7 580h16.6M645 571.7v16.6M642.7 586h16.6M651 577.7v16.6M648.7 590h16.6M657 581.7v16.6M654.7 594h16.6M663 585.7v16.6M571.7 540h16.6M580 531.7v16.6M577.7 544h16.6M586 535.7v16.6M583.7 546h16.6M592 537.7v16.6M551.7 530h16.6M560 521.7v16.6M561.7 540h16.6M570 531.7v16.6" stroke="#ff00ff" stroke-width="2.6" fill="none"/>
<path d="M924.7 189h16.6M933 180.7v16.6M939.7 198h16.6M948 189.7v16.6M941.7 194h16.6M950 185.7v16.6M944.7 192h16.6M953 183.7v16.6M947.7 194h16.6M956 185.7v16.6M951.7 193h16.6M960 184.7v16.6M938.7 200h16.6M947 191.7v16.6M934.7 244h16.6M943 235.7v16.6M928.7 298h16.6M937 289.7v16.6M917.7 322h16.6M926 313.7v16.6M921.7 320h16.6M930 311.7v16.6M931.7 318h16.6M940 309.7v16.6M913.7 324h16.6M922 315.7v16.6M919.7 328h16.6M928 319.7v16.6M957.7 154h16.6M966 145.7v16.6M961.7 152h16.6M970 143.7v16.6M967.7 150h16.6M976 141.7v16.6M973.7 146h16.6M982 137.7v16.6M978.7 142h16.6M987 133.7v16.6M959.7 158h16.6M968 149.7v16.6M965.7 118h16.6M974 109.7v16.6M983.7 104h16.6M992 95.7v16.6M986.7 94h16.6M995 85.7v16.6M989.7 108h16.6M998 99.7v16.6M993.7 116h16.6M1002 107.7v16.6M997.7 118h16.6M1006 109.7v16.6M1001.7 118h16.6M1010 109.7v16.6M983.7 98h16.6M992 89.7v16.6M1007.7 97h16.6M1016 88.7v16.6M1011.7 102h16.6M1020 93.7v16.6M1015.7 108h16.6M1024 99.7v16.6M1019.7 110h16.6M1028 101.7v16.6M1023.7 111h16.6M1032 102.7v16.6M1029.7 134h16.6M1038 125.7v16.6M1035.7 97h16.6M1044 88.7v16.6M1049.7 85h16.6M1058 76.7v16.6M1054.7 110h16.6M1063 101.7v16.6M1061.7 141h16.6M1070 132.7v16.6M1067.7 165h16.6M1076 156.7v16.6M1071.7 160h16.6M1080 151.7v16.6M1075.7 158h16.6M1084 149.7v16.6M1079.7 156h16.6M1088 147.7v16.6M1087.7 133h16.6M1096 124.7v16.6M1091.7 137h16.6M1100 128.7v16.6M1095.7 141h16.6M1104 132.7v16.6M1101.7 154h16.6M1110 145.7v16.6M1107.7 123h16.6M1116 114.7v16.6M1114.7 89h16.6M1123 80.7v16.6M1121.7 161h16.6M1130 152.7v16.6M1128.7 179h16.6M1137 170.7v16.6M1135.7 200h16.6M1144 191.7v16.6M1139.7 196h16.6M1148 187.7v16.6M1142.7 192h16.6M1151 183.7v16.6M1155.7 175h16.6M1164 166.7v16.6M1161.7 171h16.6M1170 162.7v16.6M1163.7 168h16.6M1172 159.7v16.6M1169.7 200h16.6M1178 191.7v16.6M1176.7 156h16.6M1185 147.7v16.6M1181.7 162h16.6M1190 153.7v16.6M1187.7 170h16.6M1196 161.7v16.6M1193.7 169h16.6M1202 160.7v16.6M1199.7 184h16.6M1208 175.7v16.6M1207.7 161h16.6M1216 152.7v16.6M1216.7 192h16.6M1225 183.7v16.6" stroke="#000" stroke-width="2.6" fill="none"/>
<path d="M1208.7 161h16.6M1217 152.7v16.6M1201.7 184h16.6M1210 175.7v16.6M1216.7 192h16.6M1225 183.7v16.6M1221.7 186h16.6M1230 177.7v16.6M1227.7 178h16.6M1236 169.7v16.6M1231.7 172h16.6M1240 163.7v16.6M1235.7 174h16.6M1244 165.7v16.6M1241.7 192h16.6M1250 183.7v16.6M1245.7 174h16.6M1254 165.7v16.6M1249.7 178h16.6M1258 169.7v16.6M1255.7 178h16.6M1264 169.7v16.6M1261.7 174h16.6M1270 165.7v16.6M1265.7 168h16.6M1274 159.7v16.6M1270.7 161h16.6M1279 152.7v16.6M1277.7 139h16.6M1286 130.7v16.6M1281.7 140h16.6M1290 131.7v16.6M1287.7 136h16.6M1296 127.7v16.6M1293.7 138h16.6M1302 129.7v16.6M1299.7 144h16.6M1308 135.7v16.6M1305.7 124h16.6M1314 115.7v16.6M1309.7 130h16.6M1318 121.7v16.6M1313.7 136h16.6M1322 127.7v16.6M1321.7 140h16.6M1330 131.7v16.6M1327.7 136h16.6M1336 127.7v16.6M1333.7 128h16.6M1342 119.7v16.6M1334.7 165h16.6M1343 156.7v16.6M1341.7 120h16.6M1350 111.7v16.6M1345.7 114h16.6M1354 105.7v16.6M1351.7 116h16.6M1360 107.7v16.6M1353.7 135h16.6M1362 126.7v16.6M1361.7 112h16.6M1370 103.7v16.6M1363.7 120h16.6M1372 111.7v16.6M1367.7 128h16.6M1376 119.7v16.6M1371.7 138h16.6M1380 129.7v16.6M1373.7 82h16.6M1382 73.7v16.6M1379.7 108h16.6M1388 99.7v16.6M1383.7 114h16.6M1392 105.7v16.6M1389.7 126h16.6M1398 117.7v16.6M1395.7 104h16.6M1404 95.7v16.6M1401.7 110h16.6M1410 101.7v16.6M1405.7 110h16.6M1414 101.7v16.6M1411.7 108h16.6M1420 99.7v16.6M1415.7 112h16.6M1424 103.7v16.6M1421.7 118h16.6M1430 109.7v16.6M1427.7 104h16.6M1436 95.7v16.6M1421.7 73h16.6M1430 64.7v16.6M1415.7 146h16.6M1424 137.7v16.6M1429.7 122h16.6M1438 113.7v16.6M1435.7 124h16.6M1444 115.7v16.6M1441.7 120h16.6M1450 111.7v16.6M1443.7 112h16.6M1452 103.7v16.6M1447.7 120h16.6M1456 111.7v16.6M1453.7 124h16.6M1462 115.7v16.6M1445.7 144h16.6M1454 135.7v16.6M1453.7 150h16.6M1462 141.7v16.6M1459.7 154h16.6M1468 145.7v16.6M1461.7 146h16.6M1470 137.7v16.6M1463.7 158h16.6M1472 149.7v16.6M1467.7 160h16.6M1476 151.7v16.6M1470.7 165h16.6M1479 156.7v16.6M1469.7 176h16.6M1478 167.7v16.6M1469.7 185h16.6M1478 176.7v16.6M1472.7 207h16.6M1481 198.7v16.6M1475.7 262h16.6M1484 253.7v16.6M1477.7 268h16.6M1486 259.7v16.6M1490.7 282h16.6M1499 273.7v16.6M1489.7 298h16.6M1498 289.7v16.6M1483.7 302h16.6M1492 293.7v16.6M1481.7 312h16.6M1490 303.7v16.6M1485.7 316h16.6M1494 307.7v16.6M1491.7 328h16.6M1500 319.7v16.6M1479.7 314h16.6M1488 305.7v16.6" stroke="#000" stroke-width="2.6" fill="none"/>
<path d="M911.7 601h16.6M920 592.7v16.6M917.7 599h16.6M926 590.7v16.6M923.7 599h16.6M932 590.7v16.6M929.7 597h16.6M938 588.7v16.6M935.7 595h16.6M944 586.7v16.6M941.7 593h16.6M950 584.7v16.6M947.7 592h16.6M956 583.7v16.6M953.7 591h16.6M962 582.7v16.6M957.7 595h16.6M966 586.7v16.6M913.7 603h16.6M922 594.7v16.6M925.7 603h16.6M934 594.7v16.6M931.7 601h16.6M940 592.7v16.6M959.7 585h16.6M968 576.7v16.6M961.7 575h16.6M970 566.7v16.6M963.7 567h16.6M972 558.7v16.6M967.7 563h16.6M976 554.7v16.6M969.7 555h16.6M978 546.7v16.6M971.7 561h16.6M980 552.7v16.6M977.7 527h16.6M986 518.7v16.6M981.7 523h16.6M990 514.7v16.6M985.7 519h16.6M994 510.7v16.6M987.7 509h16.6M996 500.7v16.6M991.7 515h16.6M1000 506.7v16.6M995.7 513h16.6M1004 504.7v16.6M1001.7 515h16.6M1010 506.7v16.6M1005.7 509h16.6M1014 500.7v16.6M1009.7 505h16.6M1018 496.7v16.6M1013.7 489h16.6M1022 480.7v16.6M1017.7 491h16.6M1026 482.7v16.6M1025.7 487h16.6M1034 478.7v16.6M1029.7 483h16.6M1038 474.7v16.6M1033.7 493h16.6M1042 484.7v16.6M1037.7 495h16.6M1046 486.7v16.6M1041.7 467h16.6M1050 458.7v16.6M1047.7 465h16.6M1056 456.7v16.6M1051.7 463h16.6M1060 454.7v16.6M1053.7 469h16.6M1062 460.7v16.6M1055.7 455h16.6M1064 446.7v16.6M1061.7 455h16.6M1070 446.7v16.6M1071.7 453h16.6M1080 444.7v16.6M1067.7 433h16.6M1076 424.7v16.6M1081.7 441h16.6M1090 432.7v16.6M1085.7 435h16.6M1094 426.7v16.6M1089.7 433h16.6M1098 424.7v16.6M1093.7 419h16.6M1102 410.7v16.6M1097.7 421h16.6M1106 412.7v16.6M1101.7 425h16.6M1110 416.7v16.6M1105.7 429h16.6M1114 420.7v16.6M1109.7 433h16.6M1118 424.7v16.6M1121.7 440h16.6M1130 431.7v16.6M1115.7 400h16.6M1124 391.7v16.6M1128.7 412h16.6M1137 403.7v16.6M1133.7 401h16.6M1142 392.7v16.6M1143.7 419h16.6M1152 410.7v16.6M1147.7 421h16.6M1156 412.7v16.6M1155.7 373h16.6M1164 364.7v16.6M1161.7 403h16.6M1170 394.7v16.6M1165.7 405h16.6M1174 396.7v16.6M1167.7 407h16.6M1176 398.7v16.6M1177.7 377h16.6M1186 368.7v16.6M1181.7 395h16.6M1190 386.7v16.6M1189.7 461h16.6M1198 452.7v16.6M1193.7 391h16.6M1202 382.7v16.6M1201.7 379h16.6M1210 370.7v16.6M1207.7 395h16.6M1216 386.7v16.6M1215.7 353h16.6M1224 344.7v16.6" stroke="#000" stroke-width="2.6" fill="none"/>
<path d="M969.7 563h16.6M978 554.7v16.6M977.7 559h16.6M986 550.7v16.6M983.7 555h16.6M992 546.7v16.6M989.7 551h16.6M998 542.7v16.6M995.7 547h16.6M1004 538.7v16.6M1001.7 545h16.6M1010 536.7v16.6M1007.7 543h16.6M1016 534.7v16.6M1019.7 539h16.6M1028 530.7v16.6M1031.7 531h16.6M1040 522.7v16.6M1045.7 533h16.6M1054 524.7v16.6M1059.7 517h16.6M1068 508.7v16.6M1073.7 509h16.6M1082 500.7v16.6M1087.7 499h16.6M1096 490.7v16.6M1103.7 501h16.6M1112 492.7v16.6M1117.7 503h16.6M1126 494.7v16.6M1133.7 487h16.6M1142 478.7v16.6M1149.7 495h16.6M1158 486.7v16.6M1165.7 483h16.6M1174 474.7v16.6M1179.7 483h16.6M1188 474.7v16.6M1193.7 489h16.6M1202 480.7v16.6M1211.7 487h16.6M1220 478.7v16.6M1179.7 513h16.6M1188 504.7v16.6M1199.7 519h16.6M1208 510.7v16.6M1219.7 537h16.6M1228 528.7v16.6" stroke="#ff00ff" stroke-width="2.6" fill="none"/>
<path d="M1201.7 379h16.6M1210 370.7v16.6M1208.7 395h16.6M1217 386.7v16.6M1216.7 353h16.6M1225 344.7v16.6M1246.7 350h16.6M1255 341.7v16.6M1225.7 369h16.6M1234 360.7v16.6M1231.7 381h16.6M1240 372.7v16.6M1235.7 385h16.6M1244 376.7v16.6M1241.7 379h16.6M1250 370.7v16.6M1253.7 393h16.6M1262 384.7v16.6M1259.7 379h16.6M1268 370.7v16.6M1265.7 374h16.6M1274 365.7v16.6M1270.7 402h16.6M1279 393.7v16.6M1277.7 385h16.6M1286 376.7v16.6M1283.7 383h16.6M1292 374.7v16.6M1287.7 383h16.6M1296 374.7v16.6M1305.7 400h16.6M1314 391.7v16.6M1293.7 424h16.6M1302 415.7v16.6M1299.7 423h16.6M1308 414.7v16.6M1315.7 419h16.6M1324 410.7v16.6M1321.7 431h16.6M1330 422.7v16.6M1325.7 439h16.6M1334 430.7v16.6M1329.7 433h16.6M1338 424.7v16.6M1310.7 452h16.6M1319 443.7v16.6M1337.7 453h16.6M1346 444.7v16.6M1343.7 443h16.6M1352 434.7v16.6M1349.7 455h16.6M1358 446.7v16.6M1357.7 457h16.6M1366 448.7v16.6M1365.7 459h16.6M1374 450.7v16.6M1371.7 455h16.6M1380 446.7v16.6M1379.7 449h16.6M1388 440.7v16.6M1383.7 445h16.6M1392 436.7v16.6M1353.7 475h16.6M1362 466.7v16.6M1361.7 483h16.6M1370 474.7v16.6M1371.7 473h16.6M1380 464.7v16.6M1377.7 473h16.6M1386 464.7v16.6M1385.7 473h16.6M1394 464.7v16.6M1391.7 487h16.6M1400 478.7v16.6M1395.7 493h16.6M1404 484.7v16.6M1401.7 495h16.6M1410 486.7v16.6M1405.7 489h16.6M1414 480.7v16.6M1409.7 499h16.6M1418 490.7v16.6M1413.7 503h16.6M1422 494.7v16.6M1421.7 507h16.6M1430 498.7v16.6M1417.7 525h16.6M1426 516.7v16.6M1423.7 527h16.6M1432 518.7v16.6M1429.7 525h16.6M1438 516.7v16.6M1431.7 533h16.6M1440 524.7v16.6M1437.7 547h16.6M1446 538.7v16.6M1441.7 551h16.6M1450 542.7v16.6M1445.7 555h16.6M1454 546.7v16.6M1449.7 563h16.6M1458 554.7v16.6M1453.7 571h16.6M1462 562.7v16.6M1457.7 579h16.6M1466 570.7v16.6M1461.7 587h16.6M1470 578.7v16.6M1461.7 601h16.6M1470 592.7v16.6M1469.7 601h16.6M1478 592.7v16.6M1477.7 603h16.6M1486 594.7v16.6M1485.7 601h16.6M1494 592.7v16.6M1489.7 599h16.6M1498 590.7v16.6" stroke="#000" stroke-width="2.6" fill="none"/>
<path d="M1201.7 519h16.6M1210 510.7v16.6M1211.7 487h16.6M1220 478.7v16.6M1229.7 479h16.6M1238 470.7v16.6M1225.7 537h16.6M1234 528.7v16.6M1241.7 533h16.6M1250 524.7v16.6M1247.7 489h16.6M1256 480.7v16.6M1255.7 495h16.6M1264 486.7v16.6M1259.7 507h16.6M1268 498.7v16.6M1263.7 491h16.6M1272 482.7v16.6M1277.7 495h16.6M1286 486.7v16.6M1285.7 487h16.6M1294 478.7v16.6M1293.7 501h16.6M1302 492.7v16.6M1271.7 521h16.6M1280 512.7v16.6M1285.7 533h16.6M1294 524.7v16.6M1299.7 523h16.6M1308 514.7v16.6M1305.7 515h16.6M1314 506.7v16.6M1311.7 509h16.6M1320 500.7v16.6M1317.7 517h16.6M1326 508.7v16.6M1323.7 521h16.6M1332 512.7v16.6M1329.7 533h16.6M1338 524.7v16.6M1333.7 519h16.6M1342 510.7v16.6M1339.7 523h16.6M1348 514.7v16.6M1345.7 527h16.6M1354 518.7v16.6M1351.7 529h16.6M1360 520.7v16.6M1357.7 527h16.6M1366 518.7v16.6M1365.7 531h16.6M1374 522.7v16.6M1371.7 533h16.6M1380 524.7v16.6M1377.7 535h16.6M1386 526.7v16.6M1383.7 537h16.6M1392 528.7v16.6M1389.7 539h16.6M1398 530.7v16.6M1395.7 543h16.6M1404 534.7v16.6M1401.7 547h16.6M1410 538.7v16.6M1407.7 551h16.6M1416 542.7v16.6M1413.7 555h16.6M1422 546.7v16.6M1419.7 559h16.6M1428 550.7v16.6M1425.7 563h16.6M1434 554.7v16.6M1431.7 567h16.6M1440 558.7v16.6M1437.7 571h16.6M1446 562.7v16.6M1443.7 575h16.6M1452 566.7v16.6M1449.7 581h16.6M1458 572.7v16.6M1455.7 585h16.6M1464 576.7v16.6M1461.7 587h16.6M1470 578.7v16.6M1467.7 589h16.6M1476 580.7v16.6M1473.7 581h16.6M1482 572.7v16.6M1481.7 575h16.6M1490 566.7v16.6M1487.7 563h16.6M1496 554.7v16.6M1493.7 587h16.6M1502 578.7v16.6M1471.7 547h16.6M1480 538.7v16.6M1398.7 545h16.6M1407 536.7v16.6M1404.7 549h16.6M1413 540.7v16.6M1410.7 553h16.6M1419 544.7v16.6M1416.7 557h16.6M1425 548.7v16.6M1422.7 561h16.6M1431 552.7v16.6M1428.7 565h16.6M1437 556.7v16.6M1434.7 569h16.6M1443 560.7v16.6M1440.7 573h16.6M1449 564.7v16.6M1446.7 578h16.6M1455 569.7v16.6M1452.7 583h16.6M1461 574.7v16.6M1458.7 586h16.6M1467 577.7v16.6M1464.7 588h16.6M1473 579.7v16.6M1477.7 583h16.6M1486 574.7v16.6M1485.7 571h16.6M1494 562.7v16.6M1311.7 516.6h16.6M1320 508.3v16.6M1317.7 524.6h16.6M1326 516.3v16.6M1323.7 528.6h16.6M1332 520.3v16.6M1329.7 540.6h16.6M1338 532.3v16.6M1333.7 526.6h16.6M1342 518.3v16.6M1339.7 530.6h16.6M1348 522.3v16.6M1345.7 534.6h16.6M1354 526.3v16.6M1351.7 536.6h16.6M1360 528.3v16.6M1357.7 534.6h16.6M1366 526.3v16.6M1365.7 538.6h16.6M1374 530.3v16.6M1371.7 540.6h16.6M1380 532.3v16.6M1377.7 542.6h16.6M1386 534.3v16.6M1383.7 544.6h16.6M1392 536.3v16.6M1389.7 546.6h16.6M1398 538.3v16.6M1395.7 550.6h16.6M1404 542.3v16.6M1401.7 552.6h16.6M1410 544.3v16.6M1407.7 556.6h16.6M1416 548.3v16.6M1413.7 560.6h16.6M1422 552.3v16.6M1419.7 564.6h16.6M1428 556.3v16.6M1425.7 568.6h16.6M1434 560.3v16.6M1431.7 572.6h16.6M1440 564.3v16.6M1437.7 576.6h16.6M1446 568.3v16.6M1443.7 580.6h16.6M1452 572.3v16.6M1449.7 586.6h16.6M1458 578.3v16.6M1455.7 590.6h16.6M1464 582.3v16.6M1461.7 592.6h16.6M1470 584.3v16.6M1467.7 594.6h16.6M1476 586.3v16.6" stroke="#ff00ff" stroke-width="2.6" fill="none"/>
<path d="M106 851 C107.6 850.6 116.5 849 120 848 C123.5 847 132.3 843.6 136 842 C139.7 840.4 148.7 835.6 152 834 C155.3 832.4 161.2 829.6 164 828 C166.8 826.4 173.7 821.9 176 820 C178.3 818.1 182.4 814 184 812 C185.6 810 188.4 804.6 190 803 C191.6 801.4 195.9 798.9 198 798 C200.1 797.1 206.1 795.8 208 795 C209.9 794.2 212.6 793 214 791 C215.4 789 218.6 781.6 220 778 C221.4 774.4 224.6 764.7 226 760 C227.4 755.3 230.6 741.7 232 738 C233.4 734.3 236.6 729.6 238 728 C239.4 726.4 242.6 724.4 244 724.4 C245.4 724.4 248.4 726.5 250 728 C251.6 729.5 256.1 735.2 258 737 C259.9 738.8 264.1 742 266 743 C267.9 744 272.4 745.2 274 745.6 C275.6 746 278.6 745.9 280 746.6 C281.4 747.3 284.4 750 286 752 C287.6 754 292.1 761 294 764 C295.9 767 300.5 775 302 778 C303.5 781 306.1 786.3 307 790 C307.9 793.7 309.4 805.3 310 810 C310.6 814.7 311.6 825.8 312 830 C312.4 834.2 313.4 843.1 313.6 846 C313.8 848.9 312.3 854 314 855 C315.7 856 326.4 855 328 855" stroke="#000" stroke-width="5" fill="none" stroke-linejoin="round"/>
<path d="M484 855 C485.8 855 497 857.9 499 855 C501 852.1 500.5 835.2 501 830 C501.5 824.8 502.5 813.6 503 810 C503.5 806.4 504.3 800.4 505 799 C505.7 797.6 507.5 798.2 509 798 C510.5 797.8 515.8 797.7 518 797 C520.2 796.3 525.9 793.2 528 792 C530.1 790.8 533.9 788.2 536 787 C538.1 785.8 543.9 783.5 546 782 C548.1 780.5 552.1 776.6 554 774 C555.9 771.4 560.4 763.3 562 760 C563.6 756.7 566.6 749.7 568 746 C569.4 742.3 572.6 731.5 574 728 C575.4 724.5 578.5 718.1 580 716 C581.5 713.9 585.6 710.2 587 710 C588.4 709.8 590.7 711.7 592 714 C593.3 716.3 596.6 726 598 730 C599.4 734 602.6 744.7 604 748 C605.4 751.3 608.7 755.7 610 758 C611.3 760.3 613.6 766.4 615 768 C616.4 769.6 620.5 770.8 622 772 C623.5 773.2 626.4 775.9 628 778 C629.6 780.1 634.1 786.7 636 790 C637.9 793.3 642.4 802.7 644 806 C645.6 809.3 648.4 815.4 650 818 C651.6 820.6 655.9 825.9 658 828 C660.1 830.1 665.4 834.2 668 836 C670.6 837.8 677.2 841.6 680 843 C682.8 844.4 689 847 692 848 C695 849 704.4 851.5 706 852" stroke="#000" stroke-width="5" fill="none" stroke-linejoin="round"/>
<path d="M918 833 C918.9 832.3 923.9 828.8 926 827 C928.1 825.2 933.7 819.9 936 818 C938.3 816.1 944.1 812.2 946 811 C947.9 809.8 950.1 808.4 952 808 C953.9 807.6 960.1 808.4 962 808 C963.9 807.6 966.4 806 968 805 C969.6 804 973.9 799.9 976 799 C978.1 798.1 983.7 797.8 986 797 C988.3 796.2 993.9 793.5 996 792 C998.1 790.5 1002.1 786.6 1004 784 C1005.9 781.4 1010.4 774 1012 770 C1013.6 766 1016.6 755.4 1018 750 C1019.4 744.6 1022.6 730.1 1024 724 C1025.4 717.9 1028.6 703.1 1030 698 C1031.4 692.9 1034.7 682.8 1036 680 C1037.3 677.2 1039.8 674.1 1041 673.6 C1042.2 673.1 1044.7 674.3 1046 676 C1047.3 677.7 1050.6 685 1052 688 C1053.4 691 1056.6 699.1 1058 702 C1059.4 704.9 1062.6 711.2 1064 713 C1065.4 714.8 1068.6 716.6 1070 717 C1071.4 717.4 1074.6 716.2 1076 716 C1077.4 715.8 1080.6 715.2 1082 715.6 C1083.4 716 1086.6 717.9 1088 719 C1089.4 720.1 1092.4 723.7 1094 725 C1095.6 726.3 1100.1 728.7 1102 730 C1103.9 731.3 1108.6 734.4 1110 736 C1111.4 737.6 1113.3 741 1114 744 C1114.7 747 1115.4 757.8 1116 762 C1116.6 766.2 1118.5 775.6 1119 780 C1119.5 784.4 1119.8 795.1 1120 800 C1120.2 804.9 1120.8 817.3 1121 822 C1121.2 826.7 1121.9 836.6 1122 840 C1122.1 843.4 1119.9 849.7 1122 851 C1124.1 852.3 1137.9 851 1140 851" stroke="#000" stroke-width="5" fill="none" stroke-linejoin="round"/>
<path d="M1295 851.6 C1297.1 851.6 1310.7 855.3 1313 851.6 C1315.3 847.9 1314.5 827.2 1315 820 C1315.5 812.8 1316.7 795.1 1317 790 C1317.3 784.9 1317.5 777.9 1318 776 C1318.5 774.1 1320.2 773.3 1321 774 C1321.8 774.7 1324 780.1 1325 782 C1326 783.9 1328.2 788.6 1330 790 C1331.8 791.4 1337.7 793.5 1340 794 C1342.3 794.5 1347.7 794.5 1350 794 C1352.3 793.5 1357.7 791.4 1360 790 C1362.3 788.6 1367.7 784.6 1370 782 C1372.3 779.4 1377.7 771.3 1380 768 C1382.3 764.7 1387.7 757 1390 754 C1392.3 751 1397.9 744.1 1400 742 C1402.1 739.9 1406.4 736.5 1408 736 C1409.6 735.5 1412.6 738.1 1414 738 C1415.4 737.9 1418.6 735.6 1420 735 C1421.4 734.4 1423.7 733 1426 733 C1428.3 733 1437.2 733.2 1440 735 C1442.8 736.8 1447.2 744.4 1450 748 C1452.8 751.6 1461 761.6 1464 766 C1467 770.4 1473.2 781.3 1476 786 C1478.8 790.7 1485.7 802 1488 806 C1490.3 810 1494.1 817.2 1496 820 C1497.9 822.8 1501.7 828.1 1504 830 C1506.3 831.9 1514.6 835.3 1516 836" stroke="#000" stroke-width="5" fill="none" stroke-linejoin="round"/>
<path d="M132.3 1238.7 L132.3 1417.5" stroke="#000" stroke-width="4.6" fill="none" stroke-linejoin="round"/>
<path d="M137.5 1470.8 L138.4 1404.5 L139.3 1348.6 L141.9 1352.1 L145.4 1397.5 L150.6 1387 L155.8 1352.1 L161.1 1317.2 L166.3 1291.1 L171.5 1310.3 L176.8 1343.4 L182 1350.4 L187.2 1353.9 L192.5 1348.6 L196 1352.1 L201.2 1369.6 L206.4 1383.5 L211.7 1380 L218.6 1366.1 L225.6 1348.6 L232.6 1336.4 L237.8 1341.7 L241.3 1362.6 L244.8 1380 L248.3 1383.5 L253.5 1378.3 L262.2 1369.6 L267.5 1387 L272.7 1413.2 L276.2 1439.4 L279.7 1456.8 L288.4 1456.8 L291.9 1439.4 L297.1 1404.5 L300.6 1366.1" stroke="#000" stroke-width="4.6" fill="none" stroke-linejoin="round"/>
<path d="M509.2 1376.5 L512.7 1352.1 L517.9 1317.2 L523.1 1287.6 L526.6 1282.3 L531.9 1284.1 L535.4 1299.8 L540.6 1326 L545.8 1352.1 L551.1 1367.8 L556.3 1366.1 L563.3 1359.1 L568.5 1362.6 L572 1374.8 L575.5 1395.7 L579 1402.7 L582.5 1397.5 L587.7 1381.8 L594.7 1369.6 L601.7 1360.8 L605.1 1362.6 L610.4 1373.1 L615.6 1383.5 L619.1 1392.2 L622.6 1390.5 L627.8 1388.8 L634.8 1394 L640 1404.5 L643.5 1421.9 L647 1449.8 L648.8 1439.4 L652.2 1413.2 L657.5 1387 L662.7 1366.1 L666.2 1350.4 L667.9 1343.4 L669.7 1352.1 L671.4 1369.6 L673.2 1392.2" stroke="#000" stroke-width="4.6" fill="none" stroke-linejoin="round"/>
<path d="M674.9 1270.1 L674.9 1394" stroke="#000" stroke-width="4.6" fill="none" stroke-linejoin="round"/>
<path d="M679.3 1341.7 L680.2 1505.6" stroke="#000" stroke-width="4.6" fill="none" stroke-linejoin="round"/>
<path d="M945.8 1413.2 L950.1 1278.8" stroke="#000" stroke-width="4.6" fill="none" stroke-linejoin="round"/>
<path d="M950.1 1278.8 L951.9 1380 L955.4 1383.5 L957.1 1366.1 L962.3 1362.6 L967.6 1366.1 L972.8 1352.1 L976.3 1327.7 L979.8 1313.7 L983.3 1315.5 L986.8 1327.7 L990.3 1343.4 L995.5 1327.7 L1000.7 1334.7 L1004.2 1348.6 L1007.7 1359.1 L1011.2 1364.3 L1014.7 1355.6 L1019.9 1341.7 L1025.1 1331.2 L1030.4 1332.9 L1035.6 1341.7 L1040.8 1343.4 L1046.1 1339.9 L1049.6 1343.4 L1054.8 1355.6 L1058.3 1369.6 L1061.8 1383.5 L1065.3 1378.3 L1068.8 1371.3 L1074 1373.1 L1077.5 1387 L1082.7 1404.5 L1087.9 1421.9 L1093.2 1437.6 L1098.4 1439.4 L1105.4 1435.9 L1110.6 1430.6 L1115.9 1425.4" stroke="#000" stroke-width="4.6" fill="none" stroke-linejoin="round"/>
<path d="M1319.2 1315.5 L1326.2 1312 L1331.4 1299.8 L1340.1 1301.5 L1345.4 1313.7 L1350.6 1334.7 L1355.8 1352.1 L1361.1 1367.8 L1366.3 1367.8 L1369.8 1362.6 L1373.3 1359.1 L1376.8 1367.8 L1380.3 1380 L1385.5 1394 L1389 1402.7 L1394.2 1397.5 L1399.4 1402.7 L1404.7 1411.4 L1408.2 1409.7 L1413.4 1397.5 L1418.6 1385.3 L1422.1 1376.5 L1425.6 1381.8 L1430.8 1394 L1436.1 1407.9 L1439.6 1406.2 L1444.8 1402.7 L1450 1418.4 L1453.5 1428.9 L1457 1420.2 L1460.5 1404.5 L1464 1387 L1467.5 1376.5 L1472.7 1369.6 L1476.2 1362.6 L1479.7 1355.6 L1484.9 1366.1 L1486.7 1404.5 L1487.5 1462" stroke="#000" stroke-width="4.6" fill="none" stroke-linejoin="round"/>
<path d="M1487.5 1329.4 L1487.5 1462" stroke="#000" stroke-width="4.6" fill="none" stroke-linejoin="round"/>
<path d="M131 329.5v-4.8M131 61v4.8M156 329.5v-8.5M156 61v8.5M181 329.5v-4.8M181 61v4.8M206 329.5v-4.8M206 61v4.8M231 329.5v-4.8M231 61v4.8M256 329.5v-4.8M256 61v4.8M281 329.5v-8.5M281 61v8.5M306 329.5v-4.8M306 61v4.8M331 329.5v-4.8M331 61v4.8M356 329.5v-4.8M356 61v4.8M381 329.5v-4.8M381 61v4.8M406 329.5v-8.5M406 61v8.5M431 329.5v-4.8M431 61v4.8M456 329.5v-4.8M456 61v4.8M481 329.5v-4.8M481 61v4.8M506 329.5v-4.8M506 61v4.8M531 329.5v-8.5M531 61v8.5M556 329.5v-4.8M556 61v4.8M581 329.5v-4.8M581 61v4.8M606 329.5v-4.8M606 61v4.8M631 329.5v-4.8M631 61v4.8M656 329.5v-8.5M656 61v8.5M681 329.5v-4.8M681 61v4.8M106 317.3h4.8M706 317.3h-4.8M106 305.1h4.8M706 305.1h-4.8M106 292.9h4.8M706 292.9h-4.8M106 280.7h4.8M706 280.7h-4.8M106 268.5h8.5M706 268.5h-8.5M106 256.3h4.8M706 256.3h-4.8M106 244.1h4.8M706 244.1h-4.8M106 231.9h4.8M706 231.9h-4.8M106 219.7h4.8M706 219.7h-4.8M106 207.5h8.5M706 207.5h-8.5M106 195.2h4.8M706 195.2h-4.8M106 183h4.8M706 183h-4.8M106 170.8h4.8M706 170.8h-4.8M106 158.6h4.8M706 158.6h-4.8M106 146.4h8.5M706 146.4h-8.5M106 134.2h4.8M706 134.2h-4.8M106 122h4.8M706 122h-4.8M106 109.8h4.8M706 109.8h-4.8M106 97.6h4.8M706 97.6h-4.8M106 85.4h8.5M706 85.4h-8.5M106 73.2h4.8M706 73.2h-4.8" stroke="#111" stroke-width="2.8" fill="none"/>
<rect x="106" y="61" width="600" height="268.5" fill="none" stroke="#1c1c1c" stroke-width="3.8"/>
<text x="96.5" y="339" font-size="23" font-weight="bold" text-anchor="end" fill="#1a1a1a">0</text>
<text x="96.5" y="278" font-size="23" font-weight="bold" text-anchor="end" fill="#1a1a1a">0.5</text>
<text x="96.5" y="217" font-size="23" font-weight="bold" text-anchor="end" fill="#1a1a1a">1</text>
<text x="96.5" y="155.9" font-size="23" font-weight="bold" text-anchor="end" fill="#1a1a1a">1.5</text>
<text x="96.5" y="94.9" font-size="23" font-weight="bold" text-anchor="end" fill="#1a1a1a">2</text>
<path d="M131 604.5v-4.8M131 338v4.8M156 604.5v-8.5M156 338v8.5M181 604.5v-4.8M181 338v4.8M206 604.5v-4.8M206 338v4.8M231 604.5v-4.8M231 338v4.8M256 604.5v-4.8M256 338v4.8M281 604.5v-8.5M281 338v8.5M306 604.5v-4.8M306 338v4.8M331 604.5v-4.8M331 338v4.8M356 604.5v-4.8M356 338v4.8M381 604.5v-4.8M381 338v4.8M406 604.5v-8.5M406 338v8.5M431 604.5v-4.8M431 338v4.8M456 604.5v-4.8M456 338v4.8M481 604.5v-4.8M481 338v4.8M506 604.5v-4.8M506 338v4.8M531 604.5v-8.5M531 338v8.5M556 604.5v-4.8M556 338v4.8M581 604.5v-4.8M581 338v4.8M606 604.5v-4.8M606 338v4.8M631 604.5v-4.8M631 338v4.8M656 604.5v-8.5M656 338v8.5M681 604.5v-4.8M681 338v4.8M106 590.8h4.8M706 590.8h-4.8M106 577.1h4.8M706 577.1h-4.8M106 563.3h4.8M706 563.3h-4.8M106 549.6h4.8M706 549.6h-4.8M106 535.9h8.5M706 535.9h-8.5M106 522.2h4.8M706 522.2h-4.8M106 508.5h4.8M706 508.5h-4.8M106 494.7h4.8M706 494.7h-4.8M106 481h4.8M706 481h-4.8M106 467.3h8.5M706 467.3h-8.5M106 453.6h4.8M706 453.6h-4.8M106 439.9h4.8M706 439.9h-4.8M106 426.1h4.8M706 426.1h-4.8M106 412.4h4.8M706 412.4h-4.8M106 398.7h8.5M706 398.7h-8.5M106 385h4.8M706 385h-4.8M106 371.3h4.8M706 371.3h-4.8M106 357.6h4.8M706 357.6h-4.8M106 343.8h4.8M706 343.8h-4.8" stroke="#111" stroke-width="2.8" fill="none"/>
<rect x="106" y="338" width="600" height="266.5" fill="none" stroke="#1c1c1c" stroke-width="3.8"/>
<text x="96.5" y="614" font-size="23" font-weight="bold" text-anchor="end" fill="#1a1a1a">0</text>
<text x="96.5" y="545.4" font-size="23" font-weight="bold" text-anchor="end" fill="#1a1a1a">1</text>
<text x="96.5" y="476.8" font-size="23" font-weight="bold" text-anchor="end" fill="#1a1a1a">2</text>
<text x="96.5" y="408.2" font-size="23" font-weight="bold" text-anchor="end" fill="#1a1a1a">3</text>
<path d="M131 881v-4.8M131 613v4.8M156 881v-8.5M156 613v8.5M181 881v-4.8M181 613v4.8M206 881v-4.8M206 613v4.8M231 881v-4.8M231 613v4.8M256 881v-4.8M256 613v4.8M281 881v-8.5M281 613v8.5M306 881v-4.8M306 613v4.8M331 881v-4.8M331 613v4.8M356 881v-4.8M356 613v4.8M381 881v-4.8M381 613v4.8M406 881v-8.5M406 613v8.5M431 881v-4.8M431 613v4.8M456 881v-4.8M456 613v4.8M481 881v-4.8M481 613v4.8M506 881v-4.8M506 613v4.8M531 881v-8.5M531 613v8.5M556 881v-4.8M556 613v4.8M581 881v-4.8M581 613v4.8M606 881v-4.8M606 613v4.8M631 881v-4.8M631 613v4.8M656 881v-8.5M656 613v8.5M681 881v-4.8M681 613v4.8M106 865.7h4.8M706 865.7h-4.8M106 850.3h4.8M706 850.3h-4.8M106 835h4.8M706 835h-4.8M106 819.7h4.8M706 819.7h-4.8M106 804.3h8.5M706 804.3h-8.5M106 789h4.8M706 789h-4.8M106 773.7h4.8M706 773.7h-4.8M106 758.3h4.8M706 758.3h-4.8M106 743h4.8M706 743h-4.8M106 727.7h8.5M706 727.7h-8.5M106 712.4h4.8M706 712.4h-4.8M106 697h4.8M706 697h-4.8M106 681.7h4.8M706 681.7h-4.8M106 666.4h4.8M706 666.4h-4.8M106 651h8.5M706 651h-8.5M106 635.7h4.8M706 635.7h-4.8M106 620.4h4.8M706 620.4h-4.8" stroke="#111" stroke-width="2.8" fill="none"/>
<rect x="106" y="613" width="600" height="268" fill="none" stroke="#1c1c1c" stroke-width="3.8"/>
<text x="96.5" y="890.5" font-size="23" font-weight="bold" text-anchor="end" fill="#1a1a1a">0</text>
<text x="96.5" y="813.8" font-size="23" font-weight="bold" text-anchor="end" fill="#1a1a1a">1</text>
<text x="96.5" y="737.2" font-size="23" font-weight="bold" text-anchor="end" fill="#1a1a1a">2</text>
<text x="96.5" y="660.5" font-size="23" font-weight="bold" text-anchor="end" fill="#1a1a1a">3</text>
<path d="M131 1229v-4.8M131 963v4.8M156 1229v-8.5M156 963v8.5M181 1229v-4.8M181 963v4.8M206 1229v-4.8M206 963v4.8M231 1229v-4.8M231 963v4.8M256 1229v-4.8M256 963v4.8M281 1229v-8.5M281 963v8.5M306 1229v-4.8M306 963v4.8M331 1229v-4.8M331 963v4.8M356 1229v-4.8M356 963v4.8M381 1229v-4.8M381 963v4.8M406 1229v-8.5M406 963v8.5M431 1229v-4.8M431 963v4.8M456 1229v-4.8M456 963v4.8M481 1229v-4.8M481 963v4.8M506 1229v-4.8M506 963v4.8M531 1229v-8.5M531 963v8.5M556 1229v-4.8M556 963v4.8M581 1229v-4.8M581 963v4.8M606 1229v-4.8M606 963v4.8M631 1229v-4.8M631 963v4.8M656 1229v-8.5M656 963v8.5M681 1229v-4.8M681 963v4.8M106 1211.5h4.8M706 1211.5h-4.8M106 1195h4.8M706 1195h-4.8M106 1178.5h8.5M706 1178.5h-8.5M106 1162h4.8M706 1162h-4.8M106 1145.5h4.8M706 1145.5h-4.8M106 1129h4.8M706 1129h-4.8M106 1112.5h4.8M706 1112.5h-4.8M106 1096h8.5M706 1096h-8.5M106 1079.5h4.8M706 1079.5h-4.8M106 1063h4.8M706 1063h-4.8M106 1046.5h4.8M706 1046.5h-4.8M106 1030h4.8M706 1030h-4.8M106 1013.5h8.5M706 1013.5h-8.5M106 997h4.8M706 997h-4.8M106 980.5h4.8M706 980.5h-4.8" stroke="#111" stroke-width="2.8" fill="none"/>
<rect x="106" y="963" width="600" height="266" fill="none" stroke="#1c1c1c" stroke-width="3.8"/>
<text x="96.5" y="1188" font-size="23" font-weight="bold" text-anchor="end" fill="#1a1a1a">-0.5</text>
<text x="96.5" y="1105.5" font-size="23" font-weight="bold" text-anchor="end" fill="#1a1a1a">0</text>
<text x="96.5" y="1023" font-size="23" font-weight="bold" text-anchor="end" fill="#1a1a1a">0.5</text>
<path d="M131 1503.7v-4.8M131 1237v4.8M156 1503.7v-8.5M156 1237v8.5M181 1503.7v-4.8M181 1237v4.8M206 1503.7v-4.8M206 1237v4.8M231 1503.7v-4.8M231 1237v4.8M256 1503.7v-4.8M256 1237v4.8M281 1503.7v-8.5M281 1237v8.5M306 1503.7v-4.8M306 1237v4.8M331 1503.7v-4.8M331 1237v4.8M356 1503.7v-4.8M356 1237v4.8M381 1503.7v-4.8M381 1237v4.8M406 1503.7v-8.5M406 1237v8.5M431 1503.7v-4.8M431 1237v4.8M456 1503.7v-4.8M456 1237v4.8M481 1503.7v-4.8M481 1237v4.8M506 1503.7v-4.8M506 1237v4.8M531 1503.7v-8.5M531 1237v8.5M556 1503.7v-4.8M556 1237v4.8M581 1503.7v-4.8M581 1237v4.8M606 1503.7v-4.8M606 1237v4.8M631 1503.7v-4.8M631 1237v4.8M656 1503.7v-8.5M656 1237v8.5M681 1503.7v-4.8M681 1237v4.8M106 1487.8h4.8M706 1487.8h-4.8M106 1471.2h4.8M706 1471.2h-4.8M106 1454.5h8.5M706 1454.5h-8.5M106 1437.9h4.8M706 1437.9h-4.8M106 1421.3h4.8M706 1421.3h-4.8M106 1404.7h4.8M706 1404.7h-4.8M106 1388.1h4.8M706 1388.1h-4.8M106 1371.5h8.5M706 1371.5h-8.5M106 1354.9h4.8M706 1354.9h-4.8M106 1338.3h4.8M706 1338.3h-4.8M106 1321.7h4.8M706 1321.7h-4.8M106 1305.1h4.8M706 1305.1h-4.8M106 1288.5h8.5M706 1288.5h-8.5M106 1271.9h4.8M706 1271.9h-4.8M106 1255.3h4.8M706 1255.3h-4.8M106 1238.7h4.8M706 1238.7h-4.8" stroke="#111" stroke-width="2.8" fill="none"/>
<rect x="106" y="1237" width="600" height="266.7" fill="none" stroke="#1c1c1c" stroke-width="3.8"/>
<text x="96.5" y="1464" font-size="23" font-weight="bold" text-anchor="end" fill="#1a1a1a">-5</text>
<text x="96.5" y="1381" font-size="23" font-weight="bold" text-anchor="end" fill="#1a1a1a">0</text>
<text x="96.5" y="1298" font-size="23" font-weight="bold" text-anchor="end" fill="#1a1a1a">5</text>
<text x="154.5" y="912.8" font-size="23" font-weight="bold" text-anchor="middle" fill="#1a1a1a">-1</text>
<text x="279.5" y="912.8" font-size="23" font-weight="bold" text-anchor="middle" fill="#1a1a1a">-0.5</text>
<text x="406" y="912.8" font-size="23" font-weight="bold" text-anchor="middle" fill="#1a1a1a">0</text>
<text x="531" y="912.8" font-size="23" font-weight="bold" text-anchor="middle" fill="#1a1a1a">0.5</text>
<text x="656" y="912.8" font-size="23" font-weight="bold" text-anchor="middle" fill="#1a1a1a">1</text>
<text x="154.5" y="1538" font-size="23" font-weight="bold" text-anchor="middle" fill="#1a1a1a">-1</text>
<text x="279.5" y="1538" font-size="23" font-weight="bold" text-anchor="middle" fill="#1a1a1a">-0.5</text>
<text x="406" y="1538" font-size="23" font-weight="bold" text-anchor="middle" fill="#1a1a1a">0</text>
<text x="531" y="1538" font-size="23" font-weight="bold" text-anchor="middle" fill="#1a1a1a">0.5</text>
<text x="656" y="1538" font-size="23" font-weight="bold" text-anchor="middle" fill="#1a1a1a">1</text>
<text x="406" y="1589" font-size="40" font-weight="bold" font-style="italic" text-anchor="middle" font-family="'Liberation Serif', 'Times New Roman', serif">&#961;</text>
<path d="M942.2 329.5v-4.8M942.2 61v4.8M967.2 329.5v-8.5M967.2 61v8.5M992.2 329.5v-4.8M992.2 61v4.8M1017.2 329.5v-4.8M1017.2 61v4.8M1042.2 329.5v-4.8M1042.2 61v4.8M1067.2 329.5v-4.8M1067.2 61v4.8M1092.2 329.5v-8.5M1092.2 61v8.5M1117.2 329.5v-4.8M1117.2 61v4.8M1142.2 329.5v-4.8M1142.2 61v4.8M1167.2 329.5v-4.8M1167.2 61v4.8M1192.2 329.5v-4.8M1192.2 61v4.8M1217.2 329.5v-8.5M1217.2 61v8.5M1242.2 329.5v-4.8M1242.2 61v4.8M1267.2 329.5v-4.8M1267.2 61v4.8M1292.2 329.5v-4.8M1292.2 61v4.8M1317.2 329.5v-4.8M1317.2 61v4.8M1342.2 329.5v-8.5M1342.2 61v8.5M1367.2 329.5v-4.8M1367.2 61v4.8M1392.2 329.5v-4.8M1392.2 61v4.8M1417.2 329.5v-4.8M1417.2 61v4.8M1442.2 329.5v-4.8M1442.2 61v4.8M1467.2 329.5v-8.5M1467.2 61v8.5M1492.2 329.5v-4.8M1492.2 61v4.8M917.2 317.3h4.8M1517.2 317.3h-4.8M917.2 305.1h4.8M1517.2 305.1h-4.8M917.2 292.9h4.8M1517.2 292.9h-4.8M917.2 280.7h4.8M1517.2 280.7h-4.8M917.2 268.5h8.5M1517.2 268.5h-8.5M917.2 256.3h4.8M1517.2 256.3h-4.8M917.2 244.1h4.8M1517.2 244.1h-4.8M917.2 231.9h4.8M1517.2 231.9h-4.8M917.2 219.7h4.8M1517.2 219.7h-4.8M917.2 207.5h8.5M1517.2 207.5h-8.5M917.2 195.2h4.8M1517.2 195.2h-4.8M917.2 183h4.8M1517.2 183h-4.8M917.2 170.8h4.8M1517.2 170.8h-4.8M917.2 158.6h4.8M1517.2 158.6h-4.8M917.2 146.4h8.5M1517.2 146.4h-8.5M917.2 134.2h4.8M1517.2 134.2h-4.8M917.2 122h4.8M1517.2 122h-4.8M917.2 109.8h4.8M1517.2 109.8h-4.8M917.2 97.6h4.8M1517.2 97.6h-4.8M917.2 85.4h8.5M1517.2 85.4h-8.5M917.2 73.2h4.8M1517.2 73.2h-4.8" stroke="#111" stroke-width="2.8" fill="none"/>
<rect x="917.2" y="61" width="600" height="268.5" fill="none" stroke="#1c1c1c" stroke-width="3.8"/>
<text x="907.7" y="339" font-size="23" font-weight="bold" text-anchor="end" fill="#1a1a1a">0</text>
<text x="907.7" y="278" font-size="23" font-weight="bold" text-anchor="end" fill="#1a1a1a">0.5</text>
<text x="907.7" y="217" font-size="23" font-weight="bold" text-anchor="end" fill="#1a1a1a">1</text>
<text x="907.7" y="155.9" font-size="23" font-weight="bold" text-anchor="end" fill="#1a1a1a">1.5</text>
<text x="907.7" y="94.9" font-size="23" font-weight="bold" text-anchor="end" fill="#1a1a1a">2</text>
<path d="M942.2 604.5v-4.8M942.2 338v4.8M967.2 604.5v-8.5M967.2 338v8.5M992.2 604.5v-4.8M992.2 338v4.8M1017.2 604.5v-4.8M1017.2 338v4.8M1042.2 604.5v-4.8M1042.2 338v4.8M1067.2 604.5v-4.8M1067.2 338v4.8M1092.2 604.5v-8.5M1092.2 338v8.5M1117.2 604.5v-4.8M1117.2 338v4.8M1142.2 604.5v-4.8M1142.2 338v4.8M1167.2 604.5v-4.8M1167.2 338v4.8M1192.2 604.5v-4.8M1192.2 338v4.8M1217.2 604.5v-8.5M1217.2 338v8.5M1242.2 604.5v-4.8M1242.2 338v4.8M1267.2 604.5v-4.8M1267.2 338v4.8M1292.2 604.5v-4.8M1292.2 338v4.8M1317.2 604.5v-4.8M1317.2 338v4.8M1342.2 604.5v-8.5M1342.2 338v8.5M1367.2 604.5v-4.8M1367.2 338v4.8M1392.2 604.5v-4.8M1392.2 338v4.8M1417.2 604.5v-4.8M1417.2 338v4.8M1442.2 604.5v-4.8M1442.2 338v4.8M1467.2 604.5v-8.5M1467.2 338v8.5M1492.2 604.5v-4.8M1492.2 338v4.8M917.2 590.8h4.8M1517.2 590.8h-4.8M917.2 577.1h4.8M1517.2 577.1h-4.8M917.2 563.3h4.8M1517.2 563.3h-4.8M917.2 549.6h4.8M1517.2 549.6h-4.8M917.2 535.9h8.5M1517.2 535.9h-8.5M917.2 522.2h4.8M1517.2 522.2h-4.8M917.2 508.5h4.8M1517.2 508.5h-4.8M917.2 494.7h4.8M1517.2 494.7h-4.8M917.2 481h4.8M1517.2 481h-4.8M917.2 467.3h8.5M1517.2 467.3h-8.5M917.2 453.6h4.8M1517.2 453.6h-4.8M917.2 439.9h4.8M1517.2 439.9h-4.8M917.2 426.1h4.8M1517.2 426.1h-4.8M917.2 412.4h4.8M1517.2 412.4h-4.8M917.2 398.7h8.5M1517.2 398.7h-8.5M917.2 385h4.8M1517.2 385h-4.8M917.2 371.3h4.8M1517.2 371.3h-4.8M917.2 357.6h4.8M1517.2 357.6h-4.8M917.2 343.8h4.8M1517.2 343.8h-4.8" stroke="#111" stroke-width="2.8" fill="none"/>
<rect x="917.2" y="338" width="600" height="266.5" fill="none" stroke="#1c1c1c" stroke-width="3.8"/>
<text x="907.7" y="614" font-size="23" font-weight="bold" text-anchor="end" fill="#1a1a1a">0</text>
<text x="907.7" y="545.4" font-size="23" font-weight="bold" text-anchor="end" fill="#1a1a1a">1</text>
<text x="907.7" y="476.8" font-size="23" font-weight="bold" text-anchor="end" fill="#1a1a1a">2</text>
<text x="907.7" y="408.2" font-size="23" font-weight="bold" text-anchor="end" fill="#1a1a1a">3</text>
<path d="M942.2 881v-4.8M942.2 613v4.8M967.2 881v-8.5M967.2 613v8.5M992.2 881v-4.8M992.2 613v4.8M1017.2 881v-4.8M1017.2 613v4.8M1042.2 881v-4.8M1042.2 613v4.8M1067.2 881v-4.8M1067.2 613v4.8M1092.2 881v-8.5M1092.2 613v8.5M1117.2 881v-4.8M1117.2 613v4.8M1142.2 881v-4.8M1142.2 613v4.8M1167.2 881v-4.8M1167.2 613v4.8M1192.2 881v-4.8M1192.2 613v4.8M1217.2 881v-8.5M1217.2 613v8.5M1242.2 881v-4.8M1242.2 613v4.8M1267.2 881v-4.8M1267.2 613v4.8M1292.2 881v-4.8M1292.2 613v4.8M1317.2 881v-4.8M1317.2 613v4.8M1342.2 881v-8.5M1342.2 613v8.5M1367.2 881v-4.8M1367.2 613v4.8M1392.2 881v-4.8M1392.2 613v4.8M1417.2 881v-4.8M1417.2 613v4.8M1442.2 881v-4.8M1442.2 613v4.8M1467.2 881v-8.5M1467.2 613v8.5M1492.2 881v-4.8M1492.2 613v4.8M917.2 865.7h4.8M1517.2 865.7h-4.8M917.2 850.3h4.8M1517.2 850.3h-4.8M917.2 835h4.8M1517.2 835h-4.8M917.2 819.7h4.8M1517.2 819.7h-4.8M917.2 804.3h8.5M1517.2 804.3h-8.5M917.2 789h4.8M1517.2 789h-4.8M917.2 773.7h4.8M1517.2 773.7h-4.8M917.2 758.3h4.8M1517.2 758.3h-4.8M917.2 743h4.8M1517.2 743h-4.8M917.2 727.7h8.5M1517.2 727.7h-8.5M917.2 712.4h4.8M1517.2 712.4h-4.8M917.2 697h4.8M1517.2 697h-4.8M917.2 681.7h4.8M1517.2 681.7h-4.8M917.2 666.4h4.8M1517.2 666.4h-4.8M917.2 651h8.5M1517.2 651h-8.5M917.2 635.7h4.8M1517.2 635.7h-4.8M917.2 620.4h4.8M1517.2 620.4h-4.8" stroke="#111" stroke-width="2.8" fill="none"/>
<rect x="917.2" y="613" width="600" height="268" fill="none" stroke="#1c1c1c" stroke-width="3.8"/>
<text x="907.7" y="890.5" font-size="23" font-weight="bold" text-anchor="end" fill="#1a1a1a">0</text>
<text x="907.7" y="813.8" font-size="23" font-weight="bold" text-anchor="end" fill="#1a1a1a">1</text>
<text x="907.7" y="737.2" font-size="23" font-weight="bold" text-anchor="end" fill="#1a1a1a">2</text>
<text x="907.7" y="660.5" font-size="23" font-weight="bold" text-anchor="end" fill="#1a1a1a">3</text>
<path d="M942.2 1229v-4.8M942.2 963v4.8M967.2 1229v-8.5M967.2 963v8.5M992.2 1229v-4.8M992.2 963v4.8M1017.2 1229v-4.8M1017.2 963v4.8M1042.2 1229v-4.8M1042.2 963v4.8M1067.2 1229v-4.8M1067.2 963v4.8M1092.2 1229v-8.5M1092.2 963v8.5M1117.2 1229v-4.8M1117.2 963v4.8M1142.2 1229v-4.8M1142.2 963v4.8M1167.2 1229v-4.8M1167.2 963v4.8M1192.2 1229v-4.8M1192.2 963v4.8M1217.2 1229v-8.5M1217.2 963v8.5M1242.2 1229v-4.8M1242.2 963v4.8M1267.2 1229v-4.8M1267.2 963v4.8M1292.2 1229v-4.8M1292.2 963v4.8M1317.2 1229v-4.8M1317.2 963v4.8M1342.2 1229v-8.5M1342.2 963v8.5M1367.2 1229v-4.8M1367.2 963v4.8M1392.2 1229v-4.8M1392.2 963v4.8M1417.2 1229v-4.8M1417.2 963v4.8M1442.2 1229v-4.8M1442.2 963v4.8M1467.2 1229v-8.5M1467.2 963v8.5M1492.2 1229v-4.8M1492.2 963v4.8M917.2 1211.5h4.8M1517.2 1211.5h-4.8M917.2 1195h4.8M1517.2 1195h-4.8M917.2 1178.5h8.5M1517.2 1178.5h-8.5M917.2 1162h4.8M1517.2 1162h-4.8M917.2 1145.5h4.8M1517.2 1145.5h-4.8M917.2 1129h4.8M1517.2 1129h-4.8M917.2 1112.5h4.8M1517.2 1112.5h-4.8M917.2 1096h8.5M1517.2 1096h-8.5M917.2 1079.5h4.8M1517.2 1079.5h-4.8M917.2 1063h4.8M1517.2 1063h-4.8M917.2 1046.5h4.8M1517.2 1046.5h-4.8M917.2 1030h4.8M1517.2 1030h-4.8M917.2 1013.5h8.5M1517.2 1013.5h-8.5M917.2 997h4.8M1517.2 997h-4.8M917.2 980.5h4.8M1517.2 980.5h-4.8" stroke="#111" stroke-width="2.8" fill="none"/>
<rect x="917.2" y="963" width="600" height="266" fill="none" stroke="#1c1c1c" stroke-width="3.8"/>
<text x="907.7" y="1188" font-size="23" font-weight="bold" text-anchor="end" fill="#1a1a1a">-0.5</text>
<text x="907.7" y="1105.5" font-size="23" font-weight="bold" text-anchor="end" fill="#1a1a1a">0</text>
<text x="907.7" y="1023" font-size="23" font-weight="bold" text-anchor="end" fill="#1a1a1a">0.5</text>
<path d="M942.2 1503.7v-4.8M942.2 1237v4.8M967.2 1503.7v-8.5M967.2 1237v8.5M992.2 1503.7v-4.8M992.2 1237v4.8M1017.2 1503.7v-4.8M1017.2 1237v4.8M1042.2 1503.7v-4.8M1042.2 1237v4.8M1067.2 1503.7v-4.8M1067.2 1237v4.8M1092.2 1503.7v-8.5M1092.2 1237v8.5M1117.2 1503.7v-4.8M1117.2 1237v4.8M1142.2 1503.7v-4.8M1142.2 1237v4.8M1167.2 1503.7v-4.8M1167.2 1237v4.8M1192.2 1503.7v-4.8M1192.2 1237v4.8M1217.2 1503.7v-8.5M1217.2 1237v8.5M1242.2 1503.7v-4.8M1242.2 1237v4.8M1267.2 1503.7v-4.8M1267.2 1237v4.8M1292.2 1503.7v-4.8M1292.2 1237v4.8M1317.2 1503.7v-4.8M1317.2 1237v4.8M1342.2 1503.7v-8.5M1342.2 1237v8.5M1367.2 1503.7v-4.8M1367.2 1237v4.8M1392.2 1503.7v-4.8M1392.2 1237v4.8M1417.2 1503.7v-4.8M1417.2 1237v4.8M1442.2 1503.7v-4.8M1442.2 1237v4.8M1467.2 1503.7v-8.5M1467.2 1237v8.5M1492.2 1503.7v-4.8M1492.2 1237v4.8M917.2 1487.8h4.8M1517.2 1487.8h-4.8M917.2 1471.2h4.8M1517.2 1471.2h-4.8M917.2 1454.5h8.5M1517.2 1454.5h-8.5M917.2 1437.9h4.8M1517.2 1437.9h-4.8M917.2 1421.3h4.8M1517.2 1421.3h-4.8M917.2 1404.7h4.8M1517.2 1404.7h-4.8M917.2 1388.1h4.8M1517.2 1388.1h-4.8M917.2 1371.5h8.5M1517.2 1371.5h-8.5M917.2 1354.9h4.8M1517.2 1354.9h-4.8M917.2 1338.3h4.8M1517.2 1338.3h-4.8M917.2 1321.7h4.8M1517.2 1321.7h-4.8M917.2 1305.1h4.8M1517.2 1305.1h-4.8M917.2 1288.5h8.5M1517.2 1288.5h-8.5M917.2 1271.9h4.8M1517.2 1271.9h-4.8M917.2 1255.3h4.8M1517.2 1255.3h-4.8M917.2 1238.7h4.8M1517.2 1238.7h-4.8" stroke="#111" stroke-width="2.8" fill="none"/>
<rect x="917.2" y="1237" width="600" height="266.7" fill="none" stroke="#1c1c1c" stroke-width="3.8"/>
<text x="907.7" y="1464" font-size="23" font-weight="bold" text-anchor="end" fill="#1a1a1a">-5</text>
<text x="907.7" y="1381" font-size="23" font-weight="bold" text-anchor="end" fill="#1a1a1a">0</text>
<text x="907.7" y="1298" font-size="23" font-weight="bold" text-anchor="end" fill="#1a1a1a">5</text>
<text x="965.7" y="912.8" font-size="23" font-weight="bold" text-anchor="middle" fill="#1a1a1a">-1</text>
<text x="1090.7" y="912.8" font-size="23" font-weight="bold" text-anchor="middle" fill="#1a1a1a">-0.5</text>
<text x="1217.2" y="912.8" font-size="23" font-weight="bold" text-anchor="middle" fill="#1a1a1a">0</text>
<text x="1342.2" y="912.8" font-size="23" font-weight="bold" text-anchor="middle" fill="#1a1a1a">0.5</text>
<text x="1467.2" y="912.8" font-size="23" font-weight="bold" text-anchor="middle" fill="#1a1a1a">1</text>
<text x="965.7" y="1538" font-size="23" font-weight="bold" text-anchor="middle" fill="#1a1a1a">-1</text>
<text x="1090.7" y="1538" font-size="23" font-weight="bold" text-anchor="middle" fill="#1a1a1a">-0.5</text>
<text x="1217.2" y="1538" font-size="23" font-weight="bold" text-anchor="middle" fill="#1a1a1a">0</text>
<text x="1342.2" y="1538" font-size="23" font-weight="bold" text-anchor="middle" fill="#1a1a1a">0.5</text>
<text x="1467.2" y="1538" font-size="23" font-weight="bold" text-anchor="middle" fill="#1a1a1a">1</text>
<text x="1217.2" y="1589" font-size="40" font-weight="bold" font-style="italic" text-anchor="middle" font-family="'Liberation Serif', 'Times New Roman', serif">&#961;</text>
<rect x="716.9" y="963" width="28.4" height="266.4" fill="url(#jet)" stroke="#2a2a2a" stroke-width="1.2"/>
<path d="M745.3 1002.7h-4M745.3 1086.8h-4M745.3 1167.3h-4" stroke="#222" stroke-width="1.4"/>
<text x="754.9" y="1012" font-size="23" font-weight="bold" fill="#1a1a1a">1.6</text>
<text x="754.9" y="1096.1" font-size="23" font-weight="bold" fill="#1a1a1a">1.4</text>
<text x="754.9" y="1176.6" font-size="23" font-weight="bold" fill="#1a1a1a">1.2</text>
<rect x="716.9" y="1237.8" width="28.4" height="266.4" fill="url(#jet)" stroke="#2a2a2a" stroke-width="1.2"/>
<path d="M745.3 1238h-4M745.3 1288.6h-4M745.3 1337.5h-4M745.3 1387.2h-4M745.3 1436.9h-4M745.3 1488.5h-4" stroke="#222" stroke-width="1.4"/>
<text x="754.9" y="1247.3" font-size="23" font-weight="bold" fill="#1a1a1a">6</text>
<text x="754.9" y="1297.9" font-size="23" font-weight="bold" fill="#1a1a1a">4</text>
<text x="754.9" y="1346.8" font-size="23" font-weight="bold" fill="#1a1a1a">2</text>
<text x="754.9" y="1396.5" font-size="23" font-weight="bold" fill="#1a1a1a">0</text>
<text x="754.9" y="1446.2" font-size="23" font-weight="bold" fill="#1a1a1a">-2</text>
<text x="754.9" y="1497.8" font-size="23" font-weight="bold" fill="#1a1a1a">-4</text>
<rect x="1526.9" y="963" width="28.4" height="265.6" fill="url(#jet)" stroke="#2a2a2a" stroke-width="1.2"/>
<path d="M1555.3 963h-4M1555.3 1019h-4M1555.3 1073.3h-4M1555.3 1129.3h-4M1555.3 1184.5h-4" stroke="#222" stroke-width="1.4"/>
<text x="1564.9" y="972.3" font-size="23" font-weight="bold" fill="#1a1a1a">1.8</text>
<text x="1564.9" y="1028.3" font-size="23" font-weight="bold" fill="#1a1a1a">1.6</text>
<text x="1564.9" y="1082.6" font-size="23" font-weight="bold" fill="#1a1a1a">1.4</text>
<text x="1564.9" y="1138.6" font-size="23" font-weight="bold" fill="#1a1a1a">1.2</text>
<text x="1564.9" y="1193.8" font-size="23" font-weight="bold" fill="#1a1a1a">1</text>
<rect x="1526.9" y="1237.8" width="28.4" height="265.8" fill="url(#jet)" stroke="#2a2a2a" stroke-width="1.2"/>
<path d="M1555.3 1238h-4M1555.3 1293.1h-4M1555.3 1343.8h-4M1555.3 1397.1h-4M1555.3 1450.5h-4M1555.3 1502.9h-4" stroke="#222" stroke-width="1.4"/>
<text x="1564.9" y="1247.3" font-size="23" font-weight="bold" fill="#1a1a1a">6</text>
<text x="1564.9" y="1302.4" font-size="23" font-weight="bold" fill="#1a1a1a">4</text>
<text x="1564.9" y="1353.1" font-size="23" font-weight="bold" fill="#1a1a1a">2</text>
<text x="1564.9" y="1406.4" font-size="23" font-weight="bold" fill="#1a1a1a">0</text>
<text x="1564.9" y="1459.8" font-size="23" font-weight="bold" fill="#1a1a1a">-2</text>
<text x="1564.9" y="1512.2" font-size="23" font-weight="bold" fill="#1a1a1a">-4</text>
<text transform="translate(37.5 196.4) rotate(-90)" font-size="34" font-weight="bold" text-anchor="middle" fill="#1a1a1a" textLength="194.4" lengthAdjust="spacingAndGlyphs">n<tspan dy="8" font-size="24">e</tspan><tspan dy="-8"> (10</tspan><tspan dy="-13" font-size="24">19</tspan><tspan dy="13">m</tspan><tspan dy="-13" font-size="24">-3</tspan><tspan dy="13">)</tspan></text>
<text transform="translate(57.8 470.3) rotate(-90)" font-size="34" font-weight="bold" text-anchor="middle" fill="#1a1a1a" textLength="171.7" lengthAdjust="spacingAndGlyphs">T<tspan dy="8" font-size="24">e</tspan><tspan dy="-8">,T</tspan><tspan dy="8" font-size="24">i</tspan><tspan dy="-8"> (keV)</tspan></text>
<text transform="translate(72.3 752.5) rotate(-90)" font-size="34" font-weight="bold" text-anchor="middle" fill="#1a1a1a" textLength="178.7" lengthAdjust="spacingAndGlyphs">Amp. (a.u.)</text>
<text transform="translate(43.6 1097.3) rotate(-90)" font-size="34" font-weight="bold" text-anchor="middle" fill="#1a1a1a" textLength="136.8" lengthAdjust="spacingAndGlyphs">k (mm<tspan dy="-13" font-size="24">-1</tspan><tspan dy="13">)</tspan></text>
<text transform="translate(63.6 1372.3) rotate(-90)" font-size="34" font-weight="bold" text-anchor="middle" fill="#1a1a1a" textLength="133.4" lengthAdjust="spacingAndGlyphs">V (km/s)</text>
<text transform="translate(848.7 196.4) rotate(-90)" font-size="34" font-weight="bold" text-anchor="middle" fill="#1a1a1a" textLength="194.4" lengthAdjust="spacingAndGlyphs">n<tspan dy="8" font-size="24">e</tspan><tspan dy="-8"> (10</tspan><tspan dy="-13" font-size="24">19</tspan><tspan dy="13">m</tspan><tspan dy="-13" font-size="24">-3</tspan><tspan dy="13">)</tspan></text>
<text transform="translate(869 470.3) rotate(-90)" font-size="34" font-weight="bold" text-anchor="middle" fill="#1a1a1a" textLength="171.7" lengthAdjust="spacingAndGlyphs">T<tspan dy="8" font-size="24">e</tspan><tspan dy="-8">,T</tspan><tspan dy="8" font-size="24">i</tspan><tspan dy="-8"> (keV)</tspan></text>
<text transform="translate(883.5 752.5) rotate(-90)" font-size="34" font-weight="bold" text-anchor="middle" fill="#1a1a1a" textLength="178.7" lengthAdjust="spacingAndGlyphs">Amp. (a.u.)</text>
<text transform="translate(854.8 1097.3) rotate(-90)" font-size="34" font-weight="bold" text-anchor="middle" fill="#1a1a1a" textLength="136.8" lengthAdjust="spacingAndGlyphs">k (mm<tspan dy="-13" font-size="24">-1</tspan><tspan dy="13">)</tspan></text>
<text transform="translate(874.8 1372.3) rotate(-90)" font-size="34" font-weight="bold" text-anchor="middle" fill="#1a1a1a" textLength="133.4" lengthAdjust="spacingAndGlyphs">V (km/s)</text>
<text x="367.8" y="303.8" font-size="40" fill="#111" textLength="85.5" lengthAdjust="spacingAndGlyphs">(a-1)</text>
<text x="367.8" y="578.8" font-size="40" fill="#111" textLength="85.5" lengthAdjust="spacingAndGlyphs">(a-2)</text>
<text x="367.8" y="816" font-size="40" fill="#111" textLength="85.5" lengthAdjust="spacingAndGlyphs">(a-3)</text>
<text x="367.8" y="1113" font-size="40" fill="#111" textLength="85.5" lengthAdjust="spacingAndGlyphs">(a-4)</text>
<text x="367.8" y="1388" font-size="40" fill="#111" textLength="85.5" lengthAdjust="spacingAndGlyphs">(a-5)</text>
<text x="156.6" y="378.4" font-size="39" fill="#111" >T</text>
<text x="182.3" y="397.2" font-size="30" fill="#111" >e</text>
<text x="156.6" y="447.7" font-size="39" fill="#ff00ff" >T</text>
<text x="182" y="466.5" font-size="30" fill="#ff00ff" >i</text>
<text x="381.5" y="707" font-size="43" font-style="italic" font-family="'DejaVu Serif', serif" fill="#111" textLength="28.5" lengthAdjust="spacingAndGlyphs">n</text>
<text x="388" y="686.5" font-size="40" font-family="'Liberation Serif', 'Times New Roman', serif" fill="#111">~</text>
<text x="415.5" y="715" font-size="34" font-style="italic" font-family="'Liberation Serif', 'Times New Roman', serif" fill="#111">e</text>
<text x="1179" y="303.8" font-size="40" fill="#111" textLength="85.5" lengthAdjust="spacingAndGlyphs">(b-1)</text>
<text x="1179" y="578.8" font-size="40" fill="#111" textLength="85.5" lengthAdjust="spacingAndGlyphs">(b-2)</text>
<text x="1179" y="816" font-size="40" fill="#111" textLength="85.5" lengthAdjust="spacingAndGlyphs">(b-3)</text>
<text x="1179" y="1113" font-size="40" fill="#111" textLength="85.5" lengthAdjust="spacingAndGlyphs">(b-4)</text>
<text x="1179" y="1388" font-size="40" fill="#111" textLength="85.5" lengthAdjust="spacingAndGlyphs">(b-5)</text>
<text x="967.8" y="378.4" font-size="39" fill="#111" >T</text>
<text x="993.5" y="397.2" font-size="30" fill="#111" >e</text>
<text x="967.8" y="447.7" font-size="39" fill="#ff00ff" >T</text>
<text x="993.2" y="466.5" font-size="30" fill="#ff00ff" >i</text>
<text x="1192.7" y="707" font-size="43" font-style="italic" font-family="'DejaVu Serif', serif" fill="#111" textLength="28.5" lengthAdjust="spacingAndGlyphs">n</text>
<text x="1199.2" y="686.5" font-size="40" font-family="'Liberation Serif', 'Times New Roman', serif" fill="#111">~</text>
<text x="1226.7" y="715" font-size="34" font-style="italic" font-family="'Liberation Serif', 'Times New Roman', serif" fill="#111">e</text>
<text x="306" y="255.5" font-size="40.5" fill="#1414ff" textLength="208" lengthAdjust="spacingAndGlyphs">H&#160;&#160;#176298</text>
<text x="1117.2" y="255.5" font-size="40.5" fill="#ff1414" textLength="209.5" lengthAdjust="spacingAndGlyphs">D&#160;&#160;#171606</text>
<text x="194" y="1277.5" font-size="39" font-weight="bold" fill="#111" textLength="90" lengthAdjust="spacingAndGlyphs">e-dia</text>
<text x="195" y="1488" font-size="39" font-weight="bold" fill="#111" textLength="78.7" lengthAdjust="spacingAndGlyphs">i-dia</text>
<text x="558.8" y="1277.7" font-size="39" font-weight="bold" fill="#111" textLength="77.7" lengthAdjust="spacingAndGlyphs">i-dia</text>
<text x="557" y="1488" font-size="39" font-weight="bold" fill="#111" textLength="90" lengthAdjust="spacingAndGlyphs">e-dia</text>
<text x="1005" y="1277.5" font-size="39" font-weight="bold" fill="#111" textLength="90.8" lengthAdjust="spacingAndGlyphs">e-dia</text>
<text x="1005.8" y="1488" font-size="39" font-weight="bold" fill="#111" textLength="78.7" lengthAdjust="spacingAndGlyphs">i-dia</text>
<text x="1368" y="1277.5" font-size="39" font-weight="bold" fill="#111" textLength="78.5" lengthAdjust="spacingAndGlyphs">i-dia</text>
<text x="1367" y="1488" font-size="39" font-weight="bold" fill="#111" textLength="90" lengthAdjust="spacingAndGlyphs">e-dia</text>
<text x="82.2" y="36.5" font-size="41" font-family="'Liberation Serif', 'Times New Roman', serif" fill="#111" textLength="219.4" lengthAdjust="spacingAndGlyphs">Low density:</text>
<text x="325" y="36" font-size="37" font-family="'Liberation Serif', 'Times New Roman', serif" fill="#111" font-style="italic" textLength="18" lengthAdjust="spacingAndGlyphs">n</text>
<text x="342.8" y="41.3" font-size="29" font-family="'Liberation Serif', 'Times New Roman', serif" fill="#111" font-style="italic" textLength="16" lengthAdjust="spacingAndGlyphs">e</text>
<text x="374.5" y="37.8" font-size="41" font-family="'Noto Serif CJK SC', 'DejaVu Serif', serif" fill="#111" textLength="31" lengthAdjust="spacingAndGlyphs">&#8773;</text>
<text x="418.8" y="36.8" font-size="41" font-family="'Liberation Serif', 'Times New Roman', serif" fill="#111" textLength="45.2" lengthAdjust="spacingAndGlyphs">1.7</text>
<text x="473.4" y="36.5" font-size="41" font-family="'Liberation Serif', 'Times New Roman', serif" fill="#111" textLength="29.6" lengthAdjust="spacingAndGlyphs">&#215;</text>
<text x="519.7" y="36.8" font-size="41" font-family="'Liberation Serif', 'Times New Roman', serif" fill="#111" textLength="39.2" lengthAdjust="spacingAndGlyphs">10</text>
<text x="563.6" y="20.2" font-size="28" font-family="'Liberation Serif', 'Times New Roman', serif" fill="#111" textLength="21.4" lengthAdjust="spacingAndGlyphs">19</text>
<text x="588.6" y="36.5" font-size="41" font-family="'Liberation Serif', 'Times New Roman', serif" fill="#111" font-style="italic" textLength="34.4" lengthAdjust="spacingAndGlyphs">m</text>
<text x="625.4" y="20.2" font-size="28" font-family="'Liberation Serif', 'Times New Roman', serif" fill="#111" textLength="33.3" lengthAdjust="spacingAndGlyphs">&#8722;3</text>
<text x="662.5" y="36.5" font-size="41" font-family="'Liberation Serif', 'Times New Roman', serif" fill="#111">,</text>
<text x="687" y="36.5" font-size="41" font-family="'Liberation Serif', 'Times New Roman', serif" fill="#111" textLength="210" lengthAdjust="spacingAndGlyphs">High power:</text>
<text x="920" y="36.5" font-size="41" font-family="'Liberation Serif', 'Times New Roman', serif" fill="#111" font-style="italic" textLength="24.5" lengthAdjust="spacingAndGlyphs">P</text>
<text x="944.5" y="43" font-size="25" font-family="'Liberation Serif', 'Times New Roman', serif" fill="#111" font-style="italic" textLength="59.5" lengthAdjust="spacingAndGlyphs">NBI</text>
<text x="1020" y="37.8" font-size="41" font-family="'Noto Serif CJK SC', 'DejaVu Serif', serif" fill="#111" textLength="30" lengthAdjust="spacingAndGlyphs">&#8773;</text>
<text x="1061.8" y="36.8" font-size="41" font-family="'Liberation Serif', 'Times New Roman', serif" fill="#111" textLength="21" lengthAdjust="spacingAndGlyphs">7</text>
<text x="1088" y="36.5" font-size="41" font-family="'Liberation Serif', 'Times New Roman', serif" fill="#111" font-style="italic" textLength="77" lengthAdjust="spacingAndGlyphs">MW</text>
<path d="M327 16.6h10.5" stroke="#111" stroke-width="1.9"/>
</svg></body></html>
